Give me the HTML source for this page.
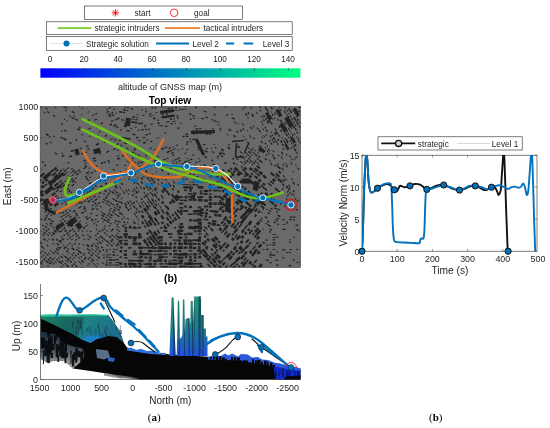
<!DOCTYPE html><html><head><meta charset="utf-8"><title>figure</title><style>html,body{margin:0;padding:0;background:#fff}svg{display:block}text{font-family:"Liberation Sans",sans-serif}</style></head><body>
<svg width="550" height="428" viewBox="0 0 550 428">
<defs><linearGradient id="winter" x1="0" x2="1" y1="0" y2="0"><stop offset="0" stop-color="#0000ff"/><stop offset="1" stop-color="#00ff80"/></linearGradient>
<linearGradient id="spike" gradientUnits="userSpaceOnUse" x1="0" x2="0" y1="296" y2="356"><stop offset="0" stop-color="#1f9c7a"/><stop offset="0.5" stop-color="#1f7c8c"/><stop offset="0.85" stop-color="#2060c0"/><stop offset="1" stop-color="#2050e0"/></linearGradient>
<clipPath id="mapclip"><rect x="40.2" y="106.4" width="260.3" height="161.2"/></clipPath>
<clipPath id="velclip"><rect x="362" y="155" width="175" height="96.5"/></clipPath>
<filter id="soft" x="0" y="0" width="1" height="1"><feGaussianBlur stdDeviation="0.35"/></filter>
</defs>
<rect width="550" height="428" fill="#fff"/>
<rect x="84.5" y="6" width="158.0" height="13.600000000000001" fill="#fff" stroke="#262626" stroke-width="0.6"/>
<rect x="46.4" y="21.8" width="245.79999999999998" height="12.8" fill="#fff" stroke="#262626" stroke-width="0.6"/>
<rect x="46.4" y="36.5" width="245.79999999999998" height="14.0" fill="#fff" stroke="#262626" stroke-width="0.6"/>
<line x1="111.70" y1="12.90" x2="119.10" y2="12.90" stroke="#ff0000" stroke-width="0.9"/>
<line x1="112.78" y1="10.28" x2="118.02" y2="15.52" stroke="#ff0000" stroke-width="0.9"/>
<line x1="115.40" y1="9.20" x2="115.40" y2="16.60" stroke="#ff0000" stroke-width="0.9"/>
<line x1="118.02" y1="10.28" x2="112.78" y2="15.52" stroke="#ff0000" stroke-width="0.9"/>
<text x="142.5" y="16.0" font-size="8.2" text-anchor="middle" font-weight="normal" fill="#1f1f1f" >start</text>
<circle cx="174.1" cy="12.8" r="3.8" fill="none" stroke="#ff0000" stroke-width="0.8"/>
<text x="201.8" y="16.0" font-size="8.2" text-anchor="middle" font-weight="normal" fill="#1f1f1f" >goal</text>
<line x1="57.5" y1="28.2" x2="91.3" y2="28.2" stroke="#78cc28" stroke-width="1.8"/>
<text x="94.6" y="31.2" font-size="8.2" text-anchor="start" font-weight="normal" fill="#1f1f1f" >strategic intruders</text>
<line x1="165" y1="28.2" x2="200" y2="28.2" stroke="#ee7a28" stroke-width="1.8"/>
<text x="203.5" y="31.2" font-size="8.2" text-anchor="start" font-weight="normal" fill="#1f1f1f" >tactical intruders</text>
<line x1="50.5" y1="43.5" x2="83" y2="43.5" stroke="#d4d4d4" stroke-width="0.7"/>
<circle cx="66.5" cy="43.5" r="3" fill="#0072bd"/>
<text x="86" y="46.8" font-size="8.2" text-anchor="start" font-weight="normal" fill="#1f1f1f" >Strategic solution</text>
<line x1="156" y1="43.5" x2="189" y2="43.5" stroke="#0072bd" stroke-width="1.8"/>
<text x="192.5" y="46.8" font-size="8.2" text-anchor="start" font-weight="normal" fill="#1f1f1f" >Level 2</text>
<path d="M226 43.5h8.2M243.6 43.5h9.6" stroke="#0072bd" stroke-width="1.8" fill="none"/>
<text x="262.8" y="46.8" font-size="8.2" text-anchor="start" font-weight="normal" fill="#1f1f1f" >Level 3</text>
<text x="50.0" y="62.4" font-size="8.2" text-anchor="middle" font-weight="normal" fill="#1f1f1f" >0</text>
<line x1="50.4" y1="68.2" x2="50.4" y2="70.6" stroke="#262626" stroke-width="0.5"/>
<text x="84.0" y="62.4" font-size="8.2" text-anchor="middle" font-weight="normal" fill="#1f1f1f" >20</text>
<line x1="84.39999999999999" y1="68.2" x2="84.39999999999999" y2="70.6" stroke="#262626" stroke-width="0.5"/>
<text x="118.0" y="62.4" font-size="8.2" text-anchor="middle" font-weight="normal" fill="#1f1f1f" >40</text>
<line x1="118.39999999999999" y1="68.2" x2="118.39999999999999" y2="70.6" stroke="#262626" stroke-width="0.5"/>
<text x="152.0" y="62.4" font-size="8.2" text-anchor="middle" font-weight="normal" fill="#1f1f1f" >60</text>
<line x1="152.4" y1="68.2" x2="152.4" y2="70.6" stroke="#262626" stroke-width="0.5"/>
<text x="186.0" y="62.4" font-size="8.2" text-anchor="middle" font-weight="normal" fill="#1f1f1f" >80</text>
<line x1="186.4" y1="68.2" x2="186.4" y2="70.6" stroke="#262626" stroke-width="0.5"/>
<text x="220.0" y="62.4" font-size="8.2" text-anchor="middle" font-weight="normal" fill="#1f1f1f" >100</text>
<line x1="220.4" y1="68.2" x2="220.4" y2="70.6" stroke="#262626" stroke-width="0.5"/>
<text x="254.0" y="62.4" font-size="8.2" text-anchor="middle" font-weight="normal" fill="#1f1f1f" >120</text>
<line x1="254.4" y1="68.2" x2="254.4" y2="70.6" stroke="#262626" stroke-width="0.5"/>
<text x="288.0" y="62.4" font-size="8.2" text-anchor="middle" font-weight="normal" fill="#1f1f1f" >140</text>
<line x1="288.40000000000003" y1="68.2" x2="288.40000000000003" y2="70.6" stroke="#262626" stroke-width="0.5"/>
<rect x="40.4" y="68.3" width="260" height="9.4" fill="url(#winter)"/>
<line x1="50.4" y1="68.2" x2="50.4" y2="70.8" stroke="#262626" stroke-width="0.5"/>
<line x1="84.39999999999999" y1="68.2" x2="84.39999999999999" y2="70.8" stroke="#262626" stroke-width="0.5"/>
<line x1="118.39999999999999" y1="68.2" x2="118.39999999999999" y2="70.8" stroke="#262626" stroke-width="0.5"/>
<line x1="152.4" y1="68.2" x2="152.4" y2="70.8" stroke="#262626" stroke-width="0.5"/>
<line x1="186.4" y1="68.2" x2="186.4" y2="70.8" stroke="#262626" stroke-width="0.5"/>
<line x1="220.4" y1="68.2" x2="220.4" y2="70.8" stroke="#262626" stroke-width="0.5"/>
<line x1="254.4" y1="68.2" x2="254.4" y2="70.8" stroke="#262626" stroke-width="0.5"/>
<line x1="288.40000000000003" y1="68.2" x2="288.40000000000003" y2="70.8" stroke="#262626" stroke-width="0.5"/>
<text x="170" y="89.5" font-size="9.1" text-anchor="middle" font-weight="normal" fill="#1f1f1f" >altitude of GNSS map (m)</text>
<text x="170" y="104" font-size="10.1" text-anchor="middle" font-weight="bold" fill="#000" >Top view</text>
<g clip-path="url(#mapclip)">
<rect x="40.2" y="106.4" width="260.3" height="161.2" fill="#6a6a6a"/>
<path fill="#202020" filter="url(#soft)" d="M45.7 107.5L47.9 108.5L47.4 109.5L45.2 108.5ZM44.2 111.8L45.5 112.5L45.0 113.6L43.6 112.9ZM47.2 111.0L49.8 112.4L49.3 113.3L46.7 111.9ZM55.1 106.6L56.4 107.3L55.9 108.1L54.7 107.4ZM53.5 114.7L55.5 115.7L54.8 117.0L52.9 116.0ZM63.5 105.8L65.9 107.1L65.2 108.3L62.9 107.0ZM65.9 107.2L67.8 108.3L67.3 109.1L65.4 107.9ZM65.4 109.5L67.0 110.4L66.4 111.4L64.9 110.5ZM64.0 118.3L65.4 119.2L64.9 120.0L63.5 119.2ZM61.5 123.0L63.3 124.2L62.8 125.1L60.9 124.0ZM72.1 110.7L74.8 112.2L74.1 113.5L71.4 112.0ZM68.9 115.2L71.2 116.4L70.8 117.1L68.5 115.9ZM66.9 120.1L68.1 120.7L67.7 121.5L66.5 120.9ZM79.1 105.6L80.6 106.6L80.0 107.5L78.5 106.5ZM73.9 115.3L75.2 116.0L74.7 116.9L73.3 116.2ZM71.7 116.9L74.6 118.3L74.0 119.4L71.2 118.0ZM75.4 118.4L77.9 119.8L77.3 120.9L74.8 119.6ZM80.9 114.5L82.1 114.0L82.5 114.9L81.2 115.4ZM81.5 108.4L83.2 107.7L83.5 108.6L81.9 109.3ZM87.0 120.2L89.3 119.1L90.0 120.6L87.6 121.7ZM88.1 123.1L90.7 121.8L91.1 122.8L88.5 124.0ZM87.5 111.9L88.8 111.2L89.3 112.0L87.9 112.7ZM93.8 125.3L95.1 124.8L95.7 126.4L94.4 126.9ZM92.1 115.0L93.7 114.2L94.2 115.1L92.5 115.9ZM93.8 119.8L96.7 118.7L97.1 119.7L94.2 120.8ZM94.8 113.9L96.8 112.8L97.2 113.7L95.3 114.7ZM100.6 123.3L102.8 122.3L103.2 123.2L101.0 124.3ZM109.3 124.5L111.4 123.3L112.2 124.8L110.1 125.9ZM106.1 109.5L107.8 108.8L108.1 109.6L106.4 110.3ZM106.3 111.8L108.8 110.9L109.3 112.1L106.8 113.1ZM107.5 114.5L110.4 113.3L110.9 114.4L107.9 115.6ZM108.9 116.1L110.8 115.1L111.4 116.2L109.4 117.2ZM110.7 120.9L112.9 119.9L113.4 121.0L111.2 122.0ZM113.2 125.6L116.2 124.1L116.8 125.4L113.9 126.9ZM108.2 107.9L110.9 106.8L111.3 107.8L108.6 108.8ZM111.2 112.4L112.6 111.7L113.4 113.1L112.0 113.9ZM111.5 115.3L114.0 114.2L114.5 115.3L112.0 116.4ZM114.3 119.9L117.0 118.6L117.4 119.3L114.7 120.7ZM111.9 106.0L113.3 105.2L113.9 106.3L112.5 107.1ZM113.1 108.9L114.6 108.2L115.1 109.1L113.5 109.9ZM115.1 113.2L117.0 112.4L117.3 113.1L115.5 113.9ZM116.9 118.2L119.0 117.3L119.7 118.7L117.6 119.7ZM119.4 111.1L122.4 111.5L122.2 112.9L119.2 112.5ZM124.4 106.8L126.0 107.0L125.9 107.9L124.3 107.7ZM123.3 108.9L126.2 109.4L126.0 110.9L123.0 110.5ZM123.0 111.8L125.2 112.3L125.0 113.2L122.8 112.7ZM121.1 119.2L124.2 119.7L124.1 120.7L120.9 120.2ZM127.0 107.2L129.3 107.6L129.2 108.4L126.9 108.0ZM127.0 110.1L128.4 110.4L128.2 111.4L126.9 111.2ZM124.5 122.7L126.4 123.0L126.1 124.7L124.2 124.3ZM123.9 125.1L126.9 125.8L126.5 127.3L123.6 126.7ZM130.9 108.1L133.2 108.6L132.9 109.8L130.6 109.3ZM128.7 120.6L130.0 120.9L129.8 121.8L128.5 121.5ZM132.4 116.0L135.2 116.6L134.9 118.0L132.1 117.5ZM131.6 118.6L134.3 119.2L134.1 120.1L131.4 119.6ZM131.5 121.0L134.2 121.4L134.0 123.1L131.2 122.6ZM136.9 114.2L138.5 114.5L138.3 115.5L136.7 115.2ZM136.5 117.1L137.9 117.4L137.7 118.4L136.3 118.1ZM135.5 119.0L137.8 119.5L137.5 120.7L135.2 120.2ZM134.3 121.5L137.5 122.2L137.1 123.8L133.9 123.1ZM138.4 122.4L140.2 122.7L139.9 124.3L138.2 124.1ZM139.9 123.2L142.8 122.5L143.0 123.8L140.2 124.4ZM141.4 109.3L142.7 109.0L143.0 110.2L141.7 110.5ZM141.8 115.2L144.7 114.6L144.9 115.3L142.0 116.0ZM144.2 125.0L146.3 124.6L146.5 125.7L144.5 126.1ZM145.1 108.8L146.5 108.6L146.6 109.5L145.2 109.7ZM144.8 111.3L146.6 111.0L146.8 112.3L145.0 112.5ZM148.6 113.7L151.3 113.1L151.5 114.3L148.8 114.8ZM148.6 116.2L151.7 115.5L151.9 116.4L148.8 117.0ZM150.3 123.8L152.9 123.2L153.1 124.2L150.5 124.8ZM151.3 107.2L153.1 107.0L153.2 108.6L151.5 108.8ZM152.6 115.2L154.3 114.9L154.4 115.7L152.8 116.1ZM152.9 117.7L155.4 117.3L155.6 118.9L153.2 119.3ZM154.3 106.9L156.1 106.6L156.4 108.2L154.5 108.5ZM155.5 112.2L157.3 112.0L157.4 113.0L155.6 113.2ZM157.4 119.7L158.8 119.5L159.0 120.9L157.6 121.1ZM157.5 122.5L159.6 122.3L159.7 123.9L157.7 124.1ZM158.0 125.2L159.5 125.1L159.6 126.0L158.1 126.2ZM160.1 125.4L163.0 124.9L163.1 125.9L160.3 126.4ZM161.3 106.3L163.1 105.9L163.3 107.2L161.5 107.6ZM161.9 114.1L163.6 113.8L163.8 115.1L162.1 115.4ZM164.6 105.8L166.4 105.4L166.7 107.0L165.0 107.4ZM165.9 113.6L167.7 113.2L168.0 114.6L166.2 114.9ZM165.6 116.5L167.7 116.3L167.9 117.7L165.7 117.9ZM166.2 121.6L169.4 121.0L169.6 122.0L166.4 122.6ZM167.3 108.1L170.5 107.6L170.7 108.8L167.5 109.3ZM169.6 115.8L171.6 115.4L171.8 116.4L169.8 116.8ZM169.9 118.4L172.0 118.3L172.1 119.9L170.0 120.0ZM170.7 123.0L172.3 122.8L172.5 124.5L170.9 124.7ZM171.2 107.4L173.3 107.1L173.4 108.2L171.4 108.5ZM171.7 110.4L174.8 109.8L175.0 110.7L171.8 111.2ZM173.1 118.4L174.5 118.1L174.8 119.3L173.4 119.6ZM172.8 121.1L175.8 120.8L175.9 121.6L172.8 121.9ZM174.4 123.1L175.8 123.0L175.8 123.8L174.5 123.9ZM175.0 106.8L176.9 106.6L177.1 108.3L175.2 108.5ZM175.6 110.4L177.4 110.1L177.5 110.9L175.7 111.1ZM176.4 115.4L178.2 115.1L178.4 116.3L176.6 116.6ZM176.6 117.3L178.8 117.1L178.9 118.3L176.7 118.5ZM178.9 109.1L180.8 108.8L181.0 109.9L179.1 110.2ZM180.1 122.8L181.5 122.7L181.6 123.9L180.2 124.1ZM181.8 109.1L183.3 108.8L183.5 110.1L182.1 110.3ZM184.0 106.1L187.0 105.8L187.1 106.8L184.2 107.2ZM184.6 109.1L186.4 108.8L186.6 109.8L184.8 110.1ZM189.0 113.6L191.2 113.2L191.5 114.7L189.3 115.1ZM189.8 118.6L191.5 118.4L191.7 120.0L190.1 120.3ZM192.1 115.4L194.6 114.9L194.8 116.2L192.4 116.7ZM193.2 117.8L194.9 117.4L195.2 118.7L193.4 119.1ZM194.3 126.0L196.2 125.6L196.4 126.5L194.5 126.9ZM194.9 107.0L197.0 106.6L197.3 107.8L195.2 108.2ZM203.9 110.4L206.8 111.6L206.3 112.7L203.5 111.5ZM201.6 117.6L203.9 118.4L203.4 119.7L201.1 118.8ZM205.8 116.4L208.0 117.1L207.5 118.5L205.3 117.8ZM213.0 105.6L215.9 106.8L215.5 107.9L212.6 106.6ZM214.2 113.8L215.9 114.4L215.4 115.7L213.7 115.1ZM211.5 119.1L214.3 120.2L214.0 121.0L211.2 119.9ZM214.7 120.3L217.1 121.3L216.6 122.4L214.2 121.5ZM218.2 121.5L219.7 122.0L219.3 123.1L217.8 122.6ZM217.3 124.2L219.7 125.0L219.4 125.8L217.0 125.0ZM223.8 105.4L225.8 106.7L225.2 107.6L223.2 106.3ZM226.6 113.9L228.4 114.8L227.7 116.1L225.9 115.2ZM231.6 113.4L233.0 114.4L232.5 115.1L231.1 114.2ZM232.1 117.0L235.0 118.5L234.4 119.7L231.5 118.2ZM234.1 121.3L236.6 122.8L236.1 123.6L233.6 122.1ZM237.6 123.0L238.8 123.6L238.4 124.4L237.2 123.7ZM245.0 106.1L246.0 107.6L244.8 108.3L243.9 106.8ZM243.0 107.8L244.1 109.5L243.2 110.1L242.2 108.3ZM250.9 106.0L252.4 108.7L251.6 109.2L250.0 106.4ZM259.7 105.6L261.1 107.9L259.9 108.5L258.6 106.3ZM248.4 111.8L249.6 113.9L248.5 114.4L247.4 112.3ZM246.3 113.1L247.5 115.2L246.0 116.0L244.9 113.9ZM256.8 111.7L257.7 113.4L256.8 113.9L255.9 112.2ZM252.5 113.6L254.0 116.2L252.8 117.0L251.2 114.4ZM248.0 116.9L248.8 118.5L248.1 118.9L247.2 117.3ZM242.5 122.8L244.0 125.5L243.3 125.9L241.8 123.2ZM265.5 105.9L266.9 108.5L265.7 109.2L264.3 106.5ZM260.6 109.4L261.5 110.9L260.4 111.6L259.4 110.1ZM273.9 105.2L274.8 106.5L273.4 107.4L272.5 106.1ZM271.5 106.6L273.0 108.8L271.9 109.6L270.4 107.4ZM267.3 108.5L268.7 111.1L267.3 111.8L266.0 109.2ZM279.6 106.3L280.4 107.8L279.6 108.2L278.8 106.7ZM271.2 111.0L271.9 112.3L271.2 112.8L270.4 111.5ZM268.6 112.8L269.3 113.9L268.5 114.5L267.8 113.3ZM266.4 113.2L268.2 115.8L267.1 116.5L265.3 113.9ZM264.2 114.9L265.3 116.8L264.0 117.5L262.9 115.6ZM261.7 115.6L263.4 118.1L262.7 118.6L261.0 116.1ZM279.0 109.6L280.5 112.0L279.0 112.8L277.6 110.4ZM275.2 112.3L276.2 114.4L275.2 114.9L274.2 112.8ZM272.9 113.7L273.7 115.2L272.5 115.9L271.6 114.4ZM270.5 114.9L272.0 117.4L270.8 118.1L269.3 115.6ZM267.9 116.7L269.1 118.4L267.8 119.3L266.6 117.6ZM266.2 117.7L267.0 119.4L265.6 120.1L264.8 118.4ZM263.9 119.2L265.0 121.2L263.9 121.8L262.8 119.8ZM261.6 120.6L262.6 122.4L261.7 122.8L260.8 121.1ZM279.0 113.8L280.1 115.7L278.9 116.5L277.7 114.6ZM274.5 117.3L275.4 118.7L274.6 119.3L273.6 117.9ZM272.1 118.0L273.1 119.6L272.1 120.1L271.2 118.6ZM269.3 119.3L271.0 122.0L269.8 122.8L268.1 120.0ZM267.6 120.1L269.3 122.9L268.0 123.7L266.3 120.9ZM262.8 123.4L263.6 125.0L262.6 125.5L261.8 124.0ZM277.9 118.4L279.2 120.6L278.2 121.2L276.9 119.0ZM271.6 121.9L272.7 124.1L271.4 124.8L270.3 122.6ZM285.2 106.3L286.1 108.0L284.9 108.7L284.0 107.0ZM280.8 109.2L281.8 110.7L280.8 111.3L279.8 109.8ZM289.3 107.7L290.4 110.0L289.1 110.7L288.0 108.4ZM287.1 109.6L288.3 111.7L287.5 112.1L286.3 110.1ZM284.9 110.4L286.1 112.6L285.0 113.2L283.8 111.1ZM299.9 105.8L301.0 107.6L299.6 108.4L298.5 106.6ZM294.8 107.7L296.5 110.5L295.5 111.1L293.8 108.3ZM293.3 109.5L294.5 111.3L293.5 112.0L292.3 110.1ZM291.1 110.3L292.4 112.8L290.9 113.5L289.6 111.1ZM288.9 112.7L289.8 114.2L289.0 114.7L288.1 113.2ZM286.7 113.3L287.9 115.5L287.0 115.9L285.8 113.8ZM299.2 110.3L300.2 112.0L299.1 112.6L298.1 111.0ZM294.7 112.4L295.9 114.1L295.0 114.7L293.9 113.0ZM290.4 115.3L291.3 116.9L290.4 117.4L289.5 115.8ZM288.7 116.1L289.7 117.9L288.2 118.6L287.3 116.8ZM281.0 119.6L282.3 122.2L281.1 122.8L279.8 120.2ZM298.6 114.2L299.4 115.8L298.6 116.2L297.8 114.6ZM297.2 115.4L298.0 116.8L296.5 117.6L295.8 116.1ZM294.7 116.7L296.0 119.2L294.7 119.9L293.4 117.3ZM292.3 117.8L293.5 120.2L292.4 120.8L291.2 118.4ZM289.5 119.6L290.5 121.1L289.7 121.7L288.7 120.1ZM287.8 121.0L288.5 122.4L287.5 123.0L286.7 121.5ZM285.3 121.8L286.7 124.4L285.6 125.0L284.2 122.3ZM283.0 123.3L284.0 125.2L282.6 126.0L281.6 124.1ZM281.3 124.3L282.4 126.5L281.2 127.2L280.0 124.9ZM298.1 118.5L299.2 120.5L297.8 121.2L296.7 119.3ZM295.9 119.4L297.3 122.1L296.3 122.6L294.9 119.9ZM293.8 121.3L295.0 123.2L294.0 123.8L292.8 121.9ZM289.2 124.0L290.3 126.0L289.4 126.5L288.3 124.5ZM300.1 121.6L301.0 123.4L300.1 123.8L299.2 122.1ZM297.8 122.0L299.2 124.3L297.9 125.2L296.4 122.8ZM295.9 124.2L296.7 125.7L295.3 126.5L294.5 125.0ZM46.6 133.3L49.0 134.8L48.1 136.2L45.7 134.7ZM49.1 135.8L51.2 137.1L50.7 137.8L48.6 136.5ZM46.1 142.6L47.9 143.6L47.2 144.8L45.4 143.7ZM53.9 135.4L55.1 136.0L54.4 137.3L53.2 136.7ZM49.7 141.4L52.2 142.7L51.7 143.6L49.3 142.3ZM61.4 130.2L62.6 130.8L61.9 132.0L60.7 131.4ZM64.3 129.5L66.9 131.0L66.3 132.1L63.7 130.5ZM60.9 136.6L63.4 138.0L62.8 139.0L60.3 137.5ZM63.9 137.8L66.7 139.4L66.0 140.7L63.2 139.0ZM79.3 126.3L80.8 127.3L80.2 128.2L78.6 127.2ZM77.7 127.9L80.3 129.3L79.6 130.7L77.0 129.3ZM69.7 141.7L71.7 143.0L70.9 144.2L68.9 142.9ZM75.9 138.9L77.5 139.7L76.8 141.0L75.2 140.2ZM81.1 134.5L82.6 133.8L83.0 134.7L81.5 135.4ZM84.1 141.0L85.4 140.4L86.1 142.0L84.8 142.5ZM86.0 146.2L88.2 145.0L88.7 146.0L86.6 147.2ZM88.9 136.1L90.5 135.4L90.9 136.3L89.3 137.0ZM88.3 128.5L90.6 127.3L91.1 128.4L88.9 129.5ZM95.7 144.2L98.6 142.7L99.3 144.2L96.4 145.7ZM96.0 136.5L98.5 135.1L99.2 136.4L96.7 137.7ZM97.1 138.1L99.7 136.9L100.4 138.4L97.8 139.6ZM95.9 127.5L97.6 126.6L98.1 127.5L96.4 128.4ZM98.3 132.3L100.6 131.0L101.0 131.7L98.7 133.0ZM103.5 141.7L106.4 140.3L107.1 141.7L104.2 143.1ZM104.3 136.0L106.7 134.7L107.3 135.9L104.9 137.1ZM110.0 139.4L112.9 137.9L113.3 138.7L110.4 140.2ZM114.0 139.7L115.7 138.9L116.4 140.3L114.7 141.1ZM115.9 144.2L118.6 143.1L119.0 144.1L116.3 145.2ZM118.8 140.2L120.3 139.5L121.0 140.8L119.5 141.6ZM115.7 127.2L118.0 126.2L118.5 127.3L116.2 128.4ZM120.4 129.0L121.9 129.2L121.7 130.6L120.3 130.5ZM122.0 136.9L125.1 137.3L124.9 138.5L121.8 138.1ZM120.5 144.8L122.5 145.1L122.3 146.4L120.3 146.1ZM126.9 129.7L129.6 130.2L129.3 131.7L126.6 131.2ZM125.1 137.4L128.1 138.0L127.8 139.6L124.8 139.1ZM123.8 142.6L127.0 143.1L126.9 144.0L123.7 143.6ZM130.8 127.6L132.3 127.9L132.0 129.3L130.5 129.0ZM128.1 137.8L131.1 138.4L130.8 139.8L127.8 139.3ZM134.5 126.6L136.6 126.9L136.5 127.8L134.4 127.5ZM132.7 133.4L135.6 134.0L135.3 135.6L132.4 135.0ZM137.9 129.5L139.8 129.9L139.5 131.1L137.6 130.6ZM136.3 136.5L138.6 136.9L138.3 138.5L136.0 138.2ZM138.6 139.7L140.7 140.3L140.4 141.5L138.3 140.9ZM141.0 129.6L143.6 129.1L143.8 130.2L141.2 130.6ZM142.7 137.2L145.0 136.7L145.2 137.9L142.9 138.4ZM143.1 142.1L145.6 141.6L145.9 143.3L143.4 143.7ZM144.1 126.5L145.7 126.2L145.8 127.1L144.3 127.4ZM145.0 129.0L146.5 128.8L146.7 130.1L145.2 130.3ZM145.1 134.3L147.8 133.8L148.0 135.0L145.3 135.5ZM146.3 139.4L148.0 139.0L148.3 140.2L146.6 140.6ZM147.5 128.9L149.8 128.4L150.1 129.6L147.7 130.1ZM148.9 133.0L150.4 132.7L150.7 134.3L149.2 134.5ZM150.4 140.8L152.1 140.4L152.4 142.0L150.7 142.4ZM156.1 137.9L159.1 137.3L159.2 138.1L156.2 138.6ZM164.3 132.9L166.1 132.1L166.5 132.9L164.7 133.7ZM165.1 126.0L167.1 125.3L167.7 126.8L165.6 127.5ZM176.0 145.0L177.9 144.4L178.3 145.5L176.3 146.1ZM177.2 127.8L179.0 127.0L179.6 128.6L177.8 129.3ZM182.6 136.0L184.4 135.8L184.5 137.1L182.7 137.2ZM185.6 133.6L187.7 133.4L187.8 134.9L185.7 135.1ZM185.6 135.8L188.5 135.7L188.6 137.0L185.6 137.1ZM186.2 141.4L188.8 141.2L188.9 142.5L186.3 142.6ZM186.0 143.5L187.7 143.3L187.8 144.8L186.1 144.9ZM189.6 138.6L190.9 138.5L191.0 140.0L189.7 140.1ZM189.9 141.4L191.7 141.3L191.8 142.2L189.9 142.3ZM192.4 130.6L195.5 130.5L195.5 131.8L192.4 131.9ZM193.2 132.9L194.7 132.9L194.6 134.5L193.2 134.5ZM192.5 138.7L195.0 138.5L195.1 140.1L192.6 140.3ZM195.8 128.0L197.8 127.9L197.9 129.5L195.9 129.6ZM196.3 130.5L198.3 130.4L198.4 131.4L196.3 131.4ZM195.7 132.9L198.1 132.7L198.2 133.8L195.8 134.0ZM196.3 140.6L198.0 140.6L198.0 141.6L196.3 141.7ZM198.7 128.4L201.4 128.1L201.5 129.0L198.8 129.2ZM202.2 131.3L204.2 131.2L204.3 132.6L202.3 132.8ZM202.8 144.2L205.5 144.1L205.5 145.1L202.8 145.2ZM205.3 133.8L208.4 133.6L208.4 134.4L205.4 134.7ZM209.2 133.4L210.9 133.2L211.0 134.8L209.4 134.9ZM212.2 128.4L214.1 128.3L214.2 129.2L212.3 129.4ZM213.2 144.0L215.1 143.9L215.1 144.7L213.3 144.8ZM219.6 127.8L221.2 127.7L221.3 129.3L219.8 129.4ZM219.4 130.5L221.0 130.3L221.1 131.3L219.4 131.5ZM229.0 128.6L231.5 130.2L230.7 131.4L228.2 129.8ZM227.2 133.8L228.7 134.7L228.2 135.5L226.7 134.5ZM236.3 130.7L238.7 131.9L238.2 133.0L235.8 131.7ZM233.7 134.7L236.0 136.2L235.1 137.4L232.9 135.9ZM228.5 143.9L230.4 144.8L229.8 145.8L228.0 144.9ZM243.2 127.7L244.3 129.9L243.4 130.4L242.3 128.2ZM240.7 129.1L242.0 131.4L240.8 132.0L239.6 129.7ZM253.5 125.3L254.5 126.9L253.5 127.5L252.6 125.9ZM251.0 126.5L252.4 128.8L251.4 129.4L250.0 127.0ZM247.3 130.0L248.1 131.3L247.5 131.7L246.7 130.5ZM257.3 127.2L258.6 129.1L257.6 129.7L256.3 127.8ZM243.8 135.4L244.6 137.0L243.8 137.4L243.0 135.8ZM259.8 129.6L261.0 131.9L259.7 132.6L258.5 130.3ZM250.0 135.0L251.5 137.6L250.6 138.1L249.1 135.6ZM246.2 138.5L246.9 139.7L245.8 140.3L245.1 139.1ZM254.0 137.2L255.1 138.8L254.0 139.5L252.9 137.9ZM247.4 141.4L248.2 142.5L247.3 143.2L246.5 142.0ZM265.4 126.5L266.4 128.1L265.4 128.7L264.4 127.1ZM263.5 128.2L264.4 129.9L263.4 130.5L262.5 128.7ZM266.9 129.2L268.0 131.6L266.9 132.2L265.7 129.8ZM279.8 125.6L280.8 127.4L279.4 128.1L278.4 126.4ZM275.4 128.2L276.7 130.5L275.7 131.1L274.4 128.8ZM271.3 131.4L272.1 132.7L271.3 133.2L270.5 132.0ZM266.4 133.9L267.2 135.2L266.1 135.9L265.3 134.6ZM263.9 135.0L265.3 137.1L264.5 137.5L263.2 135.5ZM262.4 136.6L263.1 137.9L262.1 138.5L261.4 137.2ZM276.6 131.1L278.3 134.0L277.1 134.7L275.4 131.9ZM275.0 131.9L276.5 134.8L275.3 135.4L273.8 132.5ZM272.3 134.3L273.2 135.8L272.3 136.4L271.3 134.9ZM270.6 135.2L271.9 137.6L270.8 138.1L269.6 135.7ZM261.5 140.4L262.8 142.9L261.8 143.4L260.5 140.9ZM279.3 134.5L280.4 136.2L279.2 137.0L278.1 135.3ZM274.1 137.1L275.3 139.2L274.0 140.0L272.8 137.8ZM272.4 138.5L273.4 139.9L272.4 140.6L271.4 139.2ZM269.9 139.8L270.7 141.1L269.4 141.9L268.6 140.6ZM265.7 142.5L266.5 143.9L265.1 144.6L264.3 143.2ZM260.8 145.2L261.7 147.0L260.9 147.4L260.0 145.6ZM278.7 138.6L279.5 140.1L278.2 140.9L277.4 139.4ZM276.0 139.7L277.7 142.2L276.7 142.8L275.1 140.3ZM274.1 140.9L275.0 142.4L273.7 143.2L272.7 141.8ZM271.4 142.3L272.6 144.2L271.6 144.9L270.3 143.1ZM267.6 145.1L268.3 146.2L267.3 146.9L266.6 145.7ZM277.7 143.0L278.6 144.6L277.5 145.3L276.6 143.6ZM285.7 126.5L286.9 128.6L285.6 129.4L284.4 127.2ZM281.3 129.5L282.2 131.1L280.9 131.9L280.0 130.2ZM293.7 125.3L295.2 127.7L293.9 128.5L292.4 126.0ZM291.3 126.8L292.3 128.7L291.5 129.1L290.6 127.1ZM288.9 128.1L290.1 129.8L289.2 130.4L288.1 128.7ZM286.7 129.1L288.3 131.7L287.3 132.3L285.7 129.7ZM284.7 131.3L285.5 132.5L284.5 133.0L283.8 131.8ZM299.5 125.2L301.0 127.9L299.9 128.5L298.3 125.8ZM295.6 127.8L297.0 130.3L296.0 130.9L294.6 128.4ZM290.6 131.1L291.5 132.7L290.8 133.1L289.9 131.5ZM288.7 132.7L289.8 134.6L288.9 135.1L287.9 133.2ZM286.7 133.0L287.9 135.4L286.5 136.2L285.2 133.7ZM282.0 136.9L282.8 138.3L282.0 138.7L281.2 137.3ZM297.5 131.4L298.4 133.1L297.1 133.8L296.2 132.1ZM294.7 133.1L295.4 134.4L294.5 135.0L293.7 133.7ZM292.6 133.5L293.7 135.8L292.8 136.2L291.6 134.0ZM290.0 135.1L291.7 137.9L291.0 138.3L289.3 135.5ZM288.4 136.6L289.2 138.0L288.4 138.5L287.6 137.0ZM286.0 137.9L287.1 140.0L286.0 140.6L284.8 138.6ZM283.7 139.2L285.0 141.7L284.1 142.1L282.8 139.7ZM281.4 139.9L282.8 142.4L281.4 143.2L280.0 140.8ZM296.9 136.2L297.6 137.4L296.6 138.0L295.9 136.9ZM291.3 137.8L292.9 140.1L292.2 140.6L290.6 138.3ZM290.0 139.4L291.3 141.4L290.5 142.0L289.2 139.9ZM287.4 140.1L288.7 142.6L287.3 143.3L286.0 140.9ZM285.3 141.5L286.8 144.4L285.7 145.0L284.2 142.1ZM282.9 143.6L284.0 145.3L282.7 146.1L281.6 144.5ZM298.1 138.2L299.4 140.9L298.7 141.3L297.3 138.6ZM291.5 142.5L292.5 144.0L291.6 144.6L290.6 143.0ZM299.8 140.8L301.3 143.8L300.4 144.2L298.9 141.3ZM295.3 143.7L296.7 146.1L295.4 146.8L294.0 144.4ZM42.7 161.0L44.0 161.7L43.3 163.2L41.9 162.5ZM44.8 164.2L46.3 165.1L45.5 166.4L44.0 165.5ZM54.9 152.3L57.7 153.9L57.2 154.9L54.4 153.2ZM61.4 153.1L62.7 152.7L63.1 153.9L61.7 154.3ZM61.5 155.6L64.2 155.0L64.5 156.3L61.9 157.0ZM66.7 163.0L69.8 162.1L70.1 162.8L66.9 163.8ZM68.9 156.0L71.8 155.3L72.2 156.7L69.3 157.4ZM70.6 150.4L73.4 149.8L73.7 151.4L70.9 151.9ZM80.0 147.9L81.6 147.4L82.0 149.0L80.4 149.4ZM81.3 153.0L82.9 152.6L83.3 154.1L81.6 154.5ZM83.4 160.3L85.4 159.6L85.8 161.1L83.8 161.7ZM84.4 163.2L85.8 162.8L86.1 163.8L84.7 164.2ZM84.6 165.4L86.6 164.9L87.1 166.5L85.1 167.0ZM84.2 152.2L86.8 151.4L87.1 152.5L84.5 153.3ZM86.3 159.4L88.0 159.0L88.3 160.3L86.6 160.7ZM87.5 162.0L89.4 161.6L89.6 162.5L87.7 163.0ZM87.1 148.7L89.1 148.0L89.6 149.4L87.5 150.1ZM92.3 158.2L95.4 157.3L95.9 158.7L92.7 159.6ZM93.4 160.6L96.2 160.0L96.4 161.1L93.6 161.7ZM94.8 165.9L97.2 165.2L97.5 166.4L95.1 167.1ZM98.2 151.6L100.7 150.7L101.1 152.0L98.6 152.8ZM98.9 153.2L100.3 152.8L100.7 154.3L99.2 154.6ZM100.6 162.9L103.0 161.8L103.6 163.1L101.2 164.2ZM103.6 162.2L105.4 161.3L106.0 162.4L104.2 163.3ZM107.3 160.5L109.0 159.6L109.7 161.0L108.0 161.9ZM108.4 162.5L109.7 161.9L110.2 163.1L108.9 163.7ZM106.0 151.9L108.9 150.6L109.4 151.8L106.5 153.1ZM116.1 164.9L118.0 163.9L118.7 165.1L116.7 166.1ZM112.8 149.2L115.6 147.9L116.2 149.1L113.3 150.3ZM116.3 156.2L119.0 154.8L119.4 155.6L116.8 157.1ZM116.9 158.6L119.5 157.3L120.2 158.7L117.6 160.1ZM117.1 150.0L118.4 149.3L119.0 150.6L117.7 151.3ZM126.2 147.2L128.9 148.9L128.3 149.8L125.7 148.1ZM122.3 154.5L124.1 155.4L123.5 156.7L121.6 155.7ZM128.0 152.0L130.5 153.6L130.0 154.3L127.5 152.7ZM134.9 146.5L136.9 147.5L136.2 148.9L134.2 147.9ZM134.1 148.6L135.7 149.6L134.8 150.9L133.2 149.9ZM132.1 151.2L134.3 152.5L133.4 153.9L131.3 152.6ZM130.8 153.7L132.5 154.6L132.0 155.6L130.2 154.7ZM126.9 160.4L129.0 161.7L128.5 162.4L126.5 161.2ZM124.4 164.4L126.4 165.6L126.0 166.4L124.0 165.2ZM135.4 153.0L136.8 153.9L135.9 155.3L134.5 154.4ZM132.7 157.3L134.0 158.1L133.2 159.5L131.9 158.7ZM131.2 159.7L133.2 160.8L132.7 161.6L130.7 160.5ZM129.7 161.7L131.5 162.9L131.0 163.7L129.2 162.5ZM138.0 154.3L140.7 156.0L140.0 157.0L137.3 155.3ZM134.2 161.6L135.8 162.4L135.4 163.2L133.8 162.3ZM138.4 161.0L140.5 162.3L140.0 163.1L137.9 161.8ZM137.8 162.7L139.3 163.6L138.6 164.7L137.1 163.8ZM140.4 162.1L143.2 161.3L143.5 162.4L140.7 163.2ZM141.1 165.2L143.2 164.5L143.4 165.3L141.4 166.0ZM139.0 149.0L140.9 148.2L141.2 149.1L139.3 149.8ZM144.1 152.3L146.5 151.5L147.0 153.0L144.6 153.8ZM145.3 155.2L146.8 154.5L147.4 156.1L145.9 156.7ZM151.6 163.6L154.7 162.7L155.0 163.9L152.0 164.8ZM149.0 148.3L151.8 147.2L152.2 148.1L149.4 149.2ZM153.8 160.5L156.6 159.6L157.0 161.1L154.3 161.9ZM155.5 162.3L156.9 161.8L157.4 163.1L156.0 163.6ZM153.4 149.8L155.5 149.0L155.8 149.7L153.7 150.5ZM156.8 156.7L158.5 156.1L158.9 157.1L157.2 157.7ZM157.3 159.0L159.1 158.4L159.5 159.8L157.8 160.3ZM158.2 161.6L160.7 160.6L161.0 161.3L158.5 162.3ZM157.1 148.2L158.7 147.6L159.3 149.1L157.7 149.7ZM159.7 161.0L162.6 159.6L163.0 160.5L160.1 161.9ZM161.0 163.3L162.5 162.5L163.3 164.0L161.8 164.7ZM162.6 165.5L164.0 164.8L164.5 166.0L163.2 166.6ZM163.1 159.4L165.5 158.4L165.9 159.5L163.6 160.5ZM165.3 164.2L167.4 163.1L168.0 164.4L165.9 165.4ZM161.2 148.6L164.0 147.4L164.5 148.7L161.8 149.9ZM166.5 158.5L168.3 157.6L168.7 158.4L166.9 159.3ZM169.4 164.8L171.3 164.0L171.9 165.3L170.0 166.1ZM165.0 147.3L167.2 146.4L167.6 147.5L165.4 148.4ZM166.5 151.9L169.4 150.4L170.0 151.7L167.2 153.2ZM171.8 160.9L173.3 160.3L173.8 161.4L172.3 162.0ZM172.4 163.6L174.2 162.9L174.5 163.7L172.7 164.4ZM168.6 147.7L170.4 146.9L171.1 148.4L169.3 149.2ZM170.0 150.8L171.7 150.0L172.2 151.0L170.6 151.8ZM170.9 153.1L173.8 151.9L174.2 153.0L171.4 154.2ZM172.3 155.0L173.8 154.3L174.4 155.7L172.9 156.3ZM174.4 159.5L176.2 158.7L176.9 160.1L175.0 161.0ZM175.5 162.6L178.1 161.4L178.4 162.1L175.9 163.4ZM172.2 146.9L173.9 146.2L174.2 147.0L172.6 147.7ZM172.6 149.3L175.3 148.3L175.7 149.1L172.9 150.2ZM176.8 158.4L179.7 157.2L180.3 158.5L177.4 159.7ZM178.7 160.5L180.3 159.9L180.9 161.3L179.3 162.0ZM177.3 150.0L179.2 149.3L179.5 150.0L177.6 150.8ZM181.1 163.6L183.4 162.7L183.8 163.6L181.5 164.5ZM181.8 165.9L184.3 164.9L184.8 166.2L182.3 167.2ZM183.8 161.8L186.2 160.5L186.9 161.7L184.5 163.0ZM181.5 148.7L183.2 148.1L183.5 149.0L181.9 149.6ZM183.9 153.6L186.3 152.3L186.7 153.0L184.4 154.3ZM186.2 158.2L187.9 157.4L188.2 158.2L186.5 158.9ZM186.6 160.9L189.3 159.5L189.7 160.3L187.0 161.6ZM188.4 162.6L190.6 161.7L191.0 162.6L188.7 163.5ZM185.6 149.9L188.1 148.5L188.5 149.2L186.0 150.6ZM189.9 159.2L192.1 158.3L192.5 159.5L190.4 160.4ZM193.1 166.2L196.0 164.7L196.4 165.5L193.4 166.9ZM192.2 154.8L193.8 154.2L194.3 155.2L192.7 155.9ZM195.1 162.5L197.6 161.4L198.0 162.3L195.5 163.4ZM198.0 158.7L199.6 158.0L199.9 158.7L198.4 159.4ZM198.8 161.3L200.6 160.4L201.0 161.3L199.2 162.2ZM196.7 147.8L198.2 147.1L198.7 148.1L197.2 148.8ZM197.8 149.9L199.3 149.3L199.6 150.2L198.2 150.7ZM206.7 147.6L208.1 148.4L207.5 149.5L206.1 148.8ZM205.1 150.0L207.8 151.6L207.1 152.8L204.4 151.3ZM211.0 147.4L212.2 148.0L211.8 148.9L210.6 148.3ZM204.8 155.8L207.4 157.4L206.8 158.4L204.1 156.9ZM200.5 164.8L202.0 165.7L201.2 167.1L199.6 166.2ZM215.2 146.8L216.7 147.7L216.0 148.8L214.6 147.9ZM212.0 151.0L214.3 152.5L213.9 153.2L211.5 151.8ZM203.9 164.1L206.5 165.8L205.7 166.9L203.1 165.2ZM211.9 159.2L213.3 159.9L212.6 161.4L211.2 160.7ZM219.5 152.3L221.8 153.6L221.0 155.0L218.7 153.8ZM218.3 155.0L219.5 155.7L218.7 157.0L217.6 156.2ZM216.6 156.4L219.0 157.9L218.5 158.7L216.1 157.1ZM212.9 163.3L215.5 164.8L214.9 165.9L212.3 164.4ZM216.1 165.3L217.3 166.0L216.8 167.1L215.5 166.5ZM221.9 148.3L224.1 150.2L223.1 151.4L220.9 149.4ZM220.7 151.1L222.4 152.5L221.8 153.2L220.2 151.8ZM228.2 146.6L230.4 148.3L229.4 149.5L227.2 147.8ZM223.2 152.5L225.2 154.0L224.2 155.3L222.2 153.8ZM221.2 154.9L223.3 156.6L222.5 157.6L220.4 155.9ZM238.1 145.6L240.2 147.2L239.3 148.5L237.1 146.8ZM225.2 161.7L226.9 163.1L225.7 164.4L224.1 162.9ZM233.2 157.6L234.5 158.8L233.4 159.9L232.1 158.7ZM236.6 157.6L238.8 159.5L238.1 160.3L235.9 158.4ZM233.5 162.1L235.3 163.6L234.4 164.7L232.6 163.2ZM236.5 163.9L237.9 165.0L237.2 165.8L235.8 164.7ZM240.7 151.1L242.4 152.5L241.4 153.6L239.8 152.1ZM248.2 147.2L249.7 148.4L249.2 149.0L247.7 147.9ZM244.7 151.2L246.7 152.7L245.8 153.8L243.9 152.3ZM243.1 153.3L244.2 154.2L243.8 154.8L242.6 153.9ZM240.8 155.0L243.4 157.0L242.5 158.1L240.0 156.1ZM252.6 147.4L254.1 148.7L253.3 149.6L251.9 148.3ZM250.6 148.7L252.9 150.8L252.2 151.6L249.9 149.5ZM248.8 150.8L251.3 152.6L250.4 153.8L247.9 152.1ZM247.1 153.2L249.4 155.3L248.8 156.0L246.4 153.9ZM246.2 155.6L247.4 156.6L246.8 157.3L245.6 156.2ZM243.6 157.9L245.0 159.0L244.5 159.6L243.1 158.6ZM240.6 161.1L242.7 162.8L242.1 163.5L240.0 161.8ZM258.7 145.7L259.9 146.7L259.3 147.4L258.1 146.5ZM255.0 149.7L256.3 150.8L255.6 151.5L254.4 150.4ZM252.9 151.7L255.3 153.6L254.8 154.2L252.4 152.4ZM251.4 153.9L253.2 155.2L252.7 155.9L250.9 154.6ZM249.6 155.6L251.4 157.0L250.8 157.7L249.0 156.3ZM248.6 157.6L250.3 158.9L249.5 159.8L247.9 158.6ZM246.8 159.6L248.8 161.5L247.9 162.5L245.9 160.6ZM244.4 160.9L246.8 163.0L245.9 164.0L243.6 161.8ZM243.8 163.8L244.9 164.8L244.3 165.5L243.2 164.5ZM241.3 165.7L243.0 167.1L242.3 167.9L240.6 166.5ZM258.6 149.0L261.1 151.1L260.3 152.1L257.8 149.9ZM258.0 152.0L259.1 152.9L258.4 153.8L257.3 153.0ZM255.6 153.8L257.4 155.5L256.5 156.5L254.7 154.8ZM250.3 159.5L252.6 161.7L251.9 162.4L249.7 160.2ZM249.2 161.7L250.6 162.8L250.1 163.4L248.7 162.4ZM258.3 155.2L260.6 157.4L259.9 158.2L257.5 156.0ZM257.3 157.8L258.9 159.4L258.0 160.3L256.4 158.7ZM255.2 160.3L256.5 161.4L255.6 162.6L254.2 161.5ZM253.0 161.5L255.4 163.6L254.7 164.4L252.3 162.3ZM252.1 163.6L253.6 165.0L253.0 165.7L251.4 164.3ZM259.6 159.8L261.3 161.1L260.5 162.2L258.8 160.8ZM257.0 161.9L259.4 164.0L258.8 164.7L256.4 162.6ZM265.3 146.8L266.2 148.4L265.4 148.8L264.5 147.3ZM268.5 148.2L270.3 150.9L269.3 151.5L267.6 148.8ZM267.4 150.0L268.3 151.7L267.4 152.2L266.5 150.6ZM273.5 150.3L274.3 151.9L273.1 152.5L272.3 150.9ZM269.1 152.5L269.8 153.8L268.4 154.5L267.7 153.2ZM266.5 154.1L267.4 155.6L266.5 156.3L265.5 154.8ZM272.8 154.2L274.0 156.1L272.9 156.8L271.6 154.9ZM265.9 157.9L266.9 159.8L265.4 160.6L264.5 158.6ZM261.3 160.6L262.8 163.0L261.8 163.6L260.3 161.3ZM278.5 154.4L279.4 155.9L278.5 156.5L277.6 155.0ZM274.6 156.8L275.7 158.9L274.3 159.7L273.1 157.5ZM269.8 159.5L270.9 161.4L270.3 161.9L269.1 159.9ZM271.1 162.7L272.5 165.1L271.6 165.6L270.2 163.2ZM278.1 163.1L278.9 164.3L277.8 165.0L277.1 163.8ZM275.3 164.2L276.2 165.7L275.0 166.4L274.1 165.0ZM283.8 147.8L284.6 149.1L283.2 150.0L282.4 148.6ZM293.5 145.3L294.7 147.1L293.7 147.8L292.5 146.0ZM291.9 147.0L292.6 148.4L291.5 149.0L290.8 147.7ZM282.0 151.4L283.5 154.2L282.4 154.8L280.9 152.1ZM295.0 148.3L296.6 150.7L295.3 151.6L293.8 149.1ZM286.7 153.8L287.5 155.0L286.4 155.8L285.6 154.5ZM281.6 156.2L282.9 158.5L282.0 159.0L280.7 156.7ZM296.8 151.5L298.1 153.9L297.3 154.4L295.9 151.9ZM290.3 155.2L291.3 156.9L290.2 157.6L289.1 156.0ZM296.4 155.9L297.4 157.6L296.2 158.3L295.2 156.7ZM294.5 157.4L295.7 159.4L294.9 159.9L293.8 157.9ZM292.3 158.6L293.1 159.9L292.0 160.5L291.2 159.1ZM285.5 162.4L286.2 163.7L285.2 164.3L284.5 163.0ZM283.3 163.9L284.3 165.6L283.3 166.2L282.3 164.5ZM291.5 162.2L292.5 164.2L291.3 164.8L290.3 162.8ZM287.0 164.8L288.0 166.8L286.9 167.4L285.8 165.5ZM295.7 164.1L296.8 165.8L296.1 166.3L295.0 164.5ZM39.4 180.5L41.4 179.0L42.3 180.1L40.3 181.7ZM41.2 182.6L43.2 180.8L44.9 182.6L42.9 184.5ZM42.4 186.4L46.7 183.2L47.6 184.4L43.3 187.6ZM39.6 175.6L43.8 172.4L45.2 174.1L41.0 177.4ZM44.4 179.9L46.5 178.1L48.3 180.2L46.2 182.0ZM47.3 182.1L49.7 180.3L50.9 181.9L48.6 183.7ZM48.8 184.4L50.9 182.6L52.5 184.5L50.4 186.3ZM46.0 175.4L49.5 172.4L50.9 174.1L47.5 177.1ZM52.3 182.1L54.8 179.8L56.1 181.2L53.6 183.5ZM53.9 185.3L57.9 182.2L59.1 183.7L55.1 186.9ZM56.0 187.4L60.1 184.2L61.6 186.3L57.6 189.4ZM49.7 171.8L53.0 169.0L54.2 170.5L50.9 173.3ZM51.5 174.9L55.4 172.0L56.5 173.5L52.6 176.4ZM53.2 177.4L57.0 173.8L58.7 175.6L54.9 179.2ZM53.4 168.9L55.8 166.8L57.5 168.6L55.1 170.8ZM55.5 170.9L57.8 169.1L58.7 170.2L56.4 172.0ZM58.1 173.4L59.9 171.8L60.9 172.9L59.0 174.5ZM58.9 181.7L61.3 180.0L62.2 181.3L59.9 183.1ZM60.6 184.1L63.0 182.2L63.9 183.3L61.5 185.2ZM62.7 185.6L64.5 184.0L65.5 185.2L63.7 186.8ZM64.3 181.7L65.7 180.3L66.5 181.1L65.0 182.5ZM67.2 185.6L69.0 183.9L69.8 184.7L68.0 186.4ZM59.2 171.2L61.5 169.3L62.4 170.5L60.1 172.3ZM62.5 175.2L64.9 173.3L65.9 174.7L63.5 176.6ZM66.7 179.0L68.2 177.8L68.9 178.6L67.4 179.8ZM68.3 181.9L70.4 180.2L71.0 180.9L68.9 182.6ZM71.2 185.8L73.6 183.8L74.4 184.8L72.1 186.8ZM62.9 169.1L64.0 168.3L64.8 169.3L63.7 170.1ZM63.3 171.4L65.8 169.5L66.6 170.5L64.1 172.5ZM65.4 173.2L67.3 171.6L68.0 172.4L66.1 174.0ZM67.6 175.2L68.8 174.3L69.3 174.9L68.1 175.8ZM68.9 177.0L70.3 175.9L71.1 176.9L69.6 178.0ZM70.7 179.2L72.6 177.7L73.5 178.8L71.6 180.3ZM71.5 181.5L73.8 179.6L74.9 180.8L72.6 182.8ZM74.3 182.4L75.4 181.5L76.4 182.6L75.3 183.6ZM66.2 169.0L68.3 167.1L69.0 167.9L66.8 169.7ZM69.9 172.6L71.1 171.5L71.8 172.3L70.5 173.3ZM71.7 175.1L73.0 174.0L73.8 175.0L72.5 176.1ZM74.8 178.5L76.1 177.3L77.0 178.3L75.7 179.5ZM70.8 168.9L72.4 167.5L73.1 168.4L71.6 169.8ZM71.8 171.2L74.2 169.3L75.0 170.3L72.6 172.2ZM73.9 172.7L75.8 171.0L76.8 172.2L74.9 173.9ZM76.0 174.5L78.0 172.8L78.9 173.9L76.9 175.6ZM77.0 170.8L79.0 169.1L79.8 169.9L77.7 171.6ZM78.8 171.8L80.0 170.8L81.1 172.0L79.9 173.0ZM84.7 176.6L86.5 175.6L87.1 176.6L85.3 177.6ZM85.8 178.6L87.4 177.5L88.3 178.8L86.6 179.9ZM87.3 180.4L88.5 179.6L89.3 180.8L88.1 181.6ZM88.7 183.5L91.1 182.1L91.8 183.4L89.4 184.7ZM83.1 168.2L85.9 166.8L86.5 167.8L83.7 169.3ZM86.0 173.0L88.6 171.3L89.4 172.5L86.9 174.2ZM88.2 174.8L89.5 173.9L90.0 174.6L88.7 175.5ZM89.3 177.1L90.8 176.2L91.4 177.4L90.0 178.2ZM94.6 185.8L96.1 184.8L97.0 186.2L95.5 187.2ZM88.5 168.0L89.9 167.2L90.5 168.1L89.0 168.9ZM90.6 172.7L92.6 171.7L93.3 173.0L91.3 174.0ZM94.0 170.7L95.5 169.9L96.0 170.9L94.5 171.7ZM97.3 178.2L99.9 176.8L100.4 177.8L97.9 179.2ZM103.5 178.8L106.2 180.1L105.6 181.2L102.9 179.9ZM100.2 185.2L102.7 186.6L102.1 187.7L99.6 186.4ZM113.0 168.6L115.4 170.2L114.9 170.9L112.5 169.4ZM105.5 182.6L107.5 183.6L106.8 184.9L104.8 183.8ZM115.4 178.7L117.7 180.3L117.2 181.1L114.9 179.5ZM118.0 181.1L120.3 182.3L119.8 183.3L117.5 182.1ZM115.2 185.0L117.8 186.5L117.0 187.9L114.4 186.4ZM120.0 170.9L122.8 172.3L122.4 173.1L119.5 171.7ZM126.0 168.2L128.0 169.4L127.5 170.3L125.4 169.2ZM123.7 172.3L126.3 174.0L125.7 174.8L123.1 173.1ZM127.8 171.7L130.5 173.2L129.8 174.5L127.0 173.0ZM121.2 182.7L123.5 183.9L123.0 185.1L120.6 183.9ZM133.8 169.1L135.6 170.1L135.0 171.2L133.2 170.3ZM130.4 173.1L133.1 174.9L132.2 176.3L129.5 174.5ZM129.1 175.6L131.2 176.7L130.7 177.6L128.6 176.5ZM128.5 178.1L130.8 179.3L130.1 180.4L127.9 179.2ZM136.7 170.5L138.8 171.9L138.3 172.7L136.2 171.3ZM135.3 173.2L136.5 173.8L135.9 174.9L134.7 174.3ZM137.5 177.0L138.8 177.7L138.2 178.7L136.9 178.0ZM135.6 179.3L137.6 180.3L136.9 181.7L134.9 180.8ZM134.2 181.8L135.7 182.6L134.9 183.9L133.4 183.1ZM136.9 182.5L139.6 184.2L139.0 185.2L136.3 183.5ZM139.7 165.6L141.3 168.0L140.4 168.5L138.9 166.2ZM146.0 170.1L147.6 172.3L146.6 173.1L144.9 170.9ZM144.2 172.1L145.2 173.4L144.5 173.9L143.5 172.6ZM148.2 173.3L149.0 174.5L148.1 175.2L147.2 174.0ZM144.1 176.0L144.9 177.2L143.9 177.9L143.1 176.6ZM141.9 177.0L143.3 179.3L142.0 180.1L140.6 177.8ZM156.5 171.2L157.3 172.4L156.6 172.9L155.8 171.7ZM152.2 173.7L153.6 175.5L152.3 176.5L150.9 174.6ZM149.8 174.9L151.8 177.4L150.7 178.2L148.7 175.8ZM147.5 176.8L149.4 179.2L148.3 180.0L146.4 177.7ZM141.6 181.0L143.2 183.3L142.0 184.1L140.4 181.8ZM153.5 176.6L155.4 179.1L154.8 179.5L152.9 177.1ZM152.1 177.9L153.6 180.1L152.2 181.0L150.7 178.8ZM150.0 179.6L151.3 181.2L150.2 182.1L148.9 180.5ZM158.1 178.3L159.4 180.2L158.4 180.9L157.0 179.0ZM153.9 180.4L155.7 183.0L154.5 183.9L152.6 181.3ZM151.8 182.8L153.5 184.9L152.4 185.8L150.7 183.7ZM158.1 182.9L159.3 184.4L158.6 184.9L157.4 183.3ZM159.6 165.2L161.4 167.9L160.4 168.6L158.6 165.8ZM161.8 168.2L163.5 170.8L162.3 171.6L160.6 169.0ZM171.0 167.8L171.8 168.9L171.0 169.6L170.1 168.5ZM168.1 172.7L169.4 174.6L168.4 175.3L167.1 173.4ZM164.1 175.9L165.1 177.4L164.1 178.1L163.1 176.5ZM162.0 177.4L163.3 179.4L162.4 180.0L161.1 178.0ZM176.2 170.6L178.0 173.1L177.0 173.9L175.2 171.3ZM165.8 178.5L167.0 180.3L166.0 181.0L164.8 179.1ZM162.0 181.8L163.0 183.3L161.8 184.1L160.8 182.6ZM176.2 176.1L177.0 177.3L176.1 177.9L175.3 176.7ZM168.0 181.7L169.2 183.4L168.5 183.9L167.3 182.2ZM166.1 183.3L167.1 184.9L166.0 185.5L165.0 184.0ZM173.5 180.6L175.2 183.4L174.4 183.9L172.7 181.1ZM169.8 183.5L171.4 186.0L170.0 186.9L168.4 184.3ZM168.0 185.7L168.9 187.0L167.6 187.9L166.7 186.6ZM178.3 182.4L179.1 183.5L178.1 184.2L177.3 183.1ZM173.6 184.8L175.1 187.0L174.0 187.8L172.5 185.6ZM183.0 168.0L184.7 168.1L184.7 169.6L183.0 169.6ZM183.0 173.8L184.4 173.8L184.4 174.9L183.0 174.9ZM182.6 176.2L184.4 176.3L184.3 177.3L182.6 177.2ZM182.2 178.7L185.5 178.8L185.5 179.8L182.2 179.7ZM183.1 181.1L184.5 181.1L184.5 182.6L183.1 182.6ZM181.8 184.0L185.1 184.0L185.1 184.9L181.8 184.8ZM185.6 173.3L187.7 173.3L187.6 174.8L185.6 174.8ZM185.2 176.3L188.5 176.1L188.6 176.9L185.3 177.2ZM186.1 178.9L187.6 178.9L187.7 180.0L186.2 180.0ZM185.3 184.2L188.6 184.1L188.6 185.1L185.3 185.1ZM188.7 171.2L191.7 171.2L191.7 172.3L188.7 172.3ZM189.5 173.1L191.0 173.1L191.0 174.8L189.5 174.7ZM189.6 176.2L191.6 176.2L191.6 177.2L189.6 177.3ZM189.4 181.7L191.5 181.7L191.5 182.6L189.4 182.7ZM189.4 184.2L191.2 184.2L191.2 185.6L189.4 185.7ZM193.0 171.0L194.8 171.0L194.8 172.6L193.0 172.6ZM193.0 174.0L194.7 173.9L194.7 174.8L193.0 174.9ZM192.5 178.8L195.0 178.8L195.0 179.8L192.5 179.8ZM192.3 181.2L194.6 181.3L194.6 182.6L192.3 182.5ZM192.5 183.7L195.1 183.7L195.1 185.2L192.5 185.2ZM196.2 176.2L198.5 176.1L198.5 177.7L196.3 177.9ZM195.8 181.0L198.9 181.1L198.9 182.8L195.7 182.6ZM195.3 184.3L198.2 184.3L198.2 185.6L195.3 185.6ZM201.6 178.9L204.7 178.7L204.8 179.8L201.7 180.0ZM202.0 181.5L204.6 181.4L204.6 182.3L202.0 182.4ZM205.5 181.2L208.7 181.0L208.8 182.5L205.6 182.7ZM209.2 176.3L211.9 176.2L212.0 177.4L209.3 177.5ZM208.7 181.5L211.5 181.4L211.6 183.0L208.8 183.0ZM209.4 183.8L211.1 183.8L211.1 185.5L209.4 185.5ZM212.6 168.3L215.4 168.2L215.5 169.6L212.7 169.7ZM212.3 171.0L215.0 170.9L215.1 172.3L212.3 172.4ZM212.6 183.8L215.4 183.7L215.4 184.8L212.7 184.9ZM215.9 173.3L218.4 173.4L218.3 174.4L215.9 174.3ZM215.7 176.4L218.7 176.2L218.8 177.5L215.8 177.7ZM215.8 181.6L218.8 181.5L218.8 183.0L215.8 183.1ZM223.0 169.1L224.9 170.6L223.7 172.2L221.8 170.7ZM230.5 167.3L232.6 169.0L231.5 170.2L229.5 168.5ZM228.6 169.1L231.2 171.5L229.8 173.0L227.2 170.6ZM226.8 172.2L228.6 173.6L227.0 175.6L225.2 174.2ZM221.6 176.8L225.1 179.7L224.0 181.0L220.5 178.1ZM220.7 179.3L222.5 180.9L221.0 182.6L219.2 181.1ZM235.0 166.8L238.9 169.7L237.4 171.8L233.4 168.9ZM234.0 170.2L235.9 171.8L234.6 173.4L232.7 171.8ZM230.9 171.8L234.7 174.6L233.3 176.5L229.5 173.8ZM230.3 175.5L232.3 177.1L230.9 179.0L228.9 177.4ZM227.5 177.0L231.1 179.9L229.9 181.4L226.3 178.5ZM225.0 179.2L228.9 182.7L227.5 184.2L223.6 180.7ZM222.1 184.9L224.1 186.8L222.9 188.2L220.8 186.4ZM239.3 170.4L242.0 172.9L240.5 174.6L237.8 172.1ZM238.0 172.4L240.5 174.6L238.8 176.6L236.3 174.4ZM231.5 180.9L233.6 182.5L232.5 183.9L230.4 182.4ZM234.6 183.3L237.4 185.4L236.3 186.9L233.5 184.7ZM245.0 166.5L247.3 168.6L245.5 170.5L243.3 168.4ZM242.5 168.5L245.9 171.5L244.9 172.6L241.5 169.6ZM240.8 171.7L243.0 173.4L241.8 174.9L239.6 173.3ZM250.5 166.9L253.0 168.8L251.3 171.0L248.8 169.1ZM245.9 171.8L249.3 174.4L247.7 176.4L244.3 173.8ZM244.9 174.6L246.6 176.1L245.4 177.6L243.6 176.2ZM240.4 179.9L242.3 181.7L240.9 183.3L239.0 181.5ZM257.5 164.9L260.4 167.7L259.0 169.1L256.1 166.3ZM255.3 167.7L258.6 170.1L257.1 172.0L253.9 169.6ZM253.1 169.7L256.6 172.6L255.7 173.6L252.3 170.7ZM251.6 172.6L253.7 174.2L252.7 175.5L250.6 173.9ZM250.1 174.8L252.2 176.4L250.6 178.5L248.5 176.9ZM245.4 179.6L248.9 182.6L247.9 183.7L244.4 180.7ZM242.1 185.2L243.9 186.6L242.4 188.5L240.6 187.0ZM259.5 170.9L261.6 172.6L260.4 174.2L258.2 172.4ZM257.0 173.0L260.4 175.6L259.5 176.8L256.2 174.2ZM255.3 175.2L258.3 177.6L257.0 179.3L254.0 176.9ZM251.0 179.9L255.2 183.2L253.5 185.3L249.3 182.0ZM259.5 178.6L261.6 180.4L259.8 182.6L257.6 180.7ZM255.8 180.7L259.7 183.7L258.7 185.0L254.8 182.0ZM254.3 182.9L257.7 185.8L256.8 186.9L253.3 184.0ZM261.0 171.4L263.2 173.1L261.4 175.3L259.3 173.5ZM263.9 174.6L266.8 177.3L265.3 178.9L262.4 176.1ZM277.7 164.9L281.2 168.3L280.0 169.5L276.5 166.2ZM271.3 171.9L274.8 175.1L273.4 176.6L269.9 173.5ZM263.6 182.4L265.7 184.0L264.4 185.8L262.3 184.2ZM261.4 184.4L264.7 187.4L263.6 188.7L260.3 185.6ZM279.2 170.7L281.5 172.6L280.3 174.1L277.9 172.2ZM276.3 173.0L280.2 176.0L279.0 177.5L275.1 174.5ZM275.8 176.1L277.5 177.6L276.6 178.7L274.8 177.3ZM273.7 178.1L275.9 180.2L274.0 182.3L271.8 180.2ZM270.7 180.4L274.3 183.6L273.4 184.6L269.8 181.4ZM268.5 182.4L272.2 185.4L271.2 186.6L267.5 183.6ZM278.8 178.1L282.2 181.0L280.7 182.7L277.3 179.8ZM282.5 167.5L284.0 170.3L283.0 170.8L281.5 168.1ZM298.2 167.5L299.0 168.9L297.8 169.5L297.0 168.1ZM293.3 170.7L294.0 172.1L292.9 172.6L292.2 171.2ZM283.4 174.9L285.2 177.6L284.4 178.1L282.6 175.4ZM285.9 178.4L286.9 180.1L285.8 180.7L284.8 179.0ZM283.4 179.1L284.9 181.2L283.5 182.1L282.0 180.0ZM281.9 181.3L282.5 182.6L281.5 183.1L280.9 181.8ZM292.2 178.3L293.2 180.1L292.3 180.6L291.3 178.8ZM283.2 183.1L284.5 185.5L283.2 186.3L281.9 183.8ZM293.6 181.4L295.0 184.1L293.8 184.8L292.3 182.0ZM289.1 184.2L290.3 186.4L289.3 186.9L288.1 184.7ZM287.3 185.5L288.4 187.6L287.0 188.4L285.8 186.3ZM298.0 183.5L299.1 185.4L298.0 186.0L296.9 184.1ZM38.1 200.5L41.6 197.9L43.3 200.1L39.8 202.8ZM41.1 204.2L44.6 201.1L45.5 202.1L42.0 205.2ZM43.4 205.5L45.5 203.6L47.1 205.4L44.9 207.3ZM38.0 193.1L42.1 189.7L43.7 191.7L39.7 195.1ZM40.2 195.1L42.8 193.1L44.4 195.1L41.8 197.1ZM45.2 199.8L47.6 197.9L48.9 199.6L46.4 201.4ZM46.0 202.6L48.9 199.9L50.8 201.9L47.9 204.6ZM48.9 204.6L51.4 202.6L52.8 204.5L50.3 206.5ZM40.4 186.7L42.5 185.1L44.1 187.2L41.9 188.8ZM44.7 191.4L46.4 190.1L48.0 192.2L46.3 193.5ZM53.5 204.9L57.3 201.9L59.0 204.1L55.2 207.1ZM47.9 189.1L50.3 187.2L51.4 188.6L48.9 190.5ZM51.0 194.7L54.4 192.0L55.9 193.8L52.4 196.6ZM54.5 196.5L56.4 195.0L57.5 196.4L55.5 197.9ZM56.6 198.9L58.4 197.1L59.7 198.5L57.9 200.2ZM52.8 189.5L56.3 186.9L57.2 188.0L53.7 190.6ZM55.3 191.4L58.1 189.2L59.0 190.3L56.1 192.5ZM61.0 204.0L63.0 202.2L63.6 202.8L61.6 204.6ZM60.9 197.7L62.4 196.5L63.0 197.3L61.5 198.5ZM61.6 199.7L64.1 197.8L65.0 199.1L62.5 201.0ZM64.0 201.9L65.4 200.6L66.0 201.3L64.6 202.5ZM64.9 204.1L67.5 202.2L68.3 203.1L65.6 205.1ZM67.5 205.7L68.7 204.7L69.6 205.7L68.4 206.7ZM59.6 191.5L61.5 190.1L62.1 190.9L60.3 192.3ZM64.7 197.9L67.3 196.0L67.8 196.7L65.3 198.6ZM66.4 200.2L68.9 198.1L69.4 198.7L66.9 200.8ZM69.4 203.3L71.6 201.6L72.4 202.5L70.1 204.3ZM60.2 187.6L62.7 185.6L63.3 186.3L60.8 188.4ZM67.7 195.3L68.9 194.3L69.4 194.9L68.3 195.9ZM70.5 199.5L72.0 198.3L72.8 199.2L71.2 200.4ZM72.3 201.3L73.9 199.9L74.6 200.7L72.9 202.1ZM75.7 205.0L77.1 204.0L77.6 204.6L76.2 205.7ZM66.4 189.4L68.5 187.4L69.3 188.3L67.2 190.3ZM67.9 191.4L70.0 189.8L70.9 190.9L68.8 192.5ZM70.3 192.6L71.4 191.6L72.2 192.6L71.2 193.6ZM71.9 194.5L73.0 193.6L73.9 194.7L72.9 195.6ZM73.8 196.9L75.1 195.9L75.7 196.6L74.4 197.7ZM74.7 199.1L77.0 197.3L77.8 198.3L75.6 200.2ZM76.2 201.5L78.6 199.3L79.5 200.3L77.2 202.5ZM77.9 202.7L79.4 201.6L80.3 202.8L78.9 203.9ZM74.1 192.9L75.5 191.7L76.4 192.8L75.1 193.9ZM77.0 197.4L79.1 195.4L80.3 196.6L78.2 198.6ZM77.0 190.7L78.8 189.1L79.5 189.9L77.7 191.5ZM78.7 207.5L81.0 205.8L81.7 206.8L79.5 208.5ZM79.7 200.9L80.8 200.1L81.4 201.0L80.3 201.7ZM80.1 203.1L82.4 201.5L83.2 202.7L80.9 204.2ZM83.4 207.1L85.1 206.0L85.7 206.9L84.0 208.0ZM82.0 199.0L84.2 197.3L84.7 198.0L82.6 199.7ZM83.7 201.5L85.6 200.1L86.2 201.0L84.3 202.4ZM80.8 192.7L83.4 190.8L84.4 192.1L81.8 194.0ZM82.7 195.0L84.5 193.7L85.4 195.0L83.7 196.2ZM84.2 197.0L86.7 195.2L87.3 196.0L84.8 197.8ZM86.5 199.0L87.9 198.0L88.5 198.8L87.1 199.8ZM87.2 201.6L89.6 200.0L90.4 201.3L88.0 202.8ZM91.2 205.7L92.7 204.5L93.3 205.2L91.7 206.4ZM85.9 193.4L88.1 191.8L88.7 192.6L86.5 194.2ZM87.5 195.1L89.7 193.7L90.2 194.5L88.0 195.9ZM88.7 197.2L90.9 195.5L91.4 196.2L89.2 197.9ZM90.3 199.0L91.7 198.1L92.5 199.4L91.1 200.3ZM92.1 201.5L93.5 200.5L94.3 201.7L92.9 202.7ZM93.5 204.2L96.0 202.3L96.7 203.2L94.1 205.1ZM94.9 206.2L97.6 204.5L98.1 205.2L95.4 207.0ZM88.7 191.6L91.3 189.7L91.8 190.4L89.2 192.3ZM92.0 195.4L94.3 193.9L94.8 194.5L92.4 196.1ZM93.1 197.2L95.4 195.5L96.1 196.4L93.7 198.1ZM94.3 199.9L96.9 198.3L97.6 199.5L95.0 201.1ZM97.5 203.3L99.9 201.9L100.6 203.1L98.3 204.5ZM91.2 188.5L93.3 187.2L94.1 188.5L92.0 189.8ZM93.9 191.2L95.0 190.4L95.5 191.1L94.4 191.9ZM94.2 193.1L96.7 191.3L97.5 192.5L95.0 194.3ZM98.1 197.2L99.9 196.1L100.3 196.8L98.5 198.0ZM98.6 193.3L100.8 191.7L101.5 192.7L99.3 194.3ZM102.8 185.9L105.5 187.4L104.9 188.4L102.2 186.9ZM104.8 189.7L106.9 190.8L106.1 192.3L104.0 191.1ZM103.6 193.0L105.0 193.8L104.4 194.8L103.0 194.0ZM109.0 189.7L111.4 191.2L110.9 192.0L108.5 190.5ZM108.3 192.3L110.1 193.2L109.4 194.6L107.6 193.7ZM107.2 194.4L108.5 195.2L107.8 196.4L106.5 195.6ZM105.5 196.4L107.6 197.6L106.8 199.0L104.7 197.8ZM103.5 198.5L106.0 199.9L105.3 201.0L102.9 199.6ZM102.5 200.9L104.7 202.1L104.1 203.1L102.0 201.9ZM100.5 205.6L101.7 206.2L100.9 207.5L99.8 206.8ZM115.2 187.6L116.7 188.4L116.4 189.1L114.8 188.3ZM113.8 189.7L115.5 190.6L115.1 191.3L113.4 190.4ZM112.0 191.1L114.4 192.4L113.7 193.7L111.3 192.4ZM107.1 200.2L109.3 201.3L108.6 202.8L106.3 201.6ZM105.6 202.8L108.0 204.2L107.6 204.9L105.2 203.6ZM116.2 191.1L118.3 192.4L117.7 193.4L115.5 192.1ZM115.4 193.1L116.9 194.0L116.4 195.0L114.8 194.1ZM112.6 197.9L115.0 199.2L114.5 200.2L112.1 198.9ZM110.1 202.0L112.0 202.9L111.4 204.2L109.5 203.2ZM108.4 204.5L110.4 205.8L109.9 206.6L107.9 205.3ZM119.4 192.9L121.0 193.7L120.4 194.9L118.8 194.0ZM117.9 194.4L119.8 195.4L119.1 196.9L117.1 195.9ZM117.1 197.1L118.8 198.1L118.2 199.1L116.5 198.1ZM115.2 199.4L117.7 200.7L117.0 202.1L114.5 200.8ZM112.6 203.4L114.8 204.9L114.2 205.8L111.9 204.4ZM118.2 200.7L120.6 202.0L120.0 203.0L117.6 201.8ZM116.5 203.3L118.9 204.6L118.2 205.7L115.9 204.4ZM116.2 205.8L117.8 206.7L117.3 207.5L115.7 206.6ZM120.1 186.5L121.2 188.1L120.3 188.7L119.3 187.1ZM121.9 189.1L122.8 190.3L122.1 190.8L121.3 189.5ZM128.7 189.0L129.9 190.7L129.1 191.3L127.8 189.6ZM126.2 189.5L128.0 192.2L127.1 192.8L125.3 190.0ZM123.5 191.1L125.2 193.7L124.3 194.3L122.7 191.7ZM136.4 186.5L137.8 188.8L136.9 189.3L135.5 187.0ZM134.3 188.3L135.6 190.5L134.7 191.1L133.3 188.9ZM132.7 190.2L133.8 191.5L132.7 192.3L131.7 191.0ZM128.3 193.2L129.2 194.6L128.4 195.2L127.5 193.8ZM121.7 197.5L122.6 198.6L121.4 199.6L120.5 198.5ZM138.2 189.9L139.8 192.3L139.1 192.8L137.5 190.4ZM136.5 190.7L138.0 192.9L136.7 193.8L135.2 191.6ZM134.4 192.8L135.3 194.1L134.5 194.6L133.6 193.3ZM132.4 193.9L133.8 195.8L132.9 196.5L131.5 194.5ZM121.1 201.2L122.9 203.5L121.8 204.3L120.1 202.0ZM136.1 195.7L137.3 197.5L136.2 198.2L135.1 196.4ZM130.4 200.1L131.3 201.4L130.1 202.3L129.2 201.0ZM127.8 201.1L129.6 203.5L128.6 204.2L126.9 201.8ZM125.5 202.8L127.2 205.1L125.9 206.0L124.3 203.7ZM136.4 200.2L137.6 201.8L136.8 202.4L135.6 200.8ZM134.0 201.6L135.0 203.0L133.6 204.0L132.6 202.6ZM132.0 202.4L133.2 204.4L132.2 205.1L131.0 203.0ZM130.2 204.7L131.1 206.1L129.9 206.8L129.0 205.5ZM138.5 202.8L139.3 203.9L138.5 204.4L137.7 203.3ZM134.2 205.3L135.5 207.3L134.2 208.2L132.9 206.3ZM140.1 204.7L141.9 207.4L140.6 208.2L138.8 205.6ZM140.3 186.0L142.0 188.4L141.1 189.0L139.4 186.6ZM146.7 185.2L148.3 187.7L147.2 188.3L145.6 185.9ZM144.2 187.1L145.4 189.0L144.1 189.9L142.9 188.0ZM149.8 186.4L151.9 189.0L150.8 189.9L148.7 187.3ZM148.4 188.5L149.4 190.2L148.6 190.7L147.5 189.0ZM144.2 191.6L145.4 193.5L144.5 194.0L143.3 192.1ZM156.0 186.7L157.8 189.0L157.1 189.6L155.3 187.2ZM154.7 187.7L156.7 190.4L155.5 191.3L153.5 188.7ZM152.5 190.1L153.5 191.6L152.8 192.1L151.8 190.5ZM150.4 191.5L151.8 193.6L150.9 194.2L149.5 192.1ZM147.8 193.0L149.0 194.8L148.2 195.4L146.9 193.6ZM146.3 194.3L148.0 196.7L146.7 197.6L145.0 195.2ZM144.5 195.7L145.6 197.2L144.5 198.1L143.3 196.6ZM141.6 197.8L142.8 199.4L141.7 200.2L140.5 198.5ZM156.9 191.5L158.0 193.2L157.2 193.7L156.1 192.0ZM154.8 193.0L156.3 194.9L155.1 195.8L153.6 193.9ZM152.3 193.6L154.3 196.2L153.3 197.0L151.3 194.4ZM148.1 197.5L149.3 199.6L148.4 200.2L147.1 198.1ZM143.3 200.4L145.0 202.8L144.4 203.2L142.6 200.9ZM141.6 201.8L143.1 203.7L142.3 204.4L140.8 202.4ZM156.0 195.0L157.4 197.3L156.4 197.9L155.1 195.6ZM152.4 198.2L154.1 200.5L152.8 201.5L151.1 199.2ZM149.9 199.8L151.8 202.5L150.6 203.3L148.7 200.6ZM147.8 200.9L149.5 203.3L148.7 203.9L147.0 201.4ZM146.0 202.9L146.9 204.2L145.6 205.1L144.7 203.8ZM143.0 204.8L144.4 206.5L143.8 207.0L142.4 205.3ZM158.5 197.7L160.3 200.0L159.1 201.0L157.2 198.7ZM155.6 199.7L157.1 201.7L156.3 202.4L154.7 200.4ZM153.2 201.1L155.2 203.7L154.5 204.3L152.5 201.7ZM152.0 202.5L153.2 204.3L151.9 205.3L150.6 203.5ZM149.7 204.5L151.0 206.2L149.9 207.1L148.6 205.4ZM147.9 205.3L149.3 207.5L148.3 208.1L146.9 206.0ZM158.1 203.0L159.3 204.7L158.6 205.2L157.4 203.5ZM155.9 203.6L157.4 205.8L156.3 206.6L154.8 204.4ZM153.8 205.0L155.7 207.4L154.3 208.5L152.5 206.0ZM160.0 205.6L161.6 207.9L160.8 208.5L159.2 206.2ZM164.8 186.8L167.0 190.5L164.8 191.9L162.6 188.2ZM162.7 189.5L164.3 192.2L162.6 193.3L160.9 190.6ZM172.8 187.8L174.1 189.8L173.0 190.6L171.6 188.6ZM167.5 190.5L170.2 194.6L168.6 195.7L165.9 191.6ZM161.6 194.4L164.0 198.4L162.9 199.1L160.4 195.1ZM178.3 190.3L179.7 192.1L178.3 193.2L176.9 191.4ZM172.7 193.4L174.7 196.7L173.1 197.7L171.0 194.4ZM163.0 200.9L164.3 202.8L162.2 204.3L160.9 202.5ZM177.2 194.3L180.2 198.4L178.5 199.7L175.4 195.5ZM175.4 195.6L178.5 199.9L176.3 201.5L173.2 197.2ZM172.8 198.4L175.6 202.0L173.6 203.6L170.8 200.0ZM170.9 200.8L172.4 202.8L170.3 204.4L168.8 202.4ZM165.2 204.5L166.9 207.2L165.8 207.9L164.1 205.2ZM178.8 195.9L183.3 196.2L183.2 197.9L178.7 197.5ZM179.8 199.4L183.3 199.5L183.3 201.0L179.7 200.9ZM178.8 202.6L183.4 202.7L183.4 204.6L178.7 204.4ZM183.4 186.1L188.3 186.1L188.2 188.6L183.3 188.5ZM184.2 189.3L186.7 189.4L186.6 191.2L184.2 191.1ZM184.5 195.9L187.4 195.8L187.5 198.3L184.6 198.4ZM183.8 199.6L187.2 199.7L187.2 201.4L183.7 201.3ZM183.9 205.4L186.9 205.4L186.9 207.5L183.9 207.5ZM187.9 186.3L193.0 186.5L193.0 188.7L187.9 188.5ZM189.4 188.9L191.6 188.8L191.7 191.7L189.6 191.8ZM187.8 193.2L192.0 192.9L192.1 194.4L187.9 194.7ZM188.2 196.1L191.6 195.9L191.7 197.6L188.3 197.7ZM188.5 198.8L192.0 199.0L191.9 200.8L188.4 200.7ZM189.5 205.8L191.7 205.7L191.8 207.4L189.6 207.4ZM192.8 192.5L196.5 192.6L196.5 194.8L192.7 194.7ZM192.6 198.8L196.7 199.0L196.6 200.9L192.5 200.7ZM197.1 186.3L201.8 186.5L201.7 188.1L197.1 187.8ZM197.0 196.4L202.2 196.2L202.2 197.9L197.0 198.1ZM198.0 198.7L200.5 198.6L200.6 201.1L198.1 201.2ZM198.4 186.3L203.3 186.1L203.4 188.6L198.5 188.8ZM199.7 190.2L202.4 190.2L202.3 191.7L199.7 191.6ZM199.7 192.4L202.6 192.2L202.7 194.5L199.8 194.6ZM199.3 196.0L203.4 196.1L203.4 197.5L199.3 197.5ZM199.5 198.7L202.7 198.8L202.7 201.5L199.4 201.5ZM203.9 189.7L208.4 189.9L208.3 192.2L203.8 192.0ZM203.5 193.1L207.5 192.9L207.6 194.9L203.6 195.1ZM204.3 199.3L207.8 199.5L207.6 201.9L204.1 201.7ZM203.9 205.6L208.3 205.5L208.3 207.6L204.0 207.6ZM208.4 186.0L212.0 186.0L212.1 188.2L208.4 188.2ZM208.9 189.6L211.6 189.6L211.6 191.6L208.9 191.6ZM209.1 193.5L211.7 193.5L211.7 194.8L209.1 194.9ZM208.7 196.1L211.9 195.9L212.0 198.4L208.8 198.6ZM208.9 199.1L211.8 199.3L211.6 201.1L208.8 201.0ZM208.5 202.0L212.5 202.2L212.4 205.0L208.4 204.8ZM209.2 205.3L211.4 205.2L211.6 208.0L209.3 208.1ZM213.1 189.7L217.4 189.6L217.4 191.3L213.2 191.4ZM213.8 195.7L216.8 195.6L216.9 197.7L213.9 197.8ZM213.3 202.5L216.8 202.3L216.9 204.8L213.4 205.0ZM217.4 186.4L222.2 186.3L222.3 188.3L217.5 188.5ZM217.4 190.2L221.2 190.2L221.2 191.6L217.4 191.6ZM217.5 195.7L221.2 195.9L221.0 197.9L217.3 197.7ZM217.8 202.3L221.9 202.0L222.1 204.7L217.9 204.9ZM224.8 187.2L227.0 189.0L226.0 190.2L223.8 188.4ZM223.2 189.2L225.1 190.9L223.5 192.7L221.6 190.9ZM226.1 192.3L228.6 194.7L227.2 196.1L224.7 193.8ZM224.4 194.2L227.5 196.5L225.8 198.7L222.7 196.4ZM222.0 196.5L224.8 199.2L223.0 201.0L220.2 198.4ZM219.9 199.4L222.9 202.2L221.9 203.3L218.9 200.4ZM236.7 184.7L240.8 187.7L239.8 189.0L235.7 186.0ZM235.3 186.8L239.4 190.3L238.2 191.7L234.1 188.3ZM234.3 190.3L236.1 192.0L234.6 193.6L232.8 191.9ZM229.8 195.7L231.6 197.5L230.6 198.5L228.8 196.7ZM223.2 202.3L226.8 205.4L225.2 207.2L221.6 204.2ZM221.7 205.4L223.8 207.3L222.8 208.4L220.7 206.5ZM240.0 190.6L241.6 192.1L239.7 194.2L238.1 192.7ZM237.0 192.7L240.8 195.4L239.2 197.6L235.4 194.8ZM229.4 203.1L231.4 204.6L230.4 205.9L228.4 204.4ZM238.3 198.5L241.9 201.6L240.5 203.2L236.9 200.1ZM236.7 200.6L239.7 203.2L238.0 205.2L234.9 202.6ZM245.0 186.9L247.0 188.7L245.6 190.4L243.5 188.5ZM242.5 189.4L245.5 191.9L244.3 193.3L241.4 190.8ZM240.6 191.9L243.1 193.8L242.0 195.2L239.6 193.3ZM248.6 190.2L251.0 192.4L249.8 193.7L247.4 191.4ZM246.4 192.7L248.2 194.3L246.6 196.0L244.8 194.4ZM244.0 194.3L246.7 196.7L245.1 198.5L242.4 196.1ZM241.3 197.0L244.6 199.4L243.7 200.5L240.5 198.1ZM240.1 199.4L243.2 202.0L241.4 204.1L238.3 201.5ZM258.3 185.5L260.8 187.3L259.6 188.9L257.1 187.1ZM256.3 187.8L258.4 189.8L256.8 191.4L254.8 189.5ZM252.4 193.0L254.2 194.5L252.6 196.3L250.9 194.9ZM249.8 194.5L252.7 196.7L251.1 198.8L248.3 196.6ZM246.4 200.4L248.4 202.2L246.8 204.0L244.8 202.2ZM241.6 204.3L244.3 206.8L242.5 208.7L239.8 206.2ZM258.3 193.5L260.0 195.2L258.5 196.8L256.8 195.1ZM254.8 195.3L257.9 197.9L256.9 199.1L253.8 196.6ZM253.2 198.0L256.7 200.5L255.3 202.4L251.8 199.8ZM248.0 202.6L252.2 205.8L250.9 207.4L246.8 204.3ZM256.1 200.6L259.9 204.0L258.5 205.5L254.7 202.1ZM254.9 203.4L257.4 205.3L256.2 206.9L253.8 205.0ZM264.0 187.1L267.4 189.8L266.5 190.9L263.1 188.2ZM261.2 192.2L263.2 193.6L262.0 195.3L260.0 193.9ZM265.6 192.1L269.0 194.7L267.7 196.3L264.3 193.7ZM263.7 194.2L267.4 197.4L266.0 199.1L262.3 195.9ZM261.7 196.7L264.6 199.5L263.6 200.4L260.8 197.7ZM275.5 187.5L279.3 190.7L278.1 192.0L274.4 188.8ZM271.4 192.5L275.3 195.5L273.9 197.2L270.1 194.2ZM269.9 195.5L272.5 197.7L271.5 198.8L269.0 196.6ZM263.7 202.4L266.3 204.4L264.9 206.3L262.2 204.3ZM261.6 205.0L264.7 208.0L263.5 209.3L260.3 206.3ZM279.0 190.5L281.9 192.9L281.0 194.1L278.1 191.6ZM273.4 198.2L275.6 200.3L273.8 202.3L271.5 200.2ZM270.6 199.8L274.5 203.2L273.0 204.9L269.1 201.5ZM275.4 203.8L277.2 205.1L275.7 207.2L273.9 205.8ZM279.6 204.7L281.0 202.0L282.0 202.5L280.6 205.2ZM283.8 206.6L285.1 204.6L286.3 205.4L285.0 207.5ZM285.8 199.5L286.8 197.7L287.7 198.2L286.8 200.0ZM289.8 202.0L290.5 200.7L291.5 201.2L290.8 202.5ZM286.8 196.1L288.0 194.1L289.0 194.7L287.8 196.7ZM294.0 200.4L295.7 197.6L296.5 198.1L294.8 200.8ZM296.4 201.4L297.3 199.8L298.4 200.3L297.5 201.9ZM281.6 190.1L283.2 187.3L284.0 187.7L282.5 190.5ZM286.8 192.2L288.1 189.9L289.1 190.4L287.8 192.7ZM289.0 193.4L290.2 191.4L291.1 191.9L289.8 194.0ZM291.2 194.8L292.3 192.9L293.4 193.5L292.3 195.5ZM293.3 195.5L294.1 194.2L294.9 194.7L294.1 196.0ZM285.9 187.9L286.9 186.3L287.7 186.8L286.7 188.4ZM287.9 189.5L289.4 187.0L290.6 187.7L289.1 190.2ZM292.5 191.8L293.5 189.9L294.9 190.7L294.0 192.5ZM42.8 207.3L44.3 208.2L43.8 208.9L42.3 208.1ZM45.1 210.9L46.5 211.6L45.8 213.1L44.4 212.4ZM40.7 218.3L42.8 219.3L42.4 220.3L40.2 219.2ZM49.8 207.4L52.0 208.5L51.6 209.4L49.3 208.3ZM47.8 212.8L49.2 213.3L48.7 214.5L47.3 213.9ZM46.3 214.8L48.1 215.5L47.5 216.9L45.7 216.2ZM44.8 216.9L47.2 218.2L46.6 219.2L44.2 217.9ZM44.1 219.0L46.3 220.1L45.7 221.1L43.6 220.0ZM42.4 224.6L44.1 225.4L43.7 226.2L42.0 225.5ZM51.7 211.6L53.0 212.1L52.5 213.4L51.2 212.9ZM51.0 214.2L52.4 214.9L51.8 216.2L50.3 215.4ZM48.2 217.9L51.1 219.3L50.5 220.4L47.7 218.9ZM46.2 223.1L48.1 224.1L47.7 224.8L45.8 223.9ZM45.0 225.8L47.5 226.9L46.9 228.1L44.5 227.0ZM55.7 210.3L58.5 211.5L57.9 212.9L55.1 211.7ZM51.4 219.9L54.1 221.2L53.5 222.4L50.8 221.2ZM50.0 222.4L52.7 223.5L52.2 224.8L49.5 223.7ZM49.5 224.4L51.5 225.5L51.0 226.2L49.1 225.2ZM59.4 211.9L60.8 212.6L60.2 213.9L58.8 213.2ZM52.2 226.4L54.6 227.7L54.2 228.4L51.8 227.2ZM57.9 223.4L59.2 224.1L58.8 224.9L57.5 224.1ZM56.2 225.2L58.8 226.3L58.2 227.7L55.6 226.6ZM59.2 226.9L61.1 225.7L61.9 226.9L59.9 228.2ZM59.2 221.3L60.9 220.0L61.5 220.8L59.8 222.1ZM61.1 223.2L63.0 221.9L63.4 222.5L61.5 223.8ZM63.7 227.6L64.9 226.7L65.4 227.5L64.3 228.4ZM60.3 216.6L61.9 215.6L62.5 216.7L60.9 217.7ZM61.7 218.9L63.2 217.9L64.0 219.0L62.5 220.0ZM63.5 221.3L65.6 220.1L66.1 221.0L64.1 222.2ZM65.4 223.6L66.7 222.5L67.3 223.3L65.9 224.3ZM66.8 225.4L68.4 224.3L69.0 225.4L67.5 226.4ZM61.6 213.0L63.7 211.6L64.3 212.5L62.2 213.9ZM62.8 215.5L65.3 214.0L65.8 214.7L63.3 216.3ZM64.8 217.4L67.3 215.4L67.8 216.0L65.3 218.1ZM67.3 221.7L69.5 219.9L70.0 220.6L67.8 222.3ZM69.2 223.7L70.9 222.6L71.6 223.8L70.0 224.9ZM70.2 225.8L72.7 223.9L73.7 225.2L71.2 227.1ZM63.3 208.6L64.8 207.6L65.3 208.4L63.9 209.4ZM64.6 211.2L67.0 209.6L67.5 210.3L65.0 211.9ZM66.0 213.3L68.1 211.7L68.8 212.6L66.7 214.2ZM67.4 215.5L69.8 214.0L70.2 214.6L67.9 216.2ZM69.1 217.0L71.0 215.7L71.7 216.7L69.8 218.0ZM70.2 219.3L72.3 218.0L72.8 218.8L70.7 220.2ZM71.4 221.9L73.8 219.9L74.7 221.1L72.3 223.0ZM75.2 225.8L76.4 224.8L77.2 225.8L75.9 226.8ZM69.3 210.5L70.5 209.7L71.4 211.0L70.1 211.8ZM73.2 217.9L75.7 216.2L76.2 217.0L73.8 218.7ZM72.7 211.3L75.0 209.8L75.8 210.9L73.5 212.5ZM74.9 213.3L76.4 212.3L77.3 213.5L75.7 214.6ZM75.5 215.4L77.6 214.1L78.3 215.3L76.2 216.6ZM77.4 218.1L79.2 216.7L79.7 217.4L78.0 218.8ZM78.2 208.0L80.8 206.2L81.4 207.1L78.8 208.9ZM79.2 221.1L80.3 220.3L80.9 221.1L79.9 221.9ZM83.5 227.2L85.8 225.7L86.3 226.6L84.0 228.1ZM85.4 223.3L86.6 222.3L87.3 223.2L86.1 224.1ZM86.2 225.7L87.9 224.3L88.4 224.9L86.6 226.3ZM81.2 212.8L83.6 211.4L84.4 212.7L82.0 214.1ZM84.7 217.4L87.4 215.5L87.9 216.3L85.3 218.2ZM86.1 218.8L88.3 217.5L89.1 218.8L86.9 220.2ZM83.1 209.0L85.0 207.4L85.9 208.6L84.0 210.1ZM84.5 210.7L86.1 209.7L86.8 210.7L85.3 211.8ZM88.9 217.5L90.5 216.5L91.0 217.3L89.4 218.3ZM90.7 219.5L92.5 218.5L93.3 219.8L91.6 220.9ZM92.3 221.1L93.5 220.2L94.1 221.0L92.9 221.9ZM93.1 223.9L95.2 222.2L95.7 222.9L93.6 224.6ZM95.5 225.1L96.7 224.3L97.6 225.5L96.3 226.3ZM89.7 214.0L92.1 212.2L92.6 212.9L90.3 214.7ZM94.7 219.4L96.0 218.6L96.7 219.7L95.5 220.6ZM96.6 221.9L98.5 220.7L99.0 221.5L97.1 222.7ZM91.2 209.3L93.7 207.6L94.5 208.8L92.0 210.6ZM95.7 215.6L97.6 214.4L98.2 215.2L96.2 216.4ZM95.8 209.3L97.7 207.9L98.5 209.0L96.6 210.3ZM100.8 211.1L102.4 212.0L101.9 212.9L100.3 212.1ZM103.4 212.4L105.7 213.9L104.8 215.3L102.5 213.8ZM102.0 214.3L104.6 215.9L103.8 217.2L101.2 215.5ZM101.4 217.5L103.1 218.6L102.5 219.6L100.8 218.5ZM110.2 207.7L112.1 208.7L111.7 209.4L109.9 208.4ZM109.5 209.7L110.9 210.6L110.2 211.7L108.8 210.9ZM108.6 212.5L109.8 213.1L109.1 214.5L107.9 213.9ZM106.8 214.5L109.1 215.9L108.6 216.6L106.3 215.3ZM105.9 216.4L107.5 217.4L106.9 218.4L105.3 217.4ZM103.9 218.8L106.7 220.3L106.1 221.5L103.2 220.1ZM102.8 221.1L104.0 221.7L103.4 222.8L102.2 222.2ZM114.1 206.8L116.8 208.5L116.3 209.3L113.6 207.6ZM113.4 209.1L116.0 210.3L115.4 211.5L112.8 210.2ZM112.2 211.2L114.6 212.5L114.0 213.6L111.6 212.3ZM110.3 213.8L112.9 215.1L112.3 216.4L109.6 215.0ZM110.0 216.2L111.6 217.1L110.9 218.4L109.3 217.5ZM107.9 218.4L110.0 219.8L109.3 221.0L107.1 219.6ZM107.3 220.6L109.4 221.8L108.7 223.0L106.6 221.8ZM104.7 225.1L105.9 225.8L105.3 226.9L104.1 226.2ZM119.6 206.4L121.2 207.5L120.4 208.7L118.8 207.6ZM117.9 208.6L120.0 209.6L119.3 210.9L117.3 209.9ZM114.6 213.3L116.9 214.6L116.4 215.5L114.1 214.2ZM110.0 222.3L112.4 223.7L112.0 224.5L109.6 223.1ZM109.2 224.8L110.5 225.5L109.8 226.7L108.5 226.0ZM119.5 212.1L121.9 213.6L121.2 214.8L118.8 213.3ZM117.6 214.8L119.8 216.1L119.2 217.2L117.0 215.9ZM115.3 219.6L117.2 220.9L116.4 222.1L114.5 220.8ZM114.1 221.9L115.6 222.8L115.1 223.6L113.6 222.7ZM118.1 220.6L120.9 222.1L120.3 223.1L117.5 221.6ZM117.2 223.3L118.5 224.1L117.8 225.4L116.4 224.6ZM116.2 226.0L117.4 226.6L117.1 227.4L115.8 226.8ZM120.0 205.9L121.3 207.5L120.0 208.6L118.7 207.0ZM125.9 205.6L127.8 208.2L126.6 209.1L124.7 206.5ZM130.6 207.4L131.7 208.9L130.7 209.6L129.7 208.1ZM128.5 208.7L129.7 210.5L128.3 211.5L127.1 209.6ZM121.8 212.8L123.4 215.0L122.7 215.6L121.0 213.4ZM136.4 207.5L137.7 209.0L136.5 209.9L135.3 208.4ZM123.8 216.0L125.5 218.5L124.8 219.0L123.1 216.4ZM122.1 218.0L123.0 219.2L122.0 220.0L121.1 218.8ZM138.6 209.9L140.4 212.6L139.5 213.2L137.7 210.5ZM136.2 211.1L137.5 212.8L136.5 213.6L135.2 211.8ZM134.5 212.6L136.1 215.2L135.2 215.8L133.6 213.2ZM127.9 217.8L129.1 219.2L128.1 220.0L126.9 218.6ZM124.2 220.8L125.4 222.5L124.4 223.3L123.1 221.5ZM136.5 215.7L137.8 217.7L137.0 218.2L135.7 216.2ZM127.7 221.7L128.5 223.0L127.5 223.6L126.7 222.3ZM125.5 223.5L126.4 224.8L125.5 225.5L124.5 224.2ZM123.3 224.5L124.7 226.7L123.4 227.6L121.9 225.5ZM138.0 218.7L139.3 220.4L138.6 220.9L137.4 219.1ZM134.2 221.1L135.9 223.5L134.7 224.4L132.9 221.9ZM129.8 224.7L130.7 226.2L130.0 226.6L129.1 225.1ZM138.1 222.9L139.5 224.7L138.8 225.2L137.4 223.4ZM134.4 225.7L135.4 227.0L134.4 227.8L133.4 226.4ZM146.6 205.1L149.4 209.5L148.2 210.2L145.5 205.8ZM145.1 207.3L147.8 210.7L145.7 212.4L143.0 209.0ZM142.0 210.0L143.6 212.4L142.4 213.2L140.8 210.9ZM155.6 206.4L157.3 208.9L156.2 209.7L154.4 207.2ZM147.6 211.8L149.3 214.2L148.0 215.1L146.2 212.7ZM142.8 214.7L144.7 217.3L142.7 218.7L140.9 216.1ZM158.1 209.3L160.5 213.2L158.8 214.3L156.4 210.3ZM155.6 210.9L158.2 214.1L155.9 215.8L153.4 212.6ZM150.1 214.6L153.0 218.9L150.7 220.4L147.8 216.2ZM144.9 219.2L146.7 221.5L145.6 222.4L143.8 220.1ZM142.6 221.0L144.3 223.5L142.8 224.5L141.2 222.0ZM155.3 217.2L157.2 220.3L155.6 221.4L153.6 218.3ZM152.0 218.7L154.4 222.5L153.1 223.4L150.6 219.6ZM149.8 220.0L152.6 224.6L150.6 225.9L147.7 221.3ZM146.9 221.8L149.8 226.0L148.2 227.2L145.2 223.0ZM144.9 224.9L146.6 227.5L145.4 228.3L143.7 225.7ZM157.1 220.0L159.9 224.1L158.7 224.9L155.9 220.8ZM155.3 222.5L156.8 225.0L155.0 226.1L153.5 223.6ZM167.4 205.7L169.8 209.2L168.0 210.4L165.6 206.9ZM162.0 208.7L164.7 213.1L163.4 213.9L160.7 209.5ZM167.3 211.1L169.5 214.3L167.4 215.7L165.2 212.5ZM162.3 214.8L164.5 218.3L162.4 219.6L160.2 216.1ZM178.1 209.3L180.4 212.4L178.8 213.6L176.5 210.5ZM175.4 211.3L177.8 214.8L176.5 215.7L174.1 212.1ZM173.2 213.5L174.4 215.5L172.8 216.4L171.6 214.5ZM169.7 215.1L171.7 218.2L170.6 218.9L168.5 215.9ZM167.4 217.1L169.5 220.2L168.1 221.2L166.0 218.1ZM162.8 221.2L164.1 223.3L162.1 224.5L160.8 222.4ZM177.7 214.3L180.3 218.5L178.9 219.4L176.3 215.2ZM175.3 216.8L177.3 219.8L175.6 221.0L173.6 217.9ZM173.3 219.3L174.7 221.2L173.3 222.2L171.9 220.3ZM170.8 220.3L172.8 223.0L170.6 224.6L168.6 222.0ZM167.4 222.9L169.7 225.8L168.3 226.9L166.0 224.0ZM164.8 224.8L166.3 226.9L164.8 227.9L163.3 225.9ZM179.2 207.0L183.4 207.2L183.3 208.7L179.1 208.5ZM179.9 209.7L182.6 209.5L182.7 212.2L180.0 212.4ZM180.2 212.7L182.4 212.5L182.6 215.0L180.3 215.1ZM179.7 223.0L183.0 223.0L183.1 224.8L179.7 224.9ZM178.4 225.5L183.8 225.7L183.8 227.7L178.4 227.5ZM183.3 209.9L188.2 210.2L188.1 212.1L183.2 211.8ZM188.6 206.9L192.0 206.7L192.1 208.0L188.7 208.2ZM187.7 213.4L192.8 213.6L192.8 214.9L187.6 214.8ZM189.3 219.0L191.8 219.0L191.8 221.6L189.3 221.6ZM188.7 225.9L192.4 225.9L192.4 227.9L188.7 228.0ZM193.1 210.1L197.5 210.2L197.4 212.1L193.1 212.0ZM193.4 212.6L196.7 212.6L196.7 214.6L193.4 214.6ZM192.8 219.4L197.9 219.5L197.8 221.7L192.8 221.6ZM193.9 225.7L196.5 225.6L196.6 228.2L194.0 228.3ZM197.7 206.4L201.5 206.7L201.4 208.6L197.6 208.3ZM196.6 209.7L201.9 209.6L202.0 212.3L196.6 212.4ZM197.4 212.9L201.4 212.8L201.4 215.3L197.4 215.4ZM197.3 218.4L201.6 218.6L201.4 221.5L197.2 221.3ZM197.8 222.0L202.1 222.3L201.9 224.9L197.6 224.6ZM197.1 225.4L201.7 225.3L201.7 227.9L197.2 228.0ZM200.6 208.0L204.0 208.7L203.5 211.3L200.1 210.6ZM200.1 211.5L204.3 212.2L204.0 213.9L199.8 213.2ZM200.3 214.6L203.1 215.1L202.9 216.7L200.0 216.3ZM206.1 208.7L208.2 209.1L207.9 210.9L205.8 210.5ZM205.1 211.9L208.0 212.5L207.5 214.9L204.5 214.3ZM205.0 214.9L207.2 215.4L206.7 217.9L204.5 217.5ZM203.2 218.5L208.3 219.3L208.1 220.7L203.0 219.8ZM209.6 209.9L213.7 210.4L213.5 212.3L209.3 211.8ZM208.7 216.0L211.6 216.6L211.4 217.9L208.5 217.4ZM208.0 222.1L211.1 222.7L210.7 224.6L207.7 224.0ZM207.9 225.1L210.1 225.3L209.9 227.5L207.6 227.3ZM213.3 210.1L218.4 210.7L218.2 213.0L213.0 212.5ZM214.4 213.4L217.6 214.0L217.1 216.6L213.9 216.0ZM212.3 220.0L216.5 220.7L216.2 222.7L212.0 222.1ZM211.7 222.5L216.0 223.2L215.6 225.9L211.3 225.2ZM218.3 214.1L221.5 214.6L221.2 217.1L217.9 216.6ZM216.7 224.1L220.4 224.6L220.2 226.2L216.5 225.7ZM220.6 223.0L222.7 220.7L224.1 221.9L221.9 224.2ZM222.7 225.5L224.9 222.6L226.2 223.6L224.0 226.5ZM224.9 226.6L226.5 224.3L228.6 225.9L227.0 228.1ZM222.7 219.6L225.7 215.8L227.6 217.3L224.7 221.0ZM225.8 220.7L227.3 218.9L229.4 220.6L227.9 222.4ZM227.3 223.1L229.9 220.1L231.8 221.8L229.2 224.7ZM230.5 226.3L233.4 222.6L234.9 223.8L232.0 227.5ZM232.9 227.8L235.7 224.8L237.1 226.2L234.4 229.2ZM218.6 209.2L221.1 206.4L222.7 207.9L220.2 210.7ZM221.2 211.3L223.0 209.3L224.9 211.1L223.2 213.0ZM228.9 217.8L230.8 215.2L232.1 216.1L230.2 218.7ZM231.1 219.6L232.7 217.4L234.5 218.7L232.9 220.9ZM233.4 221.7L235.3 219.4L236.4 220.3L234.6 222.6ZM236.2 224.6L238.4 221.7L239.7 222.7L237.4 225.5ZM238.1 227.1L241.4 223.1L242.6 224.0L239.2 228.1ZM226.3 210.7L229.1 207.2L231.2 208.9L228.4 212.4ZM228.4 212.6L231.4 208.7L232.9 209.8L229.9 213.7ZM230.8 215.3L234.3 211.5L235.6 212.7L232.2 216.5ZM234.1 216.4L235.7 214.5L237.1 215.7L235.6 217.6ZM231.7 208.3L233.2 206.5L235.3 208.3L233.8 210.0ZM234.3 211.2L237.6 207.7L239.1 209.1L235.7 212.6ZM239.8 222.6L242.7 219.3L244.5 220.9L241.6 224.2ZM245.6 226.4L247.3 224.6L248.3 225.5L246.7 227.3ZM239.8 217.6L243.2 213.4L245.1 215.0L241.7 219.2ZM242.2 219.2L245.5 215.5L247.5 217.3L244.2 221.0ZM247.5 224.1L250.4 220.3L252.5 221.9L249.6 225.7ZM253.5 227.0L255.2 225.3L256.3 226.3L254.6 228.1ZM238.9 209.4L241.5 206.7L243.0 208.1L240.4 210.8ZM243.1 214.4L246.2 210.2L248.3 211.8L245.2 216.0ZM246.1 216.2L248.8 212.8L250.0 213.8L247.3 217.1ZM255.8 224.1L258.1 221.0L260.4 222.7L258.1 225.8ZM244.0 207.8L245.7 205.9L247.5 207.5L245.8 209.4ZM245.8 210.8L249.2 207.1L251.4 209.0L247.9 212.7ZM248.5 212.2L251.5 208.5L253.7 210.2L250.6 214.0ZM253.9 216.1L255.5 214.0L257.1 215.2L255.5 217.3ZM251.8 209.8L255.0 205.7L256.1 206.6L253.0 210.7ZM253.9 210.8L256.6 207.9L258.2 209.4L255.6 212.3ZM257.4 212.3L259.3 210.1L260.7 211.3L258.8 213.5ZM262.8 209.1L264.0 209.7L263.5 210.5L262.4 209.8ZM261.4 211.5L262.7 212.2L262.3 213.0L261.0 212.3ZM266.8 208.6L268.1 209.4L267.5 210.3L266.2 209.5ZM261.2 217.6L262.7 218.3L262.0 219.5L260.6 218.8ZM259.5 219.3L262.4 220.8L261.9 221.8L258.9 220.3ZM271.0 207.7L272.8 208.7L272.2 210.0L270.4 209.0ZM268.9 209.8L271.5 211.5L271.0 212.3L268.4 210.6ZM267.9 212.3L270.3 213.5L269.7 214.6L267.3 213.4ZM265.3 216.1L267.7 217.6L266.9 218.8L264.5 217.3ZM274.6 207.2L277.0 208.4L276.3 209.8L273.9 208.5ZM267.5 220.4L269.4 221.6L268.6 222.7L266.8 221.5ZM265.4 222.8L267.5 223.9L267.1 224.7L265.0 223.6ZM277.7 208.3L280.3 209.6L279.7 210.8L277.1 209.4ZM276.6 211.1L278.1 211.9L277.3 213.2L275.9 212.5ZM268.2 224.0L271.1 225.7L270.3 226.9L267.5 225.3ZM278.0 214.6L280.7 216.1L280.0 217.3L277.3 215.8ZM276.8 217.5L279.3 218.7L278.7 219.7L276.3 218.5ZM275.4 219.3L278.2 220.8L277.7 221.6L274.9 220.2ZM274.0 221.3L275.9 222.3L275.3 223.5L273.4 222.5ZM277.5 223.3L279.3 224.3L278.8 225.3L276.9 224.3ZM282.4 219.0L284.4 219.0L284.4 220.3L282.4 220.3ZM282.4 224.2L285.5 224.2L285.5 225.1L282.4 225.0ZM286.2 221.8L288.0 221.8L288.0 223.3L286.3 223.4ZM289.8 216.4L291.8 216.5L291.7 217.9L289.7 217.8ZM289.3 219.1L291.9 219.0L291.9 220.1L289.3 220.2ZM292.5 216.6L295.5 216.6L295.5 217.6L292.6 217.7ZM293.0 219.3L294.7 219.4L294.7 220.8L292.9 220.7ZM295.8 209.1L297.9 209.0L298.0 210.2L295.9 210.3ZM295.5 224.7L298.2 224.6L298.3 225.9L295.6 226.1ZM43.6 228.1L45.1 229.2L44.5 230.1L43.0 229.0ZM48.2 228.1L49.8 229.4L49.0 230.3L47.5 229.0ZM46.3 229.6L47.9 230.9L46.9 232.1L45.3 230.8ZM44.2 231.5L46.1 233.2L45.2 234.3L43.2 232.5ZM42.8 233.7L44.6 235.1L43.9 236.0L42.1 234.5ZM49.1 231.9L50.8 233.3L50.0 234.2L48.4 232.7ZM47.4 233.8L49.1 235.5L48.4 236.2L46.7 234.6ZM44.0 238.0L45.9 239.5L44.8 240.8L43.0 239.2ZM40.4 241.4L42.6 243.4L41.7 244.4L39.5 242.4ZM56.3 228.0L58.7 230.1L57.8 231.2L55.3 229.1ZM54.6 229.6L57.1 231.7L56.1 232.9L53.6 230.9ZM53.0 231.7L55.3 233.8L54.2 234.9L52.0 232.8ZM51.5 234.1L53.1 235.5L52.4 236.3L50.8 234.9ZM48.5 238.5L49.6 239.5L49.1 240.1L47.9 239.1ZM46.8 240.1L48.0 241.1L47.5 241.7L46.3 240.8ZM41.6 245.6L43.7 247.2L42.8 248.3L40.8 246.7ZM58.7 230.8L60.2 232.0L59.6 232.7L58.1 231.6ZM52.4 238.2L54.4 239.8L53.4 241.0L51.5 239.4ZM47.1 244.4L48.8 245.9L48.0 246.8L46.3 245.3ZM56.5 238.4L58.1 239.8L57.1 240.9L55.5 239.5ZM53.4 242.8L54.4 243.6L53.5 244.7L52.5 243.8ZM59.3 240.0L61.7 242.1L60.7 243.2L58.3 241.1ZM57.3 242.8L59.4 244.5L58.5 245.6L56.4 243.9ZM59.3 247.4L60.6 246.4L61.6 247.7L60.3 248.7ZM59.0 241.0L61.1 239.7L61.6 240.5L59.6 241.9ZM62.5 245.0L63.9 244.2L64.3 244.9L63.0 245.7ZM63.2 248.0L65.8 246.1L66.7 247.4L64.1 249.2ZM60.8 236.9L62.0 236.1L62.8 237.2L61.6 238.0ZM61.2 239.8L63.9 238.1L64.5 239.0L61.9 240.8ZM66.6 245.3L68.0 244.4L68.6 245.4L67.3 246.3ZM59.7 231.6L62.3 229.6L62.9 230.4L60.3 232.4ZM63.0 235.3L64.8 234.2L65.5 235.2L63.7 236.3ZM66.7 239.1L67.9 238.4L68.5 239.4L67.3 240.1ZM69.0 243.4L70.5 242.4L71.2 243.4L69.6 244.4ZM71.2 245.8L72.5 244.7L73.3 245.7L72.0 246.8ZM63.0 228.6L64.5 227.6L65.3 228.9L63.8 229.8ZM64.2 230.9L66.0 229.6L67.0 231.0L65.1 232.3ZM66.1 233.3L68.3 231.9L68.9 232.9L66.7 234.3ZM67.0 235.4L69.2 233.8L69.9 234.7L67.7 236.3ZM68.7 237.9L70.9 236.1L71.7 237.1L69.5 238.8ZM70.6 239.8L73.0 238.4L73.4 239.1L71.0 240.5ZM73.8 243.7L75.4 242.6L76.1 243.6L74.4 244.7ZM68.6 231.2L71.0 229.8L71.6 230.8L69.2 232.3ZM71.8 236.1L73.8 234.6L74.3 235.3L72.4 236.8ZM74.7 240.3L76.8 238.6L77.5 239.4L75.3 241.1ZM78.0 244.2L79.4 243.1L80.1 243.9L78.6 245.0ZM71.6 229.3L73.1 228.3L73.8 229.4L72.4 230.4ZM73.1 231.8L75.1 230.3L75.7 231.0L73.7 232.5ZM74.7 233.5L76.0 232.6L77.0 234.0L75.6 234.9ZM75.7 235.9L78.0 234.4L78.7 235.5L76.4 237.0ZM77.9 237.4L79.4 236.4L80.3 237.9L78.8 238.8ZM77.6 231.3L78.9 230.3L79.5 231.1L78.2 232.1ZM78.7 227.4L80.7 226.0L81.4 226.9L79.3 228.4ZM84.0 227.6L85.0 228.5L83.9 229.6L83.0 228.7ZM81.8 229.9L83.5 231.5L82.9 232.2L81.2 230.6ZM86.6 230.2L87.7 231.1L87.1 231.8L86.0 230.9ZM82.4 233.9L84.4 235.4L83.7 236.4L81.7 234.8ZM90.1 230.2L91.9 231.6L91.2 232.4L89.5 231.0ZM87.4 234.1L88.9 235.2L88.3 236.0L86.8 234.9ZM83.9 238.4L85.3 239.5L84.8 240.2L83.4 239.2ZM96.1 228.6L97.9 230.0L97.3 230.6L95.6 229.3ZM89.7 235.8L91.4 237.1L90.5 238.4L88.8 237.1ZM87.7 238.3L89.6 239.7L89.0 240.5L87.1 239.1ZM83.2 243.9L84.4 245.0L83.5 246.0L82.4 244.9ZM99.6 230.3L101.0 231.4L100.1 232.5L98.7 231.4ZM97.3 232.4L99.0 233.8L98.1 234.8L96.4 233.4ZM95.7 234.6L96.9 235.6L96.1 236.5L94.9 235.5ZM87.3 244.1L89.6 246.1L88.5 247.3L86.2 245.4ZM98.8 236.9L100.0 238.0L99.1 238.9L97.9 237.8ZM95.9 238.2L98.3 240.2L97.6 241.1L95.2 239.0ZM93.5 243.0L94.5 243.8L93.6 244.9L92.5 244.0ZM91.4 244.7L93.3 246.1L92.4 247.3L90.5 245.9ZM99.2 240.9L101.2 242.4L100.4 243.5L98.4 242.0ZM97.5 242.6L99.2 244.2L98.5 245.0L96.7 243.4ZM95.5 244.8L97.7 246.5L96.9 247.5L94.8 245.9ZM104.0 227.6L105.4 228.6L104.5 229.7L103.2 228.7ZM102.2 229.2L103.8 230.4L103.0 231.4L101.4 230.3ZM106.8 229.8L108.0 231.0L107.2 231.8L105.9 230.6ZM104.2 232.0L106.6 234.0L106.0 234.7L103.7 232.6ZM100.9 235.4L103.2 237.6L102.1 238.8L99.8 236.6ZM112.4 228.2L114.0 229.6L113.1 230.7L111.4 229.4ZM111.0 230.0L112.3 231.1L111.5 231.9L110.3 230.8ZM106.9 234.4L108.3 235.8L107.8 236.3L106.4 235.0ZM103.4 237.9L105.8 240.1L105.0 240.9L102.6 238.8ZM101.9 240.0L103.4 241.1L102.9 241.8L101.4 240.7ZM100.8 242.0L102.3 243.2L101.8 243.9L100.2 242.8ZM118.0 225.9L119.8 227.4L119.3 228.0L117.5 226.5ZM116.7 228.5L118.4 230.2L117.8 230.9L116.0 229.3ZM111.6 233.9L113.5 235.3L112.8 236.2L110.9 234.8ZM109.7 235.5L111.6 237.0L110.5 238.3L108.7 236.8ZM106.7 239.9L108.5 241.4L107.6 242.4L105.9 240.9ZM101.8 246.2L103.3 247.5L102.4 248.6L100.9 247.3ZM118.7 229.9L120.7 231.7L120.0 232.5L117.9 230.7ZM117.5 232.4L118.8 233.7L118.1 234.5L116.7 233.2ZM115.7 234.5L117.5 236.1L116.8 237.0L115.0 235.4ZM113.8 236.2L115.4 237.4L114.8 238.2L113.2 236.9ZM112.1 238.5L113.8 239.9L113.0 240.9L111.3 239.5ZM111.0 239.9L112.7 241.3L111.7 242.4L110.0 241.0ZM108.7 241.7L110.7 243.7L109.9 244.5L107.9 242.5ZM107.3 244.2L108.7 245.3L107.7 246.6L106.3 245.4ZM118.0 235.8L120.3 237.6L119.3 238.9L117.0 237.1ZM117.1 238.3L118.6 239.4L117.8 240.5L116.3 239.3ZM112.9 242.4L114.5 243.8L114.0 244.4L112.4 243.1ZM111.3 244.2L113.1 245.6L112.1 246.8L110.3 245.3ZM119.1 240.3L121.2 242.1L120.3 243.2L118.2 241.4ZM117.3 242.5L119.8 244.5L119.0 245.5L116.5 243.5ZM116.2 244.3L118.2 246.0L117.4 247.0L115.4 245.4ZM119.6 236.3L122.4 236.2L122.4 238.2L119.7 238.3ZM119.2 240.0L123.2 239.8L123.2 241.3L119.2 241.5ZM120.1 242.6L122.4 242.6L122.3 244.7L120.1 244.6ZM124.8 226.8L127.2 226.8L127.2 228.9L124.9 228.9ZM124.5 229.7L127.1 229.6L127.3 231.9L124.7 232.0ZM123.4 233.2L127.8 233.1L127.8 235.6L123.4 235.7ZM124.4 235.7L127.2 235.6L127.3 238.3L124.5 238.4ZM124.1 239.9L127.9 239.8L127.9 241.1L124.2 241.3ZM123.9 242.5L127.9 242.7L127.8 245.5L123.8 245.3ZM128.6 226.5L131.7 226.3L131.9 228.5L128.7 228.7ZM128.1 236.1L131.8 236.0L131.9 238.7L128.2 238.8ZM132.9 227.0L136.7 227.3L136.6 229.1L132.8 228.8ZM132.7 236.2L137.0 236.4L136.9 239.1L132.6 238.9ZM132.9 239.2L136.2 239.0L136.3 241.4L133.0 241.6ZM132.6 242.2L137.7 242.4L137.6 245.2L132.5 245.0ZM137.3 226.9L141.2 226.8L141.2 228.3L137.4 228.4ZM138.3 233.1L141.2 233.2L141.1 235.8L138.2 235.7ZM137.9 235.8L141.6 235.8L141.6 238.4L137.9 238.4ZM138.2 242.4L141.1 242.4L141.1 244.9L138.1 244.9ZM138.0 246.4L141.3 246.4L141.3 247.8L138.0 247.9ZM149.7 229.2L152.9 233.3L151.3 234.6L148.1 230.5ZM147.8 231.7L149.2 233.7L147.3 235.1L145.8 233.2ZM157.8 229.5L160.3 233.4L159.0 234.2L156.5 230.4ZM155.0 230.8L158.0 235.2L156.0 236.6L153.0 232.2ZM153.4 233.8L155.1 236.4L153.0 237.9L151.2 235.2ZM150.5 235.6L152.4 238.4L150.3 239.8L148.5 236.9ZM147.6 237.4L149.4 239.9L148.2 240.7L146.4 238.2ZM145.0 238.9L147.0 242.0L144.8 243.5L142.7 240.3ZM158.4 235.9L160.1 238.3L158.1 239.7L156.4 237.2ZM154.8 236.6L157.9 240.7L156.1 242.1L153.0 238.0ZM152.6 238.2L155.5 242.3L153.8 243.5L150.9 239.4ZM149.7 240.2L152.6 244.0L150.8 245.4L147.9 241.6ZM146.8 242.3L149.4 245.9L147.9 247.0L145.4 243.4ZM158.5 240.7L160.5 243.5L158.2 245.2L156.2 242.4ZM155.8 242.8L157.3 245.0L155.6 246.2L154.1 244.0ZM152.6 244.7L155.0 248.0L153.5 249.1L151.1 245.8ZM160.0 227.2L162.4 227.1L162.5 228.7L160.1 228.8ZM159.1 236.0L163.0 236.1L162.9 238.4L159.0 238.3ZM159.0 239.4L162.6 239.3L162.6 241.5L159.1 241.6ZM159.2 242.5L163.1 242.5L163.0 244.9L159.2 244.9ZM158.1 246.1L163.4 246.2L163.4 247.9L158.0 247.7ZM163.8 226.9L167.3 227.1L167.2 228.9L163.7 228.8ZM163.4 230.1L167.4 230.1L167.4 232.1L163.4 232.1ZM164.1 242.6L166.6 242.5L166.7 245.1L164.2 245.2ZM164.8 246.2L167.2 246.2L167.2 247.6L164.9 247.6ZM168.0 233.1L172.5 232.9L172.5 234.8L168.1 235.0ZM169.1 236.4L172.1 236.4L172.1 238.0L169.1 238.0ZM169.3 242.6L172.0 242.5L172.0 245.3L169.4 245.4ZM174.0 226.7L176.3 226.9L176.1 228.8L173.9 228.6ZM172.6 239.5L177.7 239.5L177.7 240.8L172.6 240.8ZM173.9 242.4L176.3 242.3L176.4 244.6L174.0 244.7ZM178.7 226.7L181.0 226.6L181.0 228.4L178.8 228.4ZM176.8 229.9L181.9 229.6L182.0 232.1L177.0 232.5ZM177.6 232.5L181.0 232.7L180.9 235.0L177.5 234.8ZM178.0 236.4L180.4 236.4L180.3 237.9L178.0 237.8ZM177.8 239.6L180.9 239.4L181.0 241.5L177.9 241.7ZM178.1 242.4L180.3 242.3L180.4 245.1L178.3 245.2ZM178.3 245.9L181.3 246.1L181.2 248.4L178.2 248.2ZM179.1 226.6L183.0 226.9L182.9 228.8L178.9 228.5ZM179.0 229.7L183.5 229.9L183.5 231.7L178.9 231.6ZM179.2 232.7L182.4 232.9L182.3 234.9L179.1 234.7ZM179.0 236.5L182.4 236.4L182.5 238.7L179.1 238.9ZM178.8 242.5L182.9 242.7L182.8 244.9L178.7 244.8ZM183.6 233.4L187.1 233.2L187.2 235.3L183.7 235.5ZM184.6 236.6L187.6 236.7L187.6 238.2L184.6 238.1ZM183.3 239.2L187.3 239.0L187.4 241.7L183.5 241.8ZM183.9 242.0L187.3 242.2L187.2 245.0L183.7 244.8ZM188.3 226.7L191.7 226.6L191.8 229.0L188.4 229.2ZM187.5 232.4L192.6 232.7L192.4 235.3L187.3 235.0ZM187.7 239.6L192.5 239.5L192.5 241.7L187.8 241.8ZM187.7 242.4L192.6 242.5L192.6 244.9L187.6 244.8ZM189.2 245.6L192.2 245.5L192.2 247.6L189.2 247.7ZM191.8 226.5L197.1 226.3L197.3 229.1L191.9 229.4ZM194.0 230.3L196.6 230.2L196.7 232.3L194.1 232.3ZM192.8 239.2L197.9 239.5L197.8 241.2L192.7 240.9ZM193.0 243.1L196.9 243.1L196.8 244.7L193.0 244.7ZM197.2 226.9L202.3 227.2L202.2 228.7L197.1 228.4ZM197.6 229.4L201.2 229.6L201.1 232.2L197.5 232.0ZM197.9 233.4L201.6 233.3L201.6 234.6L197.9 234.8ZM198.5 236.3L201.1 236.4L201.0 239.0L198.4 238.9ZM197.3 239.0L200.8 238.9L201.0 241.7L197.4 241.9ZM197.7 242.9L200.7 242.8L200.7 245.1L197.7 245.1ZM198.1 245.9L200.6 245.8L200.7 247.9L198.2 248.0ZM199.8 225.9L202.4 228.7L201.4 229.7L198.8 227.0ZM204.9 226.1L207.8 229.1L206.8 230.1L203.8 227.2ZM203.7 228.9L205.8 231.1L204.7 232.1L202.6 229.9ZM211.0 227.6L214.0 230.3L212.8 231.7L209.8 229.0ZM206.4 232.3L209.0 235.0L207.8 236.1L205.2 233.4ZM205.1 234.8L206.7 236.5L205.3 237.9L203.6 236.2ZM208.0 237.9L210.1 240.1L208.3 241.8L206.3 239.6ZM205.3 240.0L207.3 241.9L205.7 243.6L203.7 241.7ZM203.1 241.4L205.9 244.6L204.2 246.1L201.4 242.9ZM215.4 236.0L218.6 238.8L216.8 240.8L213.6 238.0ZM212.8 237.8L216.0 241.0L214.2 242.8L211.0 239.7ZM206.7 245.5L208.6 247.6L207.3 248.7L205.5 246.6ZM218.4 240.2L220.5 242.0L219.2 243.5L217.1 241.7ZM216.0 242.5L218.3 245.0L217.3 245.9L215.0 243.4ZM214.1 243.5L217.6 247.1L215.7 249.0L212.2 245.4ZM219.8 244.4L222.8 247.7L221.2 249.2L218.2 245.9ZM222.0 245.6L225.4 242.0L226.7 243.2L223.3 246.8ZM224.8 247.3L228.0 243.6L229.7 245.2L226.5 248.9ZM233.5 247.8L235.1 245.6L236.8 246.9L235.2 249.1ZM218.4 229.7L220.2 227.3L222.3 228.9L220.5 231.2ZM220.8 232.4L224.3 228.5L225.4 229.5L221.9 233.4ZM223.8 234.1L226.6 230.8L227.9 232.0L225.0 235.3ZM225.8 236.8L228.9 232.7L230.7 234.0L227.6 238.2ZM231.0 239.6L232.7 237.3L234.9 238.9L233.2 241.2ZM236.0 244.4L237.8 242.1L238.9 242.9L237.1 245.3ZM223.7 228.8L226.6 225.1L228.5 226.5L225.6 230.3ZM231.7 234.8L233.4 232.6L234.6 233.5L232.8 235.7ZM234.3 237.1L236.7 234.1L237.8 235.0L235.4 238.0ZM235.8 238.6L239.3 234.9L241.1 236.7L237.6 240.4ZM233.4 231.8L236.9 227.8L238.7 229.3L235.2 233.4ZM239.8 242.4L241.5 240.1L243.5 241.7L241.8 243.9ZM244.8 247.7L248.1 244.3L249.5 245.7L246.3 249.1ZM240.4 237.6L242.5 235.0L244.4 236.6L242.4 239.2ZM245.2 242.1L248.3 238.8L249.6 239.9L246.5 243.3ZM248.6 243.5L250.4 241.5L251.6 242.6L249.8 244.6ZM253.0 248.1L255.3 245.2L256.4 246.0L254.0 249.0ZM240.8 231.9L243.0 229.1L244.9 230.6L242.6 233.4ZM244.1 233.5L245.8 231.6L247.5 233.2L245.8 235.0ZM255.9 243.7L257.6 241.6L258.9 242.7L257.2 244.7ZM257.7 246.4L260.4 243.5L262.3 245.3L259.6 248.2ZM243.8 228.5L246.3 225.3L247.5 226.3L245.1 229.5ZM247.0 230.1L248.4 228.3L250.4 229.8L249.1 231.6ZM248.5 233.2L251.7 229.4L253.1 230.6L249.9 234.4ZM252.1 234.7L253.7 232.6L254.9 233.5L253.3 235.6ZM253.9 236.8L256.3 233.8L257.7 234.8L255.3 237.9ZM255.8 238.3L258.2 235.8L260.1 237.5L257.7 240.1ZM254.1 231.3L257.4 227.3L259.3 228.9L256.0 232.9ZM256.3 233.3L259.6 229.8L261.3 231.3L258.0 234.9ZM262.7 228.7L264.2 228.8L264.2 229.7L262.6 229.6ZM262.0 242.0L265.1 242.2L265.1 243.4L262.0 243.2ZM265.7 239.6L267.9 239.6L268.0 240.6L265.7 240.7ZM266.5 244.5L268.0 244.5L268.0 246.0L266.5 246.0ZM269.5 228.8L271.8 228.8L271.8 230.4L269.5 230.3ZM269.3 231.1L270.7 231.1L270.8 232.7L269.3 232.7ZM269.4 244.3L271.2 244.4L271.2 245.3L269.4 245.2ZM272.5 234.0L275.6 233.9L275.6 234.9L272.5 235.0ZM272.7 237.0L275.0 236.9L275.1 237.9L272.7 238.0ZM272.6 239.3L274.9 239.2L275.0 240.3L272.6 240.4ZM272.6 241.9L275.4 241.9L275.3 243.3L272.6 243.3ZM272.2 244.3L275.3 244.2L275.4 245.5L272.2 245.6ZM275.7 236.6L278.3 236.6L278.3 237.6L275.8 237.7ZM282.3 228.9L285.4 228.8L285.4 230.0L282.4 230.1ZM289.5 239.3L291.2 239.3L291.2 240.3L289.5 240.3ZM289.1 241.8L291.1 241.9L291.0 243.2L289.1 243.0ZM293.4 236.6L294.8 236.5L294.9 237.8L293.4 237.9ZM296.2 229.2L298.6 229.1L298.7 230.4L296.2 230.5ZM43.1 247.5L44.8 248.9L44.3 249.6L42.5 248.2ZM42.5 250.1L43.5 251.1L42.9 251.7L41.9 250.8ZM39.8 251.0L42.3 252.9L41.5 254.1L38.9 252.1ZM45.2 251.8L46.4 253.0L45.5 253.9L44.3 252.8ZM43.1 254.5L44.5 255.6L43.9 256.3L42.5 255.3ZM41.1 256.1L42.4 257.1L41.8 257.9L40.5 256.9ZM50.3 249.9L51.8 251.0L51.1 251.9L49.6 250.8ZM48.5 252.4L50.5 254.1L50.0 254.8L48.0 253.0ZM47.0 253.8L48.6 255.1L47.9 256.0L46.3 254.7ZM45.3 256.4L46.6 257.4L46.0 258.3L44.6 257.2ZM43.8 258.1L45.9 259.9L45.1 260.8L43.0 259.1ZM42.3 260.1L43.5 260.9L42.6 262.1L41.5 261.2ZM40.3 262.1L42.8 264.0L42.0 264.9L39.6 263.0ZM57.8 246.5L60.1 248.4L59.5 249.2L57.1 247.2ZM56.4 248.0L59.0 250.0L58.0 251.3L55.5 249.3ZM55.3 250.7L56.3 251.7L55.2 252.8L54.2 251.9ZM52.5 251.8L54.8 254.0L54.1 254.8L51.8 252.5ZM50.0 256.5L51.8 257.9L50.8 259.1L49.1 257.6ZM48.2 258.4L50.0 259.8L49.0 261.1L47.2 259.7ZM46.3 260.2L48.7 262.2L47.9 263.2L45.5 261.2ZM41.7 266.5L43.5 267.9L42.6 269.1L40.8 267.6ZM57.0 252.1L59.2 254.1L58.6 254.8L56.3 252.8ZM54.2 257.0L55.4 258.0L54.9 258.7L53.7 257.7ZM52.2 258.2L54.1 259.7L53.3 260.8L51.4 259.2ZM50.5 260.3L52.8 262.1L52.1 263.0L49.8 261.2ZM49.2 261.9L51.3 263.5L50.4 264.8L48.3 263.1ZM47.7 265.0L49.0 266.1L48.2 266.9L47.0 265.8ZM58.1 256.9L59.7 258.2L59.1 258.9L57.5 257.6ZM57.0 258.7L58.4 259.9L57.4 261.1L56.0 260.0ZM54.7 261.0L56.9 262.8L56.3 263.4L54.2 261.6ZM53.5 262.7L54.5 263.6L53.5 264.8L52.5 263.9ZM59.2 260.4L61.2 262.2L60.1 263.4L58.1 261.7ZM67.4 247.7L69.3 249.5L68.7 250.2L66.8 248.4ZM66.8 250.1L68.3 251.3L67.3 252.5L65.8 251.3ZM63.0 254.1L64.0 255.0L63.4 255.6L62.4 254.7ZM60.7 255.5L63.1 257.3L62.4 258.3L60.0 256.5ZM72.3 247.3L74.7 249.3L73.7 250.6L71.2 248.6ZM68.7 252.6L69.8 253.6L69.2 254.3L68.1 253.3ZM65.2 255.4L67.2 257.3L66.1 258.4L64.2 256.5ZM62.1 260.1L63.4 261.2L62.6 262.2L61.2 261.2ZM60.7 261.6L62.5 263.1L61.7 264.0L59.9 262.6ZM77.8 246.7L79.7 248.3L79.0 249.0L77.2 247.4ZM76.3 248.7L78.4 250.2L77.8 251.0L75.8 249.5ZM73.6 252.1L74.9 253.2L74.1 254.3L72.7 253.2ZM72.0 254.1L73.3 255.1L72.6 256.1L71.2 255.0ZM70.4 256.4L71.6 257.5L70.8 258.5L69.5 257.4ZM67.9 257.5L70.1 259.6L68.9 260.8L66.7 258.8ZM66.2 259.8L68.6 261.7L68.1 262.4L65.6 260.6ZM64.9 262.7L66.5 264.0L65.8 264.9L64.2 263.6ZM62.9 263.9L64.5 265.2L63.8 266.1L62.2 264.8ZM61.1 265.9L63.4 267.7L62.5 268.8L60.2 267.0ZM78.6 250.1L81.1 252.3L80.3 253.3L77.7 251.1ZM77.7 252.8L79.4 254.2L78.6 255.1L77.0 253.8ZM75.7 254.5L77.1 255.5L76.1 256.8L74.7 255.8ZM73.6 256.6L75.3 258.1L74.8 258.7L73.1 257.2ZM72.5 258.4L73.6 259.4L72.9 260.2L71.8 259.3ZM70.3 260.3L72.1 261.9L71.2 262.9L69.4 261.4ZM66.9 264.4L69.2 266.3L68.2 267.4L66.0 265.4ZM78.2 256.4L80.6 258.4L80.0 259.1L77.6 257.0ZM74.4 261.2L76.2 262.6L75.7 263.2L73.9 261.8ZM73.7 263.0L74.9 263.9L73.9 265.2L72.6 264.3ZM72.0 264.8L73.4 266.0L72.5 267.0L71.1 265.8ZM78.6 260.8L80.9 263.0L80.3 263.5L78.0 261.3ZM75.6 264.6L78.0 266.7L77.2 267.6L74.8 265.5ZM80.1 251.2L82.4 253.2L81.7 254.0L79.4 252.0ZM87.4 247.9L90.0 249.9L89.2 251.0L86.6 249.0ZM84.5 252.6L85.6 253.4L84.9 254.4L83.8 253.6ZM83.1 254.0L84.9 255.6L84.3 256.3L82.5 254.7ZM81.0 255.9L82.3 256.9L81.6 257.8L80.3 256.7ZM91.7 248.0L93.8 249.9L93.2 250.6L91.1 248.7ZM90.5 250.3L91.8 251.4L91.2 252.1L89.9 250.9ZM88.9 251.7L90.3 253.1L89.3 254.1L87.8 252.7ZM85.5 256.4L86.8 257.7L86.0 258.6L84.6 257.3ZM84.4 257.7L85.9 259.1L84.9 260.3L83.3 258.9ZM81.7 259.8L84.3 261.9L83.4 263.0L80.8 261.0ZM80.3 262.4L82.1 264.0L81.5 264.6L79.8 263.1ZM98.3 246.8L99.7 247.8L98.9 248.9L97.5 247.8ZM96.2 248.2L97.9 249.7L97.2 250.5L95.5 249.1ZM95.2 250.4L96.8 251.6L96.0 252.6L94.4 251.3ZM92.7 252.3L94.5 253.8L93.8 254.6L92.0 253.1ZM90.9 253.7L93.1 255.5L92.2 256.5L90.1 254.7ZM89.5 256.5L91.4 258.0L90.7 258.8L88.9 257.2ZM88.3 257.9L89.7 259.1L88.8 260.1L87.4 259.0ZM81.5 266.2L83.2 267.6L82.6 268.4L80.9 267.0ZM99.2 250.1L101.2 251.6L100.3 252.7L98.3 251.2ZM98.1 252.7L99.3 253.6L98.3 254.9L97.1 253.9ZM95.6 254.4L97.7 256.3L97.0 257.1L94.9 255.2ZM92.5 258.4L94.4 259.9L93.4 261.2L91.5 259.7ZM91.0 260.2L92.8 261.9L92.1 262.6L90.3 260.9ZM89.1 263.0L90.4 264.1L89.6 265.1L88.3 263.9ZM87.3 264.7L88.9 265.9L88.3 266.6L86.8 265.4ZM98.6 256.3L100.3 257.8L99.2 259.0L97.6 257.5ZM97.1 259.0L98.4 260.2L97.9 260.8L96.6 259.5ZM93.0 262.8L95.4 264.7L94.9 265.3L92.5 263.4ZM97.3 263.1L98.7 264.3L98.1 265.0L96.7 263.8ZM95.5 265.1L97.4 266.5L96.9 267.2L95.0 265.8ZM102.5 249.2L104.1 249.3L104.0 250.8L102.4 250.7ZM102.5 254.7L105.1 254.5L105.2 255.3L102.5 255.5ZM103.0 257.2L104.6 257.1L104.6 258.2L103.1 258.2ZM101.9 262.4L104.3 262.4L104.3 263.6L101.9 263.5ZM105.6 249.5L108.1 249.5L108.1 250.4L105.6 250.4ZM105.3 251.5L107.6 251.4L107.6 252.5L105.4 252.6ZM106.6 254.2L108.0 254.3L107.9 255.8L106.5 255.7ZM105.6 256.7L108.6 256.6L108.7 257.8L105.7 257.8ZM106.2 259.7L108.0 259.8L107.9 260.8L106.1 260.7ZM106.0 262.1L108.0 262.2L107.9 263.4L105.9 263.3ZM105.2 264.3L108.4 264.2L108.4 265.4L105.2 265.5ZM109.3 248.8L110.7 248.9L110.6 250.1L109.3 250.0ZM108.7 254.1L111.1 254.1L111.1 255.3L108.7 255.3ZM109.1 257.2L111.6 257.1L111.6 257.9L109.1 258.0ZM108.8 259.2L112.0 259.3L111.9 260.9L108.7 260.8ZM109.0 262.3L111.7 262.3L111.7 263.4L108.9 263.4ZM109.3 264.7L111.4 264.6L111.4 265.7L109.3 265.8ZM113.0 248.7L114.9 248.8L114.9 250.1L113.0 250.1ZM112.3 251.2L114.9 251.1L114.9 252.5L112.3 252.6ZM112.5 254.2L115.1 254.1L115.1 255.8L112.5 255.8ZM112.1 259.6L115.2 259.6L115.2 260.8L112.1 260.8ZM112.8 264.3L114.2 264.4L114.1 265.7L112.7 265.6ZM115.9 248.9L117.8 248.8L117.8 250.0L115.9 250.1ZM116.4 254.8L118.4 254.7L118.5 255.5L116.5 255.7ZM115.4 259.0L118.6 259.1L118.6 260.3L115.4 260.2ZM115.9 262.0L118.9 262.1L118.9 263.1L115.8 262.9ZM115.3 264.5L118.5 264.4L118.6 265.7L115.4 265.8ZM119.8 246.6L122.9 246.6L122.9 248.4L119.8 248.4ZM119.5 250.1L122.1 250.0L122.2 252.4L119.6 252.5ZM119.6 256.4L122.1 256.3L122.1 257.9L119.6 258.0ZM119.1 262.2L122.5 262.4L122.4 264.8L119.0 264.7ZM119.9 266.6L122.6 266.6L122.6 268.2L119.9 268.3ZM124.2 249.9L127.0 250.0L126.9 251.8L124.1 251.7ZM123.6 253.4L127.0 253.4L127.0 255.9L123.6 255.8ZM124.5 257.1L127.3 256.9L127.4 258.6L124.6 258.7ZM124.2 262.9L126.6 263.1L126.5 265.3L124.1 265.2ZM124.6 265.6L127.2 265.7L127.2 267.8L124.5 267.7ZM128.2 247.1L131.6 247.0L131.7 248.6L128.3 248.7ZM128.1 259.8L132.4 259.7L132.4 261.6L128.1 261.6ZM128.0 262.8L132.9 262.6L133.0 265.5L128.0 265.6ZM129.1 266.1L132.0 266.3L131.9 268.4L129.0 268.2ZM133.6 250.2L136.0 250.4L135.9 252.4L133.5 252.3ZM132.6 252.8L137.3 253.1L137.1 255.6L132.5 255.3ZM132.4 260.0L137.8 259.8L137.8 261.4L132.4 261.5ZM132.7 262.7L136.7 263.0L136.5 265.6L132.5 265.4ZM132.7 265.8L136.7 265.6L136.8 267.7L132.8 267.8ZM137.6 256.7L141.4 256.9L141.3 258.4L137.5 258.1ZM137.7 259.7L142.0 259.8L142.0 261.2L137.7 261.0ZM138.0 262.6L140.8 262.6L140.8 264.6L138.0 264.6ZM137.3 265.6L141.7 265.6L141.7 268.4L137.3 268.4ZM138.4 246.7L143.0 246.4L143.1 248.8L138.6 249.1ZM139.6 250.0L141.8 249.9L141.9 252.6L139.7 252.7ZM139.2 252.5L143.7 252.7L143.6 255.4L139.1 255.3ZM140.1 256.0L142.8 256.1L142.8 258.1L140.1 258.0ZM138.3 260.0L143.3 259.8L143.5 261.8L138.4 262.1ZM139.2 263.5L142.4 263.4L142.4 264.8L139.3 264.9ZM143.3 247.1L148.4 247.2L148.4 248.6L143.2 248.5ZM143.3 252.8L148.7 253.1L148.6 255.3L143.2 255.0ZM144.2 256.5L147.9 256.8L147.8 258.4L144.1 258.2ZM143.7 263.4L148.2 263.1L148.3 264.7L143.8 264.9ZM144.7 266.4L147.2 266.5L147.1 268.1L144.6 268.1ZM147.5 247.1L152.7 246.9L152.7 248.5L147.5 248.7ZM147.7 249.9L152.6 249.8L152.6 252.3L147.8 252.4ZM148.7 253.6L152.5 253.8L152.5 255.4L148.6 255.2ZM149.2 256.2L152.1 256.4L151.9 258.9L149.0 258.7ZM148.7 259.5L151.6 259.6L151.5 261.6L148.7 261.5ZM147.7 262.6L152.2 262.9L152.1 265.1L147.6 264.9ZM148.2 265.6L153.1 265.5L153.2 267.8L148.2 267.9ZM152.7 247.2L157.3 246.9L157.4 248.7L152.8 249.0ZM153.4 250.4L156.6 250.2L156.7 251.9L153.4 252.1ZM154.1 253.8L156.5 254.0L156.4 255.4L154.0 255.2ZM153.0 259.8L157.0 260.1L156.9 262.2L152.9 261.9ZM153.5 262.9L156.3 263.1L156.2 265.3L153.4 265.1ZM153.4 266.0L155.9 266.1L155.8 268.2L153.3 268.1ZM158.0 247.4L161.7 247.4L161.7 248.9L158.0 248.9ZM157.2 250.1L161.6 249.9L161.6 251.9L157.3 252.0ZM157.3 253.4L161.6 253.4L161.6 255.5L157.3 255.5ZM158.2 256.4L161.2 256.5L161.1 258.7L158.1 258.6ZM157.0 259.2L161.6 259.3L161.6 261.5L157.0 261.4ZM158.6 246.5L163.4 246.7L163.3 248.9L158.5 248.7ZM158.8 249.7L162.6 249.6L162.6 251.7L158.9 251.9ZM158.5 254.0L163.2 253.8L163.2 255.3L158.5 255.5ZM159.3 255.7L163.4 255.9L163.3 258.5L159.2 258.4ZM159.8 259.2L162.1 259.2L162.1 262.0L159.8 262.0ZM159.4 263.3L163.4 263.0L163.4 264.5L159.4 264.7ZM159.9 266.3L162.6 266.2L162.7 268.2L160.0 268.3ZM162.8 246.9L168.1 246.7L168.2 249.0L162.9 249.2ZM163.3 250.3L167.6 250.6L167.5 252.1L163.2 251.8ZM163.0 253.2L167.6 252.9L167.7 254.5L163.1 254.8ZM162.9 256.5L168.0 256.4L168.0 257.7L162.9 257.8ZM164.0 259.5L166.7 259.4L166.9 262.0L164.1 262.1ZM164.8 262.9L167.4 262.8L167.4 264.5L164.8 264.5ZM162.7 266.0L168.1 266.2L168.1 268.3L162.7 268.2ZM168.3 246.6L171.7 246.6L171.7 249.2L168.3 249.2ZM168.9 253.3L171.8 253.1L171.9 255.0L169.0 255.2ZM168.6 260.3L171.2 260.1L171.3 261.7L168.7 261.8ZM167.8 262.4L173.0 262.5L173.0 265.0L167.8 264.9ZM168.9 266.2L171.7 266.4L171.6 268.0L168.8 267.9ZM173.0 246.4L176.1 246.2L176.2 248.6L173.2 248.9ZM172.9 249.9L176.9 249.7L177.0 251.7L173.0 251.9ZM173.6 253.1L177.0 253.2L176.9 255.3L173.5 255.2ZM172.8 256.5L176.5 256.5L176.6 257.9L172.8 257.9ZM172.2 259.5L177.3 259.4L177.4 261.2L172.2 261.2ZM173.0 262.6L177.0 262.6L177.0 265.3L173.1 265.3ZM172.8 266.6L176.5 266.4L176.6 267.9L172.9 268.2ZM177.4 246.8L181.6 246.8L181.6 249.1L177.4 249.2ZM178.7 250.2L181.0 250.1L181.1 252.1L178.8 252.1ZM176.8 253.4L182.2 253.6L182.1 255.7L176.7 255.4ZM177.2 256.8L181.5 256.8L181.6 258.5L177.3 258.6ZM177.0 262.6L182.0 262.8L181.9 264.4L176.9 264.1ZM179.1 246.4L182.8 246.2L183.0 249.0L179.3 249.2ZM179.4 253.3L183.3 253.1L183.4 255.5L179.5 255.7ZM178.5 256.6L183.5 256.4L183.6 258.5L178.6 258.7ZM178.6 259.4L183.0 259.4L183.0 262.2L178.6 262.2ZM179.9 262.7L182.6 262.6L182.7 264.4L180.0 264.5ZM179.1 265.4L183.7 265.4L183.7 268.2L179.1 268.2ZM183.7 246.5L187.6 246.6L187.6 248.8L183.6 248.7ZM183.5 252.8L187.8 253.0L187.6 255.8L183.3 255.6ZM184.9 256.2L187.1 256.1L187.1 258.2L184.9 258.3ZM184.1 262.6L188.0 262.8L187.9 265.0L184.0 264.8ZM183.8 265.6L187.3 265.6L187.3 267.8L183.9 267.8ZM189.1 246.4L192.2 246.2L192.3 248.8L189.2 249.0ZM188.8 250.0L192.4 250.0L192.4 251.6L188.8 251.5ZM188.2 253.9L192.4 253.6L192.5 255.1L188.3 255.4ZM189.4 255.9L191.7 256.0L191.6 258.6L189.2 258.5ZM188.5 259.2L192.2 259.0L192.4 261.4L188.6 261.6ZM187.6 262.1L192.8 262.2L192.8 264.9L187.5 264.8ZM188.1 265.8L193.1 266.0L193.0 268.7L188.0 268.5ZM192.8 246.8L196.2 246.8L196.3 249.2L192.9 249.2ZM193.1 253.3L196.7 253.0L196.9 255.4L193.3 255.7ZM193.8 256.3L196.8 256.4L196.7 258.8L193.7 258.7ZM193.7 260.0L196.3 260.0L196.3 261.7L193.7 261.7ZM193.1 262.9L196.3 262.9L196.3 264.7L193.0 264.7ZM192.6 266.1L197.7 266.4L197.7 267.8L192.5 267.4ZM198.3 246.9L200.6 246.9L200.5 249.3L198.3 249.3ZM197.3 249.6L201.6 249.7L201.5 252.0L197.2 251.9ZM198.3 253.1L200.6 253.1L200.6 254.7L198.3 254.7ZM198.2 255.8L201.3 255.9L201.3 258.4L198.2 258.3ZM196.6 263.0L202.0 262.8L202.0 264.5L196.7 264.6ZM198.2 266.3L201.2 266.1L201.3 268.2L198.4 268.4ZM205.8 246.9L208.0 248.9L207.1 249.9L204.8 247.8ZM203.6 248.5L206.8 252.0L204.8 253.9L201.6 250.4ZM201.0 251.5L202.7 253.1L201.6 254.3L199.9 252.7ZM211.7 248.0L213.4 249.7L212.1 250.9L210.5 249.3ZM206.0 252.1L209.1 255.4L207.5 256.9L204.4 253.6ZM203.7 253.7L207.7 257.1L206.2 258.8L202.2 255.3ZM217.1 249.0L218.6 250.6L216.9 252.1L215.4 250.4ZM215.1 251.2L216.8 253.1L215.0 254.7L213.3 252.8ZM211.4 253.0L214.5 256.0L213.5 257.0L210.4 254.0ZM210.0 255.5L211.7 257.3L210.0 259.0L208.3 257.2ZM208.0 257.6L210.3 259.8L208.6 261.6L206.2 259.5ZM201.1 264.2L203.4 266.8L201.9 268.3L199.5 265.7ZM217.5 253.7L221.0 256.9L219.1 259.0L215.6 255.7ZM215.8 256.2L218.0 258.7L216.1 260.4L213.9 257.9ZM212.9 257.8L216.4 261.8L214.7 263.4L211.2 259.3ZM210.5 260.5L213.6 263.5L212.3 264.9L209.1 261.9ZM207.8 263.2L211.0 266.4L209.9 267.5L206.7 264.3ZM219.0 259.4L221.5 261.9L219.7 263.8L217.1 261.2ZM216.3 263.0L217.9 264.5L217.0 265.5L215.4 264.0ZM214.1 263.8L217.0 266.6L215.3 268.3L212.5 265.6ZM218.9 264.6L222.3 268.0L221.0 269.3L217.6 266.0ZM218.7 267.9L220.9 265.6L222.0 266.6L219.8 268.9ZM219.4 262.9L222.7 259.2L223.7 260.1L220.4 263.9ZM221.6 264.2L224.2 261.8L225.8 263.6L223.1 265.9ZM224.5 267.3L227.0 264.7L228.2 265.8L225.7 268.4ZM222.9 259.1L225.4 256.4L226.4 257.3L223.9 260.1ZM229.3 265.9L232.9 262.7L234.1 264.1L230.5 267.2ZM231.6 268.0L234.5 265.2L236.3 267.0L233.3 269.8ZM218.9 248.8L222.0 246.2L223.2 247.5L220.1 250.2ZM222.3 250.8L224.0 249.3L225.0 250.5L223.4 252.0ZM225.6 256.3L229.0 252.8L231.0 254.8L227.7 258.2ZM228.1 258.4L231.1 255.2L233.0 257.0L230.0 260.2ZM232.5 263.4L236.3 259.8L237.6 261.1L233.7 264.7ZM235.6 264.8L237.3 262.9L238.5 263.9L236.7 265.9ZM237.8 266.8L239.6 265.1L240.7 266.3L238.9 268.0ZM229.6 252.1L231.4 250.5L233.2 252.4L231.5 254.1ZM231.8 254.5L234.3 252.3L235.4 253.5L232.9 255.8ZM235.1 259.8L239.2 256.2L241.0 258.3L237.0 261.9ZM232.8 248.9L235.2 246.6L236.8 248.2L234.5 250.5ZM234.9 251.2L236.8 249.3L238.6 251.0L236.7 252.9ZM237.7 253.7L239.8 251.4L240.9 252.4L238.8 254.6ZM238.0 248.0L240.7 245.4L242.6 247.2L239.9 249.9ZM240.6 263.2L242.3 261.2L243.6 262.4L241.9 264.4ZM241.7 265.8L244.8 261.5L246.9 263.0L243.7 267.3ZM240.3 258.1L243.3 254.3L245.2 255.7L242.2 259.6ZM243.2 260.4L245.7 257.1L246.8 257.9L244.3 261.2ZM245.4 262.1L247.8 259.0L249.0 260.0L246.6 263.1ZM248.2 262.9L250.1 260.7L252.2 262.5L250.3 264.7ZM251.1 264.9L252.6 263.3L253.9 264.5L252.3 266.1ZM252.4 267.2L254.5 264.7L256.6 266.5L254.5 269.0ZM239.1 249.8L241.0 247.2L242.8 248.5L240.9 251.1ZM240.4 252.4L243.4 248.5L245.0 249.7L242.0 253.6ZM243.8 253.5L245.7 251.0L247.6 252.4L245.6 255.0ZM253.4 262.5L256.4 259.2L257.5 260.2L254.5 263.4ZM258.0 266.6L260.9 263.2L263.0 265.0L260.1 268.4ZM244.0 248.7L246.7 245.2L247.9 246.1L245.3 249.6ZM248.8 252.1L250.6 249.9L252.7 251.7L250.9 253.9ZM250.9 254.9L254.6 251.0L256.4 252.7L252.7 256.6ZM252.2 249.1L253.7 247.0L254.9 247.9L253.3 250.0ZM253.9 250.9L256.2 248.5L258.0 250.2L255.7 252.6ZM256.5 253.1L258.9 250.6L260.7 252.3L258.3 254.8ZM262.6 249.0L264.8 249.2L264.8 250.1L262.5 249.9ZM266.4 248.6L268.4 248.6L268.4 250.2L266.4 250.2ZM265.8 259.5L268.8 259.7L268.7 260.9L265.7 260.7ZM269.9 251.7L271.3 251.7L271.2 253.2L269.8 253.2ZM269.3 254.1L272.3 254.3L272.3 255.7L269.2 255.5ZM269.7 256.8L271.3 256.7L271.4 258.0L269.8 258.0ZM269.0 262.3L272.1 262.2L272.1 263.2L269.1 263.3ZM272.6 249.0L275.0 248.9L275.1 249.9L272.7 250.1ZM272.1 254.4L275.3 254.5L275.2 255.7L272.0 255.5ZM276.6 251.5L278.0 251.4L278.0 252.7L276.7 252.7ZM275.6 259.7L278.0 259.6L278.1 261.0L275.7 261.1ZM276.0 264.6L278.6 264.6L278.6 265.8L276.0 265.7ZM281.9 249.4L285.1 249.3L285.2 250.5L281.9 250.6ZM282.2 257.3L284.7 257.4L284.6 258.4L282.1 258.3ZM286.0 251.9L288.5 251.8L288.5 252.8L286.0 252.9ZM289.7 249.0L291.9 249.2L291.9 250.3L289.6 250.1ZM289.0 252.1L291.1 252.0L291.1 252.7L289.1 252.9ZM288.8 264.8L291.5 265.0L291.5 266.4L288.8 266.2ZM292.4 259.4L295.0 259.3L295.0 260.4L292.4 260.5ZM296.1 248.9L298.5 249.1L298.4 249.9L296.1 249.7ZM296.5 262.0L298.4 262.1L298.4 263.1L296.5 263.0ZM159.9 111.0L173.7 109.0L174.1 112.0L160.3 114.0ZM161.4 116.2L174.3 114.4L174.6 116.8L161.7 118.6ZM191.0 130.8L214.9 130.0L215.0 133.2L191.1 134.0ZM194.8 139.5L197.6 138.2L205.2 154.5L202.4 155.8ZM125.9 117.8L130.8 118.2L130.1 126.2L125.2 125.8ZM42.4 177.6L49.3 171.8L51.6 174.4L44.7 180.2ZM48.0 182.9L55.7 176.4L58.0 179.1L50.3 185.6ZM55.6 177.7L62.5 172.0L64.4 174.3L57.5 180.0ZM43.9 191.7L51.5 185.3L54.1 188.3L46.5 194.7ZM43.0 199.4L46.9 198.7L49.0 210.6L45.1 211.3ZM49.0 209.0L56.3 212.3L55.0 215.0L47.7 211.7ZM74.3 149.6L78.2 148.6L79.7 154.4L75.8 155.4ZM93.0 149.5L99.7 147.7L101.0 152.5L94.3 154.3ZM55.2 226.9L62.5 221.8L64.8 225.1L57.5 230.2ZM66.5 222.8L74.7 217.1L77.5 221.2L69.3 226.9ZM79.3 222.1L82.8 227.0L78.7 229.9L75.2 225.0ZM288.2 116.1L293.7 125.6L289.8 127.9L284.3 118.4ZM283.0 122.6L287.5 130.4L284.0 132.4L279.5 124.6ZM278.5 108.7L282.5 115.6L279.5 117.3L275.5 110.4ZM295.8 107.8L299.8 114.7L297.2 116.2L293.2 109.3ZM267.9 111.7L271.9 118.7L269.1 120.3L265.1 113.3ZM260.3 146.6L265.6 151.1L263.7 153.4L258.4 148.9ZM232.0 140.7L243.9 139.7L244.0 141.3L232.1 142.3ZM235.8 143.0L237.4 143.1L236.2 157.0L234.6 156.9ZM248.4 142.2L249.8 142.8L245.6 151.8L244.2 151.2ZM235.5 156.2L244.5 156.2L244.5 157.8L235.5 157.8ZM292.5 136.2L296.0 142.3L293.5 143.8L290.0 137.7ZM286.6 143.8L289.6 149.0L287.4 150.2L284.4 145.0ZM254.3 181.1L259.2 182.0L257.7 190.9L252.8 190.0ZM261.4 195.0L266.6 198.0L262.6 205.0L257.4 202.0ZM244.5 192.0L249.5 192.0L249.5 200.0L244.5 200.0ZM241.5 178.5L250.5 178.5L250.5 183.5L241.5 183.5ZM226.1 197.8L231.1 198.2L229.9 212.2L224.9 211.8ZM191.0 195.0L195.0 195.0L195.0 199.0L191.0 199.0Z"/>
</g>
<rect x="40.2" y="106.4" width="260.3" height="161.2" fill="none" stroke="#262626" stroke-width="0.6"/>
<text x="38.3" y="110.3" font-size="8.9" text-anchor="end" font-weight="normal" fill="#1f1f1f" >1000</text>
<line x1="40.2" y1="107.1" x2="42.8" y2="107.1" stroke="#262626" stroke-width="0.5"/>
<line x1="300.5" y1="107.1" x2="297.9" y2="107.1" stroke="#262626" stroke-width="0.5"/>
<text x="38.3" y="141.29999999999998" font-size="8.9" text-anchor="end" font-weight="normal" fill="#1f1f1f" >500</text>
<line x1="40.2" y1="138.1" x2="42.8" y2="138.1" stroke="#262626" stroke-width="0.5"/>
<line x1="300.5" y1="138.1" x2="297.9" y2="138.1" stroke="#262626" stroke-width="0.5"/>
<text x="38.3" y="172.29999999999998" font-size="8.9" text-anchor="end" font-weight="normal" fill="#1f1f1f" >0</text>
<line x1="40.2" y1="169.1" x2="42.8" y2="169.1" stroke="#262626" stroke-width="0.5"/>
<line x1="300.5" y1="169.1" x2="297.9" y2="169.1" stroke="#262626" stroke-width="0.5"/>
<text x="38.3" y="203.29999999999998" font-size="8.9" text-anchor="end" font-weight="normal" fill="#1f1f1f" >-500</text>
<line x1="40.2" y1="200.1" x2="42.8" y2="200.1" stroke="#262626" stroke-width="0.5"/>
<line x1="300.5" y1="200.1" x2="297.9" y2="200.1" stroke="#262626" stroke-width="0.5"/>
<text x="38.3" y="234.29999999999998" font-size="8.9" text-anchor="end" font-weight="normal" fill="#1f1f1f" >-1000</text>
<line x1="40.2" y1="231.1" x2="42.8" y2="231.1" stroke="#262626" stroke-width="0.5"/>
<line x1="300.5" y1="231.1" x2="297.9" y2="231.1" stroke="#262626" stroke-width="0.5"/>
<text x="38.3" y="265.3" font-size="8.9" text-anchor="end" font-weight="normal" fill="#1f1f1f" >-1500</text>
<line x1="40.2" y1="262.1" x2="42.8" y2="262.1" stroke="#262626" stroke-width="0.5"/>
<line x1="300.5" y1="262.1" x2="297.9" y2="262.1" stroke="#262626" stroke-width="0.5"/>
<text x="0" y="0" font-size="10" text-anchor="middle" font-weight="normal" fill="#1f1f1f" transform="translate(11.4,186.3) rotate(-90)">East (m)</text>
<text x="170.7" y="282" font-size="10.4" text-anchor="middle" font-weight="bold" fill="#000" >(b)</text>
<g clip-path="url(#mapclip)" fill="none" stroke-linecap="round" stroke-linejoin="round">
<path d="M83.3 151.0 C84.1 152.5 86.0 157.2 88.0 160.0 C90.0 162.8 92.5 165.4 95.0 167.5 C97.5 169.6 100.5 171.3 103.0 172.5 C105.5 173.7 107.3 174.3 110.0 174.5 C112.7 174.7 116.0 173.9 119.0 173.5 C122.0 173.1 125.1 172.6 128.0 172.0 C130.9 171.4 133.1 171.6 136.4 170.0 C139.7 168.4 144.8 165.3 148.0 162.6 C151.2 159.9 153.3 156.7 155.3 153.9 C157.3 151.1 158.7 148.4 160.0 146.0 C161.3 143.6 162.8 140.5 163.3 139.4" stroke="#e07020" stroke-width="2.4" />
<path d="M56.7 212.3 C60.6 210.2 72.8 203.7 80.0 200.0 C87.2 196.3 94.7 193.1 100.0 190.3 C105.3 187.5 108.7 185.2 112.0 183.0 C115.3 180.8 117.5 179.4 120.0 177.4 C122.5 175.4 124.9 173.5 127.0 171.0 C129.1 168.5 131.6 164.0 132.5 162.6" stroke="#e07020" stroke-width="2.4" />
<path d="M121.4 149.3 C122.2 150.4 124.2 153.8 126.0 156.0 C127.8 158.2 130.2 160.7 132.0 162.6 C133.8 164.5 135.1 165.8 137.0 167.5 C138.9 169.2 141.4 171.5 143.6 172.8 C145.8 174.1 147.6 174.8 150.0 175.5 C152.4 176.2 154.7 176.7 158.0 177.0 C161.3 177.3 166.3 177.6 170.0 177.5 C173.7 177.4 176.7 177.4 180.0 176.5 C183.3 175.6 186.6 173.4 190.0 172.0 C193.4 170.6 197.7 168.6 200.7 167.8 C203.7 167.0 205.4 167.0 208.0 167.3 C210.6 167.6 213.7 168.6 216.0 169.6 C218.3 170.6 220.3 172.0 222.0 173.5 C223.7 175.0 224.8 176.7 226.0 178.5 C227.2 180.3 228.2 182.4 229.0 184.5 C229.8 186.6 230.5 188.4 231.0 191.0 C231.5 193.6 231.8 194.9 232.0 200.0 C232.2 205.1 232.3 218.1 232.4 221.7" stroke="#e07020" stroke-width="2.4" />
<path d="M82.6 119.3 C85.5 120.7 94.7 125.2 100.0 127.8 C105.3 130.4 110.3 132.9 114.5 135.0 C118.7 137.1 120.8 138.2 125.0 140.5 C129.2 142.8 133.9 145.1 140.0 148.7 C146.1 152.2 154.5 158.2 161.8 161.8 C169.1 165.4 177.2 168.2 183.6 170.0 C190.0 171.8 194.8 172.0 200.0 172.7 C205.2 173.4 210.0 174.0 215.0 174.2 C220.0 174.4 227.5 173.9 230.0 173.8" stroke="#6ec01e" stroke-width="2.7" />
<path d="M82.6 129.6 C87.2 131.8 100.4 138.3 110.0 143.0 C119.6 147.7 131.9 154.1 140.0 158.0 C148.1 161.9 153.1 163.9 158.5 166.2 C163.9 168.5 167.6 170.0 172.7 171.6 C177.8 173.2 184.4 174.7 189.0 176.0 C193.6 177.3 197.3 178.5 200.0 179.3 C202.7 180.1 201.3 179.7 205.0 180.7 C208.7 181.7 216.6 183.3 222.3 185.5 C228.1 187.7 234.3 191.6 239.5 193.7 C244.7 195.8 249.7 197.2 253.4 198.0 C257.1 198.8 259.2 198.4 262.0 198.2 C264.8 197.9 266.6 197.4 270.0 196.5 C273.4 195.6 280.6 193.2 282.7 192.5" stroke="#6ec01e" stroke-width="2.7" />
<path d="M68.4 203.1 C77.0 199.4 111.4 184.7 120.0 181.0" stroke="#6ec01e" stroke-width="2.7" />
<path d="M69.5 178.0 C69.0 179.2 67.0 183.0 66.2 185.4 C65.5 187.8 64.9 190.9 65.0 192.6 C65.1 194.3 65.9 195.3 66.9 195.8 C67.9 196.3 69.4 196.0 71.0 195.6 C72.6 195.2 75.5 193.8 76.4 193.4" stroke="#6ec01e" stroke-width="2.7" />
<path d="M52.7 200.2 C55.4 200.0 64.5 200.2 69.0 199.3 C73.5 198.4 76.0 196.3 79.5 194.5 C83.0 192.7 86.6 190.8 90.0 188.5 C93.4 186.2 97.0 182.2 100.0 181.0 C103.0 179.8 105.3 180.8 108.0 181.0 C110.7 181.2 113.3 182.4 116.0 182.0 C118.7 181.6 121.5 178.8 124.0 178.5 C126.5 178.2 128.5 179.5 131.0 180.0 C133.5 180.5 135.8 180.9 139.0 181.7 C142.2 182.5 146.5 184.3 150.0 185.0 C153.5 185.7 156.3 185.6 160.0 185.7 C163.7 185.8 168.7 186.1 172.0 185.7 C175.3 185.2 177.7 183.9 180.0 183.0 C182.3 182.1 183.0 180.6 186.0 180.3 C189.0 180.1 194.8 180.6 198.0 181.5 C201.2 182.4 201.8 184.8 205.0 186.0 C208.2 187.2 213.2 187.5 217.0 188.5 C220.8 189.5 224.3 190.6 227.5 192.0 C230.7 193.4 233.1 195.6 236.0 197.0 C238.9 198.4 242.3 199.8 245.0 200.5 C247.7 201.2 249.1 201.6 252.0 201.4 C254.9 201.2 258.8 199.6 262.6 199.5 C266.4 199.4 270.3 200.1 275.0 201.0 C279.7 201.9 288.3 204.2 291.0 204.8" stroke="#0072bd" stroke-width="2.6" stroke-dasharray="8.5,8" stroke-linecap="butt"/>
<path d="M79.4 192.4 L103.6 176 L130.9 172.9 L158.5 164 L186.9 166.5" stroke="#fff" stroke-width="1"/>
<path d="M186.9 166.5 C189.1 166.5 195.2 166.0 200.0 166.3 C204.8 166.6 212.0 167.6 215.7 168.5 C219.4 169.4 220.0 170.3 222.0 171.5 C224.0 172.7 225.6 173.8 227.5 175.5 C229.4 177.2 231.8 180.2 233.5 182.0 C235.2 183.8 235.9 184.9 237.8 186.5 C239.7 188.1 241.8 190.1 244.7 191.7 C247.6 193.2 252.0 194.8 255.0 195.8 C258.0 196.8 261.5 197.5 262.8 197.8" stroke="#fff" stroke-width="1.1" />
<path d="M53.0 200.0 C54.2 200.1 57.3 200.6 60.0 200.3 C62.7 200.1 65.8 199.8 69.0 198.5 C72.2 197.2 76.0 194.6 79.4 192.8 C82.8 191.0 86.1 189.5 89.5 187.5 C92.9 185.5 97.2 182.4 99.6 180.8 C101.9 179.2 100.9 178.8 103.6 178.0 C106.3 177.2 111.5 177.1 116.0 176.3 C120.5 175.5 126.9 174.3 130.9 173.2 C134.9 172.1 136.8 171.0 140.0 169.8 C143.2 168.7 146.9 167.2 150.0 166.3 C153.1 165.4 154.7 164.4 158.5 164.3 C162.3 164.2 168.0 165.4 172.7 165.8 C177.4 166.2 183.4 166.4 186.9 166.8 C190.4 167.2 191.4 167.8 193.6 168.4 C195.8 169.1 197.6 169.7 200.0 170.7 C202.4 171.7 204.2 172.5 208.0 174.3 C211.8 176.1 219.0 179.7 222.7 181.5 C226.4 183.3 227.5 183.9 230.0 185.0 C232.5 186.1 234.5 186.5 237.8 188.0 C241.1 189.5 245.8 192.4 250.0 194.2 C254.2 195.9 258.4 197.4 262.9 198.5 C267.4 199.6 272.3 199.9 277.0 201.0 C281.7 202.1 288.6 204.2 290.9 204.9" stroke="#0072bd" stroke-width="2.0" />
<path d="M53 200 Q68 199.5 79.4 192.4" stroke="#fff" stroke-width="0.6" stroke-dasharray="1.2,1.8"/>
</g>
<circle cx="79.4" cy="192.4" r="3.1" fill="#0072bd" stroke="#fff" stroke-width="0.9"/>
<circle cx="103.6" cy="176" r="3.1" fill="#0072bd" stroke="#fff" stroke-width="0.9"/>
<circle cx="130.9" cy="172.9" r="3.1" fill="#0072bd" stroke="#fff" stroke-width="0.9"/>
<circle cx="158.5" cy="164" r="3.1" fill="#0072bd" stroke="#fff" stroke-width="0.9"/>
<circle cx="186.9" cy="166.5" r="3.1" fill="#0072bd" stroke="#fff" stroke-width="0.9"/>
<circle cx="215.7" cy="168.5" r="3.1" fill="#0072bd" stroke="#fff" stroke-width="0.9"/>
<circle cx="237.8" cy="186.5" r="3.1" fill="#0072bd" stroke="#fff" stroke-width="0.9"/>
<circle cx="262.8" cy="197.8" r="3.1" fill="#0072bd" stroke="#fff" stroke-width="0.9"/>
<circle cx="53.0" cy="200.0" r="2.9" fill="#3a7fd0" stroke="#fff" stroke-width="0.7" stroke-dasharray="1,1"/>
<line x1="48.20" y1="200.00" x2="57.80" y2="200.00" stroke="#ff1818" stroke-width="0.95"/>
<line x1="49.61" y1="196.61" x2="56.39" y2="203.39" stroke="#ff1818" stroke-width="0.95"/>
<line x1="53.00" y1="195.20" x2="53.00" y2="204.80" stroke="#ff1818" stroke-width="0.95"/>
<line x1="56.39" y1="196.61" x2="49.61" y2="203.39" stroke="#ff1818" stroke-width="0.95"/>
<circle cx="53.0" cy="200.0" r="1.4" fill="#e0102c"/>
<circle cx="290.9" cy="204.9" r="3.1" fill="#0072bd" stroke="#fff" stroke-width="0.8"/>
<circle cx="290.9" cy="204.9" r="5.5" fill="none" stroke="#e01010" stroke-width="1.1"/>
<defs><linearGradient id="grayg" x1="0" x2="0" y1="0" y2="1"><stop offset="0" stop-color="#1c2a38"/><stop offset="0.55" stop-color="#4c5864"/><stop offset="0.8" stop-color="#8a8e92"/><stop offset="1" stop-color="#a0a0a0"/></linearGradient>
<linearGradient id="tealg2" x1="0" y1="0" x2="1" y2="0.45"><stop offset="0" stop-color="#22b88c"/><stop offset="0.35" stop-color="#1f8c7e"/><stop offset="1" stop-color="#1c6c8c"/></linearGradient><linearGradient id="tealg" x1="0" x2="0" y1="0" y2="1"><stop offset="0" stop-color="#22b58f"/><stop offset="0.35" stop-color="#1f9a8c"/><stop offset="1" stop-color="#1b6e9a"/></linearGradient></defs>
<path d="M40.6 315 L108 315 L115 323.8 L120.3 332.5 L123.8 343 L127 347.5 L140 351 L150 352.5 L162 353.3 L170 354.5 L190 355.5 L208 356.7 L215 357.5 L230 359.6 L250 362 L270 364.8 L285 367 L300.5 369 L300.5 379.6 L140 379.6 L120.3 377.2 L108 373.7 L90.5 371 L73 368.4 L64.3 360.6 L55.5 360.6 L46.8 362.3 L40.6 358.8 Z" fill="#060606"/>
<path d="M40.6 331.6 L55.5 334.3 L64.3 343 L73 346.5 L83 348.5 L86 353 L82 361 L73 368.4 L64.3 360.6 L55.5 360.6 L46.8 362.3 L40.6 358.8 Z" fill="url(#grayg)"/>
<path d="M95.8 349 L108 350.5 L110 357 L104 359.5 L97 358 Z" fill="#5a6e86"/>
<path d="M108 357 L115 358 L114 362 L108 361 Z" fill="#2d5fc0"/>
<path d="M46.7 342.9h1.3v4.9h-1.3zM64.5 345.8h1.4v6.1h-1.4zM64.5 342.7h2.5v8.8h-2.5zM47.3 332.3h2.7v4.6h-2.7zM72.6 335.7h1.7v7.3h-1.7zM82.5 341.9h1.2v11.1h-1.2zM42.9 337.4h2.0v10.4h-2.0zM80.2 351.7h3.2v10.6h-3.2zM84.2 353.2h1.9v4.9h-1.9zM47.5 346.7h1.2v9.1h-1.2zM44.6 343.2h1.9v10.2h-1.9zM62.2 347.2h2.6v11.0h-2.6zM59.7 336.1h1.1v12.7h-1.1zM50.3 336.6h2.4v9.9h-2.4zM45.5 344.3h2.5v9.7h-2.5zM44.3 349.5h1.8v6.7h-1.8zM46.6 352.2h2.8v10.2h-2.8zM64.2 334.6h1.2v8.0h-1.2zM45.4 351.4h1.9v4.0h-1.9zM42.9 350.3h1.1v13.9h-1.1zM57.4 355.4h1.7v6.5h-1.7zM85.4 354.1h2.5v7.9h-2.5zM76.7 340.5h1.8v4.0h-1.8zM72.2 355.1h1.9v8.4h-1.9zM58.1 346.6h3.0v4.2h-3.0zM83.9 332.7h1.7v4.1h-1.7zM47.6 350.5h2.2v12.7h-2.2zM83.5 337.5h1.8v6.0h-1.8zM61.3 336.8h2.7v13.2h-2.7zM54.0 337.4h1.9v6.8h-1.9zM70.4 350.6h1.2v13.5h-1.2zM49.8 341.1h2.0v13.5h-2.0zM73.4 351.9h1.8v8.6h-1.8zM75.9 347.4h1.6v13.9h-1.6zM83.9 343.7h2.4v12.7h-2.4zM66.4 352.5h1.6v4.8h-1.6zM62.9 351.7h2.7v5.9h-2.7zM45.0 340.4h2.6v8.6h-2.6zM64.5 352.4h1.8v10.9h-1.8zM64.4 341.3h1.7v12.7h-1.7zM49.1 337.9h2.8v6.5h-2.8zM71.9 337.9h3.0v8.2h-3.0zM84.2 337.3h1.1v13.4h-1.1zM85.9 339.7h1.1v13.5h-1.1zM72.0 354.2h2.3v12.2h-2.3zM48.0 337.7h2.9v13.4h-2.9zM51.0 340.3h1.7v10.1h-1.7zM50.6 352.9h2.4v5.1h-2.4zM59.3 343.3h2.6v12.7h-2.6zM75.8 332.4h2.7v12.1h-2.7zM41.0 337.4h2.9v11.3h-2.9zM65.3 353.3h1.6v4.9h-1.6zM77.9 351.0h2.3v6.2h-2.3zM60.7 349.7h1.7v8.0h-1.7zM75.3 348.7h2.6v7.6h-2.6zM52.8 344.0h1.8v5.9h-1.8zM59.8 334.1h1.8v7.1h-1.8zM55.7 344.2h2.9v13.0h-2.9zM54.3 335.2h2.9v4.9h-2.9zM75.2 349.7h1.9v13.1h-1.9z" fill="#06080a" opacity="0.9"/>
<path d="M40.6 315 L50 314.6 L70 314.8 L90 314.4 L108 315 L115 323.8 L120.3 332.5 L123.8 343 L116.8 337 L108 336 L95.8 339.5 L90.5 343 L81.8 339.5 L73 334.3 L55.5 325.5 L40.6 318.5 Z" fill="url(#tealg2)"/>
<path d="M81.8 339.5 L90.5 343 L95.8 339.5 L104 337 L98 335 L86 336 Z" fill="#2080d0" opacity="0.8"/>
<path d="M40.6 315.4 L50 315 L70 315.2 L90 314.8 L107 315.4" stroke="#2ad6a2" stroke-width="1.1" fill="none"/>
<path d="M41 316.8 L84 317.2 L78 336 L55.5 325.5 L41 318.6 Z" fill="#0a1a18" opacity="0.3"/>
<path d="M80.4 321.3h1.4v5.4h-1.4zM76.2 326.1h0.8v3.5h-0.8zM99.1 329.1h0.9v8.7h-0.9zM83.4 320.9h0.6v4.1h-0.6zM72.1 321.6h1.1v6.2h-1.1zM116.4 326.8h0.7v3.5h-0.7zM106.3 333.7h0.8v7.5h-0.8zM88.9 326.1h0.9v5.6h-0.9zM79.6 320.4h1.6v8.3h-1.6zM119.9 325.3h0.8v7.1h-0.8zM77.5 320.0h1.4v5.0h-1.4zM97.9 323.3h1.1v5.9h-1.1zM81.6 326.3h1.0v8.6h-1.0zM120.5 330.1h1.5v3.8h-1.5zM105.9 326.2h1.3v4.1h-1.3zM81.3 326.5h1.0v3.9h-1.0zM119.4 328.4h1.2v6.1h-1.2zM104.1 328.4h0.8v4.7h-0.8zM101.7 333.0h1.1v8.2h-1.1zM86.5 328.2h1.1v3.3h-1.1zM110.4 333.5h0.8v3.5h-0.8zM95.5 328.5h0.7v8.8h-0.7zM78.3 326.8h0.6v7.8h-0.6zM90.6 330.0h0.8v5.5h-0.8zM75.5 330.7h1.1v6.1h-1.1zM105.5 330.7h1.0v5.4h-1.0z" fill="#0c2a3a" opacity="0.55"/>
<path d="M104 373 L118 375 L132 377 L140 378.5 L120 378.5 L104 375.5 Z" fill="#777" opacity="0.8"/>
<path d="M127 348.5 L131 347.5 L136 350 L141 348.8 L147 351 L153 350.5 L160 352.8 L166 353 L166 355 L150 354 L127 350.5 Z" fill="#2f6fe0"/>
<path d="M273.6 364.5 L285 366 L300.5 368.5 L300.5 379.6 L275 379.6 Z" fill="#0e2ac8"/>
<path d="M297.0 368.5h1.1v7.7h-1.1zM287.3 369.8h0.9v8.7h-0.9zM282.0 368.4h1.4v8.3h-1.4zM275.3 369.0h0.6v4.7h-0.6zM286.4 373.9h1.1v5.5h-1.1zM298.5 370.1h0.9v4.9h-0.9zM289.1 371.3h1.1v3.7h-1.1zM298.2 374.1h1.5v5.3h-1.5zM286.2 371.5h0.8v7.2h-0.8zM288.8 371.5h1.1v4.8h-1.1zM278.4 372.5h1.0v3.7h-1.0zM275.4 371.8h1.4v3.6h-1.4zM274.5 373.6h1.6v4.8h-1.6zM282.2 369.0h0.8v7.0h-0.8zM294.3 371.3h1.2v4.6h-1.2zM279.6 369.9h0.8v3.5h-0.8z" fill="#050a40" opacity="0.7"/>
<path d="M284 379.6 L286 376.5 L300.5 375.5 L300.5 379.6 Z" fill="#060606"/>
<path d="M208 357 L215 355.2 L220 356.5 L225 353.6 L228.5 355.5 L232 353.4 L238 356.5 L241 354 L247.7 354.5 L252 357.5 L258 357 L262 359.5 L268 360 L274 362.5 L280 363.5 L290 366 L300 368 L300 371 L280 367.5 L260 364 L240 361 L208 359.5 Z" fill="#2c58dc"/>
<path d="M210 359.2v-2.4h1.7v2.4zM213 359.6v-3.2h2.2v3.2zM216 360.0v-3.9h2.3v3.9zM219 360.4v-4.2h2.4v4.2zM222 360.8v-3.4h2.8v3.4zM225 361.1v-2.1h1.9v2.1zM228 361.5v-1.5h2.9v1.5zM231 361.9v-5.0h2.1v5.0zM234 362.2v-4.9h2.3v4.9zM237 362.6v-5.2h2.9v5.2zM240 363.0v-2.8h1.9v2.8zM243 363.4v-3.2h2.9v3.2zM246 363.8v-3.4h2.0v3.4zM249 364.1v-1.6h2.1v1.6zM252 364.5v-5.2h2.1v5.2zM255 364.9v-4.7h2.8v4.7zM258 365.2v-5.2h2.6v5.2zM261 365.6v-3.5h1.9v3.5zM264 366.0v-5.3h2.7v5.3zM267 366.4v-4.5h1.6v4.5zM270 366.8v-4.1h2.5v4.1zM273 367.1v-2.0h2.0v2.0z" fill="#060606"/>
<path d="M176.8 353.5 L177 340 L181 338 L185 330 L185.5 319 L189.5 318.2 L190 324 L193 322 L194.3 300 L200.8 300 L201 315 L203.5 315 L203.6 328.5 L205.9 328.5 L206 336.4 L207.5 336.4 L207.5 356 L176.8 356 Z" fill="url(#spike)"/>
<path d="M169.4 356 L171.6 297.6 L173.4 297.6 L175.6 356 Z" fill="url(#spike)"/>
<path d="M173.4 356 L172.8 297.6 L173.4 297.6 L175.6 356 Z" fill="#041828" opacity="0.5"/>
<path d="M176.9 356 L177.8 300.7 L179.1 300.7 L179.9 356 Z" fill="url(#spike)"/>
<path d="M178.8 356 L178.6 300.7 L179.1 300.7 L179.9 356 Z" fill="#041828" opacity="0.5"/>
<path d="M182.1 356 L182.9 299.6 L184.2 299.6 L185.1 356 Z" fill="url(#spike)"/>
<path d="M184.0 356 L183.8 299.6 L184.2 299.6 L185.1 356 Z" fill="#041828" opacity="0.5"/>
<path d="M185.8 356 L186.8 318.2 L189.2 318.2 L190.2 356 Z" fill="url(#spike)"/>
<path d="M188.7 356 L188.4 318.2 L189.2 318.2 L190.2 356 Z" fill="#041828" opacity="0.5"/>
<path d="M189.8 356 L190.7 301 L192.5 301 L193.4 356 Z" fill="url(#spike)"/>
<path d="M192.1 356 L191.9 301 L192.5 301 L193.4 356 Z" fill="#041828" opacity="0.5"/>
<path d="M194.1 356 L194.4 296.4 L200.6 296.4 L200.9 356 Z" fill="url(#spike)"/>
<path d="M198.5 356 L198.4 296.4 L200.6 296.4 L200.9 356 Z" fill="#041828" opacity="0.5"/>
<path d="M200.2 356 L200.4 315 L203.4 315 L203.6 356 Z" fill="url(#spike)"/>
<path d="M202.4 356 L202.3 315 L203.4 315 L203.6 356 Z" fill="#041828" opacity="0.5"/>
<path d="M194.3 296.4 L194.3 353 M200.7 296.4 L200.7 353" stroke="#0a2030" stroke-width="0.5" opacity="0.7" fill="none"/>
<line x1="40.5" y1="284" x2="40.5" y2="379.5" stroke="#262626" stroke-width="0.6"/>
<line x1="40.5" y1="379.5" x2="300" y2="379.5" stroke="#262626" stroke-width="0.6"/>
<text x="38" y="382.8" font-size="8.9" text-anchor="end" font-weight="normal" fill="#1f1f1f" >0</text>
<line x1="40.5" y1="379.5" x2="43" y2="379.5" stroke="#262626" stroke-width="0.5"/>
<text x="38" y="354.8" font-size="8.9" text-anchor="end" font-weight="normal" fill="#1f1f1f" >50</text>
<line x1="40.5" y1="351.5" x2="43" y2="351.5" stroke="#262626" stroke-width="0.5"/>
<text x="38" y="326.8" font-size="8.9" text-anchor="end" font-weight="normal" fill="#1f1f1f" >100</text>
<line x1="40.5" y1="323.5" x2="43" y2="323.5" stroke="#262626" stroke-width="0.5"/>
<text x="38" y="298.8" font-size="8.9" text-anchor="end" font-weight="normal" fill="#1f1f1f" >150</text>
<line x1="40.5" y1="295.5" x2="43" y2="295.5" stroke="#262626" stroke-width="0.5"/>
<text x="39.599999999999994" y="391" font-size="8.9" text-anchor="middle" font-weight="normal" fill="#1f1f1f" >1500</text>
<text x="70.6" y="391" font-size="8.9" text-anchor="middle" font-weight="normal" fill="#1f1f1f" >1000</text>
<text x="101.6" y="391" font-size="8.9" text-anchor="middle" font-weight="normal" fill="#1f1f1f" >500</text>
<text x="132.6" y="391" font-size="8.9" text-anchor="middle" font-weight="normal" fill="#1f1f1f" >0</text>
<text x="163.6" y="391" font-size="8.9" text-anchor="middle" font-weight="normal" fill="#1f1f1f" >-500</text>
<text x="194.6" y="391" font-size="8.9" text-anchor="middle" font-weight="normal" fill="#1f1f1f" >-1000</text>
<text x="225.6" y="391" font-size="8.9" text-anchor="middle" font-weight="normal" fill="#1f1f1f" >-1500</text>
<text x="256.6" y="391" font-size="8.9" text-anchor="middle" font-weight="normal" fill="#1f1f1f" >-2000</text>
<text x="287.6" y="391" font-size="8.9" text-anchor="middle" font-weight="normal" fill="#1f1f1f" >-2500</text>
<text x="0" y="0" font-size="10" text-anchor="middle" font-weight="normal" fill="#1f1f1f" transform="translate(20.2,336) rotate(-90)">Up (m)</text>
<text x="170.3" y="403.7" font-size="10" text-anchor="middle" font-weight="normal" fill="#1f1f1f" >North (m)</text>
<g fill="none" stroke-linecap="round" stroke-linejoin="round">
<path d="M103.7 298 L114.8 322" stroke="#111" stroke-width="1.1"/>
<path d="M131 343 Q138 340 143 343 Q149 348 155 352" stroke="#111" stroke-width="1.1"/>
<path d="M215.2 354.5 Q225 350 230 343 Q234 338 237.8 337" stroke="#111" stroke-width="1.2"/>
<path d="M252 339 L261.5 347.3 L288 365.5" stroke="#111" stroke-width="1.2"/>
<path d="M56.3 317.0 C56.7 315.8 57.7 312.2 58.5 310.0 C59.3 307.8 60.2 305.3 61.0 303.5 C61.8 301.7 62.6 300.3 63.5 299.3 C64.4 298.3 65.3 297.8 66.2 297.7 C67.1 297.6 68.0 298.0 69.0 299.0 C70.0 300.0 71.3 302.0 72.5 303.5 C73.7 305.0 74.9 307.1 76.0 308.2 C77.1 309.3 78.1 309.8 79.3 309.9 C80.5 310.0 81.5 309.7 83.0 309.0 C84.5 308.3 86.2 306.8 88.0 305.5 C89.8 304.2 92.2 302.2 94.0 301.0 C95.8 299.8 97.4 298.9 99.0 298.3 C100.6 297.7 102.2 297.2 103.5 297.6 C104.8 298.0 105.8 298.9 107.0 300.5 C108.2 302.1 108.1 304.3 110.5 307.0 C112.9 309.7 117.8 313.5 121.4 316.6 C125.0 319.7 128.7 322.4 132.3 325.5 C135.9 328.6 139.6 331.9 143.2 335.5 C146.8 339.1 151.4 344.3 154.0 347.0 C156.6 349.7 157.8 350.8 158.5 351.5" stroke="#0072bd" stroke-width="2.3" />
<path d="M100.8 303.5 L103.8 308.5 M116 310.5 L122.5 316 M128 320 L134.5 324.5 M139 330 L145.5 337 M149.5 341 L154.5 346.5" stroke="#0072bd" stroke-width="2.4"/>
<path d="M206.2 344.5 Q220 334 237 333 Q250 333 262 343 Q275 354 288.4 366" stroke="#0072bd" stroke-width="2.3"/>
<path d="M211 340.5 L219 337 M258 345 L262 352 M266 347.5 L274 355" stroke="#0072bd" stroke-width="2.4"/>
</g>
<circle cx="79.6" cy="310.3" r="2.9" fill="#0072bd" stroke="#111" stroke-width="0.6"/>
<circle cx="103.7" cy="298" r="2.9" fill="#0072bd" stroke="#111" stroke-width="0.6"/>
<circle cx="131" cy="343" r="2.9" fill="#0072bd" stroke="#111" stroke-width="0.6"/>
<circle cx="215.2" cy="354.5" r="2.9" fill="#0072bd" stroke="#111" stroke-width="0.6"/>
<circle cx="237.8" cy="337" r="2.9" fill="#0072bd" stroke="#111" stroke-width="0.6"/>
<circle cx="261.5" cy="347.3" r="2.9" fill="#0072bd" stroke="#111" stroke-width="0.6"/>
<circle cx="291" cy="367.5" r="2.9" fill="#0072bd" stroke="#111" stroke-width="0.5"/>
<path d="M285.5 368 A5.5 5.5 0 0 1 296.5 368" fill="none" stroke="#e01010" stroke-width="0.8"/>
<text x="154.2" y="420.9" font-size="11" text-anchor="middle" font-weight="normal" fill="#000" style='font-family:"Liberation Serif", serif' >(<tspan font-weight="bold">a</tspan>)</text>
<text x="435.8" y="421.1" font-size="11" text-anchor="middle" font-weight="normal" fill="#000" style='font-family:"Liberation Serif", serif' >(<tspan font-weight="bold">b</tspan>)</text>
<rect x="378" y="136.8" width="144.20000000000005" height="13.199999999999989" fill="#fff" stroke="#262626" stroke-width="0.6"/>
<line x1="381.2" y1="143.4" x2="415.2" y2="143.4" stroke="#111" stroke-width="1.9"/>
<circle cx="398.6" cy="143.4" r="3.1" fill="#d4d4d4" stroke="#111" stroke-width="1.3"/>
<text x="417.8" y="146.6" font-size="8.2" text-anchor="start" font-weight="normal" fill="#1f1f1f" >strategic</text>
<line x1="457.2" y1="143.4" x2="490" y2="143.4" stroke="#c8ccd0" stroke-width="0.8"/>
<text x="491.8" y="146.6" font-size="8.2" text-anchor="start" font-weight="normal" fill="#1f1f1f" >Level 1</text>
<rect x="362" y="155.2" width="175" height="96" fill="#fff" stroke="#262626" stroke-width="0.6"/>
<text x="362.0" y="262.1" font-size="8.9" text-anchor="middle" font-weight="normal" fill="#1f1f1f" >0</text>
<line x1="362.0" y1="251.2" x2="362.0" y2="249" stroke="#262626" stroke-width="0.5"/>
<line x1="362.0" y1="155.2" x2="362.0" y2="157.4" stroke="#262626" stroke-width="0.5"/>
<text x="397.2" y="262.1" font-size="8.9" text-anchor="middle" font-weight="normal" fill="#1f1f1f" >100</text>
<line x1="397.2" y1="251.2" x2="397.2" y2="249" stroke="#262626" stroke-width="0.5"/>
<line x1="397.2" y1="155.2" x2="397.2" y2="157.4" stroke="#262626" stroke-width="0.5"/>
<text x="432.4" y="262.1" font-size="8.9" text-anchor="middle" font-weight="normal" fill="#1f1f1f" >200</text>
<line x1="432.4" y1="251.2" x2="432.4" y2="249" stroke="#262626" stroke-width="0.5"/>
<line x1="432.4" y1="155.2" x2="432.4" y2="157.4" stroke="#262626" stroke-width="0.5"/>
<text x="467.6" y="262.1" font-size="8.9" text-anchor="middle" font-weight="normal" fill="#1f1f1f" >300</text>
<line x1="467.6" y1="251.2" x2="467.6" y2="249" stroke="#262626" stroke-width="0.5"/>
<line x1="467.6" y1="155.2" x2="467.6" y2="157.4" stroke="#262626" stroke-width="0.5"/>
<text x="502.79999999999995" y="262.1" font-size="8.9" text-anchor="middle" font-weight="normal" fill="#1f1f1f" >400</text>
<line x1="502.79999999999995" y1="251.2" x2="502.79999999999995" y2="249" stroke="#262626" stroke-width="0.5"/>
<line x1="502.79999999999995" y1="155.2" x2="502.79999999999995" y2="157.4" stroke="#262626" stroke-width="0.5"/>
<text x="538.0" y="262.1" font-size="8.9" text-anchor="middle" font-weight="normal" fill="#1f1f1f" >500</text>
<text x="359.5" y="254.5" font-size="8.9" text-anchor="end" font-weight="normal" fill="#1f1f1f" >0</text>
<line x1="362" y1="251.2" x2="364.2" y2="251.2" stroke="#262626" stroke-width="0.5"/>
<line x1="537" y1="251.2" x2="534.8" y2="251.2" stroke="#262626" stroke-width="0.5"/>
<text x="359.5" y="222.5" font-size="8.9" text-anchor="end" font-weight="normal" fill="#1f1f1f" >5</text>
<line x1="362" y1="219.2" x2="364.2" y2="219.2" stroke="#262626" stroke-width="0.5"/>
<line x1="537" y1="219.2" x2="534.8" y2="219.2" stroke="#262626" stroke-width="0.5"/>
<text x="359.5" y="190.5" font-size="8.9" text-anchor="end" font-weight="normal" fill="#1f1f1f" >10</text>
<line x1="362" y1="187.2" x2="364.2" y2="187.2" stroke="#262626" stroke-width="0.5"/>
<line x1="537" y1="187.2" x2="534.8" y2="187.2" stroke="#262626" stroke-width="0.5"/>
<text x="359.5" y="158.5" font-size="8.9" text-anchor="end" font-weight="normal" fill="#1f1f1f" >15</text>
<line x1="362" y1="155.2" x2="364.2" y2="155.2" stroke="#262626" stroke-width="0.5"/>
<line x1="537" y1="155.2" x2="534.8" y2="155.2" stroke="#262626" stroke-width="0.5"/>
<text x="0" y="0" font-size="10" text-anchor="middle" font-weight="normal" fill="#1f1f1f" transform="translate(347,203) rotate(-90)">Velocity Norm (m/s)</text>
<text x="450" y="274.1" font-size="10.2" text-anchor="middle" font-weight="normal" fill="#1f1f1f" >Time (s)</text>
<g clip-path="url(#velclip)" fill="none" stroke-linejoin="round">
<path d="M362.0 251.2 C362.1 248.0 362.5 242.1 362.9 232.0 C363.2 221.9 363.7 201.7 364.1 190.4 C364.5 179.1 365.0 170.6 365.3 164.2 C365.7 157.8 366.0 152.2 366.4 152.0 C366.8 151.8 367.1 157.9 367.5 162.9 C367.8 167.9 368.2 177.5 368.7 182.1 C369.1 186.7 369.6 188.6 370.1 190.4 C370.6 192.2 370.7 192.5 371.5 192.6 C372.3 192.7 373.7 191.8 374.7 191.0 C375.7 190.3 376.4 189.0 377.5 188.2 C378.6 187.3 379.8 186.6 381.4 185.9 C382.9 185.2 385.2 184.1 386.6 184.0 C388.1 183.9 388.9 184.3 390.2 185.3 C391.5 186.2 393.2 188.8 394.4 189.8 C395.6 190.7 396.3 191.7 397.2 191.0 C398.1 190.4 398.8 186.6 400.0 185.9 C401.2 185.3 402.9 187.1 404.2 187.2 C405.5 187.3 406.8 186.8 407.8 186.6 C408.7 186.3 408.9 186.3 410.0 185.9 C411.2 185.5 413.1 184.2 414.8 184.0 C416.5 183.8 418.6 184.1 420.1 184.6 C421.5 185.2 422.5 186.4 423.6 187.2 C424.7 188.0 425.6 189.2 426.8 189.4 C427.9 189.7 429.1 189.1 430.6 188.5 C432.2 187.9 434.2 186.6 435.9 185.9 C437.7 185.3 439.9 184.8 441.2 184.6 C442.5 184.5 442.5 184.6 443.7 185.0 C444.8 185.3 446.6 185.9 448.2 186.6 C449.9 187.3 451.6 188.5 453.5 189.1 C455.4 189.7 457.7 190.1 459.5 190.1 C461.3 190.1 462.4 189.7 464.1 189.1 C465.7 188.5 467.5 187.1 469.4 186.6 C471.2 186.0 473.6 185.7 475.3 185.9 C477.1 186.1 478.6 187.2 479.9 187.8 C481.3 188.5 482.3 189.4 483.4 189.8 C484.6 190.1 485.6 190.2 487.0 189.8 C488.3 189.3 490.2 187.5 491.5 187.2 C492.9 186.9 494.1 187.0 495.1 187.8 C496.1 188.7 496.9 191.1 497.5 192.3 C498.1 193.5 498.0 195.2 498.6 194.9 C499.1 194.6 500.1 193.8 500.7 190.4 C501.2 187.0 501.5 179.8 501.9 174.4 C502.3 169.0 502.7 161.5 503.0 157.8 C503.3 154.0 503.5 151.8 503.8 152.0 C504.0 152.2 504.1 153.7 504.4 159.0 C504.6 164.4 504.9 174.0 505.3 184.0 C505.6 194.0 506.1 208.0 506.5 219.2 C506.9 230.4 507.5 245.9 507.7 251.2" stroke="#111" stroke-width="1.9"/>
<path d="M362.0 251.2 C362.1 248.0 362.5 242.1 362.9 232.0 C363.2 221.9 363.7 201.7 364.1 190.4 C364.5 179.1 365.0 170.6 365.3 164.2 C365.7 157.8 366.0 152.2 366.4 152.0 C366.8 151.8 367.1 157.9 367.5 162.9 C367.8 167.9 368.2 177.5 368.7 182.1 C369.1 186.7 369.6 188.6 370.1 190.4 C370.6 192.2 370.7 192.5 371.5 192.6 C372.3 192.7 373.7 191.8 374.7 191.0 C375.7 190.3 376.4 189.1 377.5 188.2 C378.6 187.2 379.8 186.1 381.4 185.3 C382.9 184.5 385.3 183.7 386.6 183.4 C388.0 183.0 388.7 182.9 389.5 183.4 C390.2 183.8 390.8 182.6 391.2 185.9 C391.7 189.2 391.8 196.6 392.1 203.2 C392.4 209.8 392.5 219.7 392.8 225.6 C393.1 231.5 393.4 235.8 393.7 238.4 C394.0 241.0 394.1 240.7 394.7 241.3 C395.3 241.9 395.6 241.9 397.2 242.1 C398.8 242.3 401.9 242.4 404.2 242.5 C406.6 242.6 408.9 242.8 411.3 242.9 C413.6 243.0 416.9 243.2 418.3 243.2 C419.7 243.2 419.4 243.5 419.7 242.9 C420.1 242.2 420.1 240.1 420.4 239.4 C420.8 238.6 421.3 238.6 421.8 238.4 C422.4 238.2 423.2 239.7 423.6 238.1 C424.0 236.5 424.2 234.1 424.5 228.8 C424.7 223.5 424.9 212.8 425.2 206.4 C425.4 200.0 425.6 193.3 426.1 190.4 C426.5 187.5 426.8 189.4 427.8 189.1 C428.9 188.8 430.8 188.9 432.4 188.5 C434.0 188.1 435.8 187.1 437.7 186.6 C439.6 186.0 441.6 185.2 443.7 185.3 C445.7 185.4 448.1 186.6 450.0 187.2 C451.9 187.8 453.7 188.7 455.3 189.1 C456.9 189.5 458.0 189.9 459.5 189.8 C461.0 189.7 462.4 189.1 464.1 188.5 C465.7 187.8 467.5 186.4 469.4 185.9 C471.2 185.4 473.3 185.4 475.3 185.6 C477.4 185.8 479.7 186.6 481.7 187.2 C483.6 187.8 485.3 189.0 487.0 189.1 C488.6 189.2 490.1 188.4 491.5 187.8 C493.0 187.3 494.4 186.3 495.8 185.9 C497.2 185.5 498.5 185.1 500.0 185.3 C501.5 185.5 503.2 186.6 504.6 187.2 C505.9 187.8 506.9 189.1 508.1 189.1 C509.3 189.1 510.4 187.6 511.6 187.2 C512.8 186.8 513.9 186.5 515.1 186.6 C516.3 186.7 517.6 187.8 518.6 187.8 C519.6 187.8 520.3 187.3 521.1 186.6 C521.9 185.8 522.6 183.3 523.2 183.4 C523.9 183.5 524.4 185.3 525.0 187.2 C525.6 189.1 526.2 194.3 526.7 194.9 C527.3 195.4 527.9 193.8 528.3 190.4 C528.8 187.0 529.1 179.8 529.6 174.4 C530.0 169.0 530.4 161.5 530.8 157.8 C531.1 154.0 531.3 151.8 531.6 152.0 C531.8 152.2 532.0 153.7 532.3 159.0 C532.5 164.4 532.8 174.0 533.1 184.0 C533.4 194.0 533.8 208.0 534.1 219.2 C534.5 230.4 535.0 245.9 535.2 251.2" stroke="#0072bd" stroke-width="1.9"/>
</g>
<circle cx="362.0" cy="251.2" r="3.1" fill="#0072bd" stroke="#111" stroke-width="1"/>
<circle cx="377.5" cy="188.2" r="3.1" fill="#0072bd" stroke="#111" stroke-width="1"/>
<circle cx="394.4" cy="189.8" r="3.1" fill="#0072bd" stroke="#111" stroke-width="1"/>
<circle cx="410.0" cy="185.9" r="3.1" fill="#0072bd" stroke="#111" stroke-width="1"/>
<circle cx="426.8" cy="189.4" r="3.1" fill="#0072bd" stroke="#111" stroke-width="1"/>
<circle cx="443.7" cy="185.0" r="3.1" fill="#0072bd" stroke="#111" stroke-width="1"/>
<circle cx="459.5" cy="190.1" r="3.1" fill="#0072bd" stroke="#111" stroke-width="1"/>
<circle cx="475.3" cy="185.9" r="3.1" fill="#0072bd" stroke="#111" stroke-width="1"/>
<circle cx="491.5" cy="187.2" r="3.1" fill="#0072bd" stroke="#111" stroke-width="1"/>
<circle cx="508.1" cy="251.2" r="3.1" fill="#0072bd" stroke="#111" stroke-width="1"/>
</svg></body></html>
